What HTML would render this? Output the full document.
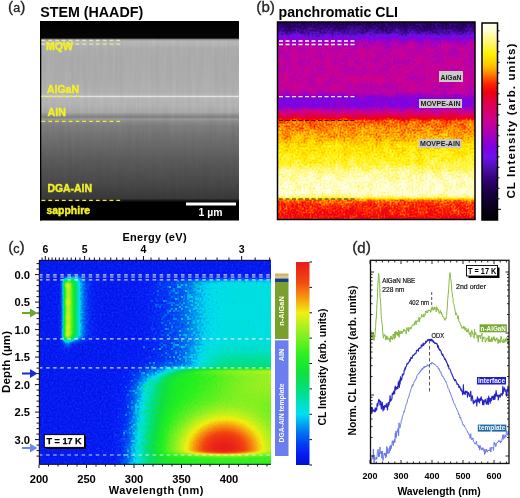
<!DOCTYPE html><html><head><meta charset="utf-8"><style>html,body{margin:0;padding:0;background:#fff;width:520px;height:498px;overflow:hidden}svg{display:block}text{font-family:"Liberation Sans",Arial,sans-serif}.b{font-weight:bold}</style></head><body>
<svg width="520" height="498" viewBox="0 0 520 498">
<defs>
<linearGradient id="ga" x1="0" y1="0" x2="0" y2="1">
<stop offset="0.0000" stop-color="#000000"/>
<stop offset="0.0854" stop-color="#050505"/>
<stop offset="0.0930" stop-color="#909090"/>
<stop offset="0.1005" stop-color="#b8b8b8"/>
<stop offset="0.1156" stop-color="#b4b4b4"/>
<stop offset="0.1357" stop-color="#acacac"/>
<stop offset="0.1960" stop-color="#aaaaaa"/>
<stop offset="0.2965" stop-color="#acacac"/>
<stop offset="0.3568" stop-color="#b0b0b0"/>
<stop offset="0.3719" stop-color="#b6b6b6"/>
<stop offset="0.3784" stop-color="#e4e4e4"/>
<stop offset="0.3844" stop-color="#b6b6b6"/>
<stop offset="0.4221" stop-color="#b2b2b2"/>
<stop offset="0.4573" stop-color="#a8a8a8"/>
<stop offset="0.4749" stop-color="#8a8a8a"/>
<stop offset="0.4824" stop-color="#808080"/>
<stop offset="0.4925" stop-color="#9a9a9a"/>
<stop offset="0.5025" stop-color="#8a8a8a"/>
<stop offset="0.5226" stop-color="#7e7e7e"/>
<stop offset="0.5729" stop-color="#727272"/>
<stop offset="0.6985" stop-color="#5a5a5a"/>
<stop offset="0.8241" stop-color="#464646"/>
<stop offset="0.8894" stop-color="#383838"/>
<stop offset="0.8995" stop-color="#181818"/>
<stop offset="0.9095" stop-color="#000000"/>
<stop offset="1.0000" stop-color="#000000"/>
</linearGradient>
<filter id="fa" x="40" y="21" width="199" height="199.5" filterUnits="userSpaceOnUse" color-interpolation-filters="sRGB">
<feTurbulence type="fractalNoise" baseFrequency="0.25 0.02" numOctaves="2" seed="2" result="t"/>
<feColorMatrix in="t" type="matrix" values="1 0 0 0 0 1 0 0 0 0 1 0 0 0 0 0 0 0 0 1" result="n"/>
<feComposite in="SourceGraphic" in2="n" operator="arithmetic" k1="0.07" k2="0.965" k3="0" k4="0"/>
</filter>
</defs>
<text x="8" y="11.6" font-size="15.5" fill="#222" stroke="#222" stroke-width="0.3">(<tspan font-size="12.5" dy="0.7">a</tspan><tspan dy="-0.7">)</tspan></text>
<text class="b" x="40.2" y="17.3" font-size="14" textLength="103" lengthAdjust="spacingAndGlyphs">STEM (HAADF)</text>
<rect x="40" y="21" width="199" height="199.5" fill="url(#ga)" filter="url(#fa)"/>
<rect x="40" y="21" width="1.3" height="199.5" fill="#000"/>
<line x1="41.5" y1="40.4" x2="121" y2="40.4" stroke="#e8e8a8" stroke-width="1.3" stroke-dasharray="3.8,3" opacity="1"/>
<line x1="41.5" y1="44.2" x2="121" y2="44.2" stroke="#e8e8a8" stroke-width="1.3" stroke-dasharray="3.8,3" opacity="1"/>
<line x1="41.5" y1="96.3" x2="82" y2="96.3" stroke="#f2ee2a" stroke-width="1.2" stroke-dasharray="3.8,3" opacity="1"/>
<line x1="41.5" y1="121.4" x2="121" y2="121.4" stroke="#f2ee2a" stroke-width="1.3" stroke-dasharray="3.8,3" opacity="1"/>
<line x1="41.5" y1="200.4" x2="121" y2="200.4" stroke="#f2ee2a" stroke-width="1.3" stroke-dasharray="3.8,3" opacity="1"/>
<text class="b" x="46" y="49.6" font-size="11" fill="#f2ee2a" stroke="#f2ee2a" stroke-width="0.45" textLength="27" lengthAdjust="spacingAndGlyphs">MQW</text>
<text class="b" x="47" y="92.8" font-size="11" fill="#f2ee2a" stroke="#f2ee2a" stroke-width="0.45" textLength="32" lengthAdjust="spacingAndGlyphs">AlGaN</text>
<text class="b" x="47.5" y="115.8" font-size="11" fill="#f2ee2a" stroke="#f2ee2a" stroke-width="0.45" textLength="18.5" lengthAdjust="spacingAndGlyphs">AlN</text>
<text class="b" x="47.5" y="191.5" font-size="11" fill="#f2ee2a" stroke="#f2ee2a" stroke-width="0.45" textLength="44.5" lengthAdjust="spacingAndGlyphs">DGA-AlN</text>
<text class="b" x="46.5" y="213.5" font-size="11" fill="#f2ee2a" stroke="#f2ee2a" stroke-width="0.45" textLength="43.5" lengthAdjust="spacingAndGlyphs">sapphire</text>
<rect x="186" y="202.5" width="50" height="3" fill="#fff"/>
<text class="b" x="198.5" y="215.8" font-size="10.5" fill="#fff" textLength="24" lengthAdjust="spacingAndGlyphs">1 µm</text>
<text x="256.3" y="11.5" font-size="15.5" fill="#222" stroke="#222" stroke-width="0.3">(<tspan font-size="15" dy="0.4">b</tspan><tspan dy="-0.4">)</tspan></text>
<text class="b" x="278.5" y="17.4" font-size="14" textLength="119.5" lengthAdjust="spacingAndGlyphs">panchromatic CLI</text>
<defs><linearGradient id="gpb" x1="0" y1="22" x2="0" y2="219.5" gradientUnits="userSpaceOnUse"><stop offset="0.0000" stop-color="#2b2b2b"/><stop offset="0.0304" stop-color="#333333"/><stop offset="0.0557" stop-color="#424242"/><stop offset="0.0759" stop-color="#575757"/><stop offset="0.0962" stop-color="#6b6b6b"/><stop offset="0.1215" stop-color="#787878"/><stop offset="0.1924" stop-color="#7a7a7a"/><stop offset="0.2937" stop-color="#7c7c7c"/><stop offset="0.3544" stop-color="#797979"/><stop offset="0.3747" stop-color="#696969"/><stop offset="0.3949" stop-color="#5c5c5c"/><stop offset="0.4253" stop-color="#5e5e5e"/><stop offset="0.4456" stop-color="#787878"/><stop offset="0.4658" stop-color="#8f8f8f"/><stop offset="0.4861" stop-color="#a1a1a1"/><stop offset="0.5013" stop-color="#b8b8b8"/><stop offset="0.5468" stop-color="#bfbfbf"/><stop offset="0.5975" stop-color="#c8c8c8"/><stop offset="0.6481" stop-color="#d4d4d4"/><stop offset="0.6987" stop-color="#dbdbdb"/><stop offset="0.7392" stop-color="#e3e3e3"/><stop offset="0.7696" stop-color="#ededed"/><stop offset="0.8000" stop-color="#f2f2f2"/><stop offset="0.8658" stop-color="#f5f5f5"/><stop offset="0.8861" stop-color="#e6e6e6"/><stop offset="0.9013" stop-color="#bdbdbd"/><stop offset="0.9266" stop-color="#b2b2b2"/><stop offset="0.9620" stop-color="#adadad"/><stop offset="1.0000" stop-color="#a8a8a8"/></linearGradient>
<filter id="fb" x="278" y="22" width="197" height="197.5" filterUnits="userSpaceOnUse" color-interpolation-filters="sRGB">
<feTurbulence type="fractalNoise" baseFrequency="0.5" numOctaves="2" seed="4" result="t"/>
<feColorMatrix in="t" type="matrix" values="1 0 0 0 0 1 0 0 0 0 1 0 0 0 0 0 0 0 0 1" result="n"/>
<feGaussianBlur in="n" stdDeviation="0.5" result="nb"/>
<feTurbulence type="fractalNoise" baseFrequency="0.12" numOctaves="1" seed="8" result="t2"/>
<feColorMatrix in="t2" type="matrix" values="1 0 0 0 0 1 0 0 0 0 1 0 0 0 0 0 0 0 0 1" result="n2"/>
<feComposite in="SourceGraphic" in2="nb" operator="arithmetic" k1="0" k2="1" k3="0.17" k4="-0.085" result="s1"/>
<feComposite in="s1" in2="n2" operator="arithmetic" k1="0" k2="1" k3="0.12" k4="-0.06" result="s"/>
<feComponentTransfer in="s"><feFuncR type="table" tableValues="0.0000 0.0089 0.0178 0.0267 0.0356 0.0478 0.0623 0.0768 0.0914 0.1114 0.1327 0.1541 0.1754 0.1996 0.2281 0.2565 0.2850 0.3134 0.3532 0.3930 0.4328 0.4559 0.4759 0.4958 0.5277 0.5651 0.6024 0.6398 0.6771 0.7118 0.7450 0.7782 0.8114 0.8252 0.8361 0.8480 0.8620 0.8761 0.8922 0.9088 0.9254 0.9423 0.9657 0.9890 1.0000 1.0000 1.0000 1.0000 1.0000 1.0000 1.0000 1.0000 1.0000 1.0000 1.0000 1.0000 1.0000 1.0000 1.0000 1.0000 1.0000 1.0000 1.0000 1.0000"/><feFuncG type="table" tableValues="0.0000 0.0000 0.0000 0.0000 0.0000 0.0000 0.0000 0.0000 0.0000 0.0000 0.0000 0.0000 0.0000 0.0057 0.0199 0.0341 0.0484 0.0626 0.0627 0.0627 0.0627 0.0460 0.0261 0.0062 0.0000 0.0000 0.0000 0.0000 0.0000 0.0000 0.0000 0.0000 0.0000 0.0000 0.0000 0.0000 0.0000 0.0000 0.0000 0.0000 0.0000 0.0025 0.0523 0.1021 0.1888 0.3083 0.4279 0.5398 0.6394 0.7390 0.7958 0.8456 0.8954 0.9417 0.9489 0.9560 0.9631 0.9702 0.9774 0.9847 0.9919 0.9992 1.0000 1.0000"/><feFuncB type="table" tableValues="0.0000 0.0285 0.0569 0.0854 0.1138 0.1451 0.1783 0.2115 0.2447 0.2856 0.3282 0.3709 0.4136 0.4620 0.5189 0.5758 0.6327 0.6896 0.7691 0.8488 0.9284 0.9244 0.9045 0.8846 0.8527 0.8153 0.7780 0.7406 0.7033 0.6686 0.6354 0.6022 0.5690 0.5187 0.4658 0.4150 0.3683 0.3217 0.2586 0.1922 0.1258 0.0615 0.0366 0.0117 0.0000 0.0000 0.0000 0.0000 0.0000 0.0000 0.0000 0.0000 0.0000 0.0091 0.1229 0.2368 0.3506 0.4644 0.5659 0.6614 0.7568 0.8522 0.8997 0.9412"/></feComponentTransfer>
</filter></defs>
<rect x="278" y="22" width="197" height="197.5" fill="url(#gpb)" filter="url(#fb)"/>
<rect x="277.5" y="22" width="197.5" height="197.5" fill="none" stroke="#000" stroke-width="1.5"/>
<line x1="279" y1="41" x2="357" y2="41" stroke="#ffffff" stroke-width="1.3" stroke-dasharray="4,2.5" opacity="1"/>
<line x1="279" y1="44.5" x2="357" y2="44.5" stroke="#ffffff" stroke-width="1.3" stroke-dasharray="4,2.5" opacity="1"/>
<line x1="279" y1="96.7" x2="357" y2="96.7" stroke="#ffffff" stroke-width="1.3" stroke-dasharray="4,2.5" opacity="1"/>
<line x1="279" y1="120.5" x2="357" y2="120.5" stroke="#501010" stroke-width="1.2" stroke-dasharray="4,2.5" opacity="1"/>
<line x1="279" y1="199" x2="357" y2="199" stroke="#303020" stroke-width="1.2" stroke-dasharray="4,2.5" opacity="1"/>
<rect x="439" y="71" width="24" height="11" fill="#c9c9c9"/>
<text class="b" x="451.0" y="79.8" font-size="8" fill="#1a1a1a" text-anchor="middle" textLength="21" lengthAdjust="spacingAndGlyphs">AlGaN</text>
<rect x="419" y="99" width="43" height="9" fill="#c9c9c9"/>
<text class="b" x="440.5" y="105.8" font-size="8" fill="#1a1a1a" text-anchor="middle" textLength="40" lengthAdjust="spacingAndGlyphs">MOVPE-AlN</text>
<rect x="418.5" y="139" width="43" height="9" fill="#c9c9c9"/>
<text class="b" x="440.0" y="145.8" font-size="8" fill="#1a1a1a" text-anchor="middle" textLength="40" lengthAdjust="spacingAndGlyphs">MOVPE-AlN</text>
<linearGradient id="gcb" x1="0" y1="1" x2="0" y2="0"><stop offset="0.0" stop-color="#000000"/><stop offset="0.07" stop-color="#0a0020"/><stop offset="0.13" stop-color="#180040"/><stop offset="0.2" stop-color="#300070"/><stop offset="0.27" stop-color="#5010b0"/><stop offset="0.32" stop-color="#7010f0"/><stop offset="0.37" stop-color="#8000e0"/><stop offset="0.45" stop-color="#b000b0"/><stop offset="0.51" stop-color="#d00090"/><stop offset="0.55" stop-color="#d7006e"/><stop offset="0.59" stop-color="#e00050"/><stop offset="0.65" stop-color="#f00010"/><stop offset="0.69" stop-color="#ff2000"/><stop offset="0.74" stop-color="#ff8000"/><stop offset="0.78" stop-color="#ffc000"/><stop offset="0.84" stop-color="#fff000"/><stop offset="0.91" stop-color="#fff880"/><stop offset="0.97" stop-color="#ffffdc"/><stop offset="1.0" stop-color="#fffff0"/></linearGradient>
<rect x="482" y="23" width="15.5" height="197" fill="url(#gcb)" stroke="#000" stroke-width="1.5"/>
<line x1="497" y1="209.3" x2="501" y2="209.3" stroke="#000" stroke-width="1"/>
<line x1="497" y1="198.8" x2="499.5" y2="198.8" stroke="#000" stroke-width="1"/>
<line x1="497" y1="188.3" x2="499.5" y2="188.3" stroke="#000" stroke-width="1"/>
<line x1="497" y1="177.8" x2="499.5" y2="177.8" stroke="#000" stroke-width="1"/>
<line x1="497" y1="167.3" x2="499.5" y2="167.3" stroke="#000" stroke-width="1"/>
<line x1="497" y1="156.8" x2="499.5" y2="156.8" stroke="#000" stroke-width="1"/>
<line x1="497" y1="146.3" x2="499.5" y2="146.3" stroke="#000" stroke-width="1"/>
<line x1="497" y1="135.8" x2="499.5" y2="135.8" stroke="#000" stroke-width="1"/>
<line x1="497" y1="125.3" x2="499.5" y2="125.3" stroke="#000" stroke-width="1"/>
<line x1="497" y1="114.8" x2="499.5" y2="114.8" stroke="#000" stroke-width="1"/>
<line x1="497" y1="104.3" x2="501" y2="104.3" stroke="#000" stroke-width="1"/>
<line x1="497" y1="93.8" x2="499.5" y2="93.8" stroke="#000" stroke-width="1"/>
<line x1="497" y1="83.3" x2="499.5" y2="83.3" stroke="#000" stroke-width="1"/>
<line x1="497" y1="72.8" x2="499.5" y2="72.8" stroke="#000" stroke-width="1"/>
<line x1="497" y1="62.3" x2="499.5" y2="62.3" stroke="#000" stroke-width="1"/>
<line x1="497" y1="51.8" x2="499.5" y2="51.8" stroke="#000" stroke-width="1"/>
<line x1="497" y1="41.3" x2="499.5" y2="41.3" stroke="#000" stroke-width="1"/>
<line x1="497" y1="30.8" x2="499.5" y2="30.8" stroke="#000" stroke-width="1"/>
<text class="b" transform="translate(514.6,198.6) rotate(-90)" font-size="11.6" textLength="155" lengthAdjust="spacing">CL Intensity (arb. units)</text>
<text x="8.2" y="252.3" font-size="15.5" fill="#222" stroke="#222" stroke-width="0.3">(<tspan font-size="12.5" dy="0.7">c</tspan><tspan dy="-0.7">)</tspan></text>
<text class="b" x="122.4" y="240.8" font-size="11" textLength="64.2" lengthAdjust="spacing">Energy (eV)</text>
<text class="b" x="45.307999999999986" y="252.5" font-size="10.5" text-anchor="middle">6</text>
<text class="b" x="84.56959999999998" y="252.5" font-size="10.5" text-anchor="middle">5</text>
<text class="b" x="143.462" y="252.5" font-size="10.5" text-anchor="middle">4</text>
<text class="b" x="241.61599999999996" y="252.5" font-size="10.5" text-anchor="middle">3</text>
<defs><clipPath id="cpc"><rect x="39" y="260" width="232" height="204.60000000000002"/></clipPath>
<filter id="fc" x="31" y="252" width="248" height="220.60000000000002" filterUnits="userSpaceOnUse" color-interpolation-filters="sRGB">
<feGaussianBlur in="SourceGraphic" stdDeviation="1.6" result="g"/>
<feTurbulence type="fractalNoise" baseFrequency="0.5" numOctaves="2" seed="9" result="t"/>
<feColorMatrix in="t" type="matrix" values="1 0 0 0 0 1 0 0 0 0 1 0 0 0 0 0 0 0 0 1" result="n"/>
<feComposite in="g" in2="n" operator="arithmetic" k1="-0.14" k2="1.07" k3="0.14" k4="-0.07" result="s"/>
<feComponentTransfer in="s"><feFuncR type="table" tableValues="0.0000 0.0055 0.0110 0.0165 0.0220 0.0275 0.0299 0.0249 0.0199 0.0149 0.0099 0.0049 0.0000 0.0000 0.0000 0.0000 0.0000 0.0000 0.0000 0.0000 0.0000 0.0000 0.0000 0.0000 0.0000 0.0000 0.0000 0.0000 0.0000 0.0000 0.0000 0.0000 0.0000 0.0000 0.0000 0.0018 0.0097 0.0175 0.0254 0.0333 0.0411 0.0490 0.0568 0.0648 0.0731 0.0813 0.0896 0.0978 0.1061 0.1143 0.1226 0.1500 0.1878 0.2255 0.2632 0.3010 0.3387 0.3765 0.4142 0.4520 0.4897 0.5274 0.5652 0.6029 0.6419 0.6832 0.7245 0.7657 0.8070 0.8483 0.8896 0.9309 0.9443 0.9484 0.9525 0.9567 0.9608 0.9649 0.9690 0.9719 0.9678 0.9637 0.9595 0.9554 0.9513 0.9472 0.9430 0.9392 0.9355 0.9318 0.9282 0.9245 0.9208 0.9171 0.9135 0.9098"/><feFuncG type="table" tableValues="0.0627 0.0710 0.0793 0.0875 0.0958 0.1040 0.1196 0.1521 0.1846 0.2171 0.2497 0.2822 0.3150 0.3583 0.4016 0.4450 0.4883 0.5316 0.5770 0.6294 0.6819 0.7343 0.7867 0.8391 0.8784 0.8784 0.8784 0.8784 0.8784 0.8784 0.8784 0.8784 0.8784 0.8784 0.8784 0.8784 0.8784 0.8784 0.8784 0.8784 0.8784 0.8784 0.8784 0.8805 0.8888 0.8970 0.9053 0.9135 0.9218 0.9300 0.9383 0.9412 0.9412 0.9412 0.9412 0.9412 0.9412 0.9412 0.9412 0.9412 0.9412 0.9412 0.9412 0.9412 0.9412 0.9412 0.9412 0.9412 0.9412 0.9412 0.9412 0.9412 0.9040 0.8545 0.8050 0.7554 0.7059 0.6563 0.6068 0.5585 0.5172 0.4760 0.4347 0.3934 0.3521 0.3108 0.2696 0.2419 0.2254 0.2089 0.1924 0.1759 0.1593 0.1428 0.1263 0.1098"/><feFuncB type="table" tableValues="0.8157 0.8432 0.8707 0.8982 0.9258 0.9533 0.9710 0.9660 0.9610 0.9560 0.9510 0.9460 0.9412 0.9412 0.9412 0.9412 0.9412 0.9412 0.9412 0.9412 0.9412 0.9412 0.9412 0.9412 0.9322 0.8961 0.8601 0.8241 0.7881 0.7519 0.7085 0.6652 0.6219 0.5786 0.5353 0.4947 0.4633 0.4318 0.4004 0.3689 0.3375 0.3060 0.2746 0.2469 0.2303 0.2138 0.1973 0.1808 0.1643 0.1478 0.1313 0.1255 0.1255 0.1255 0.1255 0.1255 0.1255 0.1255 0.1255 0.1255 0.1255 0.1255 0.1255 0.1255 0.1226 0.1143 0.1061 0.0978 0.0896 0.0813 0.0731 0.0648 0.0627 0.0627 0.0627 0.0627 0.0627 0.0627 0.0627 0.0627 0.0627 0.0627 0.0627 0.0627 0.0627 0.0627 0.0627 0.0658 0.0713 0.0768 0.0823 0.0878 0.0933 0.0988 0.1043 0.1098"/></feComponentTransfer>
</filter></defs>
<g clip-path="url(#cpc)"><g filter="url(#fc)">
<path fill="#0d0d0d" d="M31 252h3v3h-3zM34 252h3v3h-3zM37 252h3v3h-3zM40 252h3v3h-3zM43 252h3v3h-3zM46 252h3v3h-3zM49 252h3v3h-3zM52 252h3v3h-3zM55 252h3v3h-3zM58 252h3v3h-3zM61 252h3v3h-3zM64 252h3v3h-3zM67 252h3v3h-3zM70 252h3v3h-3zM73 252h3v3h-3zM76 252h3v3h-3zM79 252h3v3h-3zM82 252h3v3h-3zM85 252h3v3h-3zM88 252h3v3h-3zM91 252h3v3h-3zM94 252h3v3h-3zM97 252h3v3h-3zM100 252h3v3h-3zM103 252h3v3h-3zM106 252h3v3h-3zM109 252h3v3h-3zM112 252h3v3h-3zM115 252h3v3h-3zM118 252h3v3h-3zM121 252h3v3h-3zM124 252h3v3h-3zM127 252h3v3h-3zM130 252h3v3h-3zM133 252h3v3h-3zM136 252h3v3h-3zM139 252h3v3h-3zM142 252h3v3h-3zM145 252h3v3h-3zM148 252h3v3h-3zM151 252h3v3h-3zM154 252h3v3h-3zM157 252h3v3h-3zM160 252h3v3h-3zM163 252h3v3h-3zM166 252h3v3h-3zM169 252h3v3h-3zM172 252h3v3h-3zM175 252h3v3h-3zM178 252h3v3h-3zM181 252h3v3h-3zM184 252h3v3h-3zM187 252h3v3h-3zM190 252h3v3h-3zM193 252h3v3h-3zM196 252h3v3h-3zM199 252h3v3h-3zM202 252h3v3h-3zM205 252h3v3h-3zM208 252h3v3h-3zM211 252h3v3h-3zM214 252h3v3h-3zM217 252h3v3h-3zM220 252h3v3h-3zM223 252h3v3h-3zM226 252h3v3h-3zM229 252h3v3h-3zM232 252h3v3h-3zM235 252h3v3h-3zM238 252h3v3h-3zM241 252h3v3h-3zM244 252h3v3h-3zM247 252h3v3h-3zM250 252h3v3h-3zM253 252h3v3h-3zM256 252h3v3h-3zM259 252h3v3h-3zM262 252h3v3h-3zM265 252h3v3h-3zM268 252h3v3h-3zM271 252h3v3h-3zM274 252h3v3h-3zM277 252h3v3h-3zM31 255h3v3h-3zM34 255h3v3h-3zM37 255h3v3h-3zM40 255h3v3h-3zM43 255h3v3h-3zM46 255h3v3h-3zM49 255h3v3h-3zM52 255h3v3h-3zM55 255h3v3h-3zM58 255h3v3h-3zM61 255h3v3h-3zM64 255h3v3h-3zM67 255h3v3h-3zM70 255h3v3h-3zM73 255h3v3h-3zM76 255h3v3h-3zM79 255h3v3h-3zM82 255h3v3h-3zM85 255h3v3h-3zM88 255h3v3h-3zM91 255h3v3h-3zM94 255h3v3h-3zM97 255h3v3h-3zM100 255h3v3h-3zM103 255h3v3h-3zM106 255h3v3h-3zM109 255h3v3h-3zM112 255h3v3h-3zM115 255h3v3h-3zM118 255h3v3h-3zM121 255h3v3h-3zM124 255h3v3h-3zM127 255h3v3h-3zM130 255h3v3h-3zM133 255h3v3h-3zM136 255h3v3h-3zM139 255h3v3h-3zM142 255h3v3h-3zM145 255h3v3h-3zM148 255h3v3h-3zM151 255h3v3h-3zM154 255h3v3h-3zM157 255h3v3h-3zM160 255h3v3h-3zM163 255h3v3h-3zM166 255h3v3h-3zM169 255h3v3h-3zM172 255h3v3h-3zM175 255h3v3h-3zM178 255h3v3h-3zM181 255h3v3h-3zM184 255h3v3h-3zM187 255h3v3h-3zM190 255h3v3h-3zM193 255h3v3h-3zM196 255h3v3h-3zM199 255h3v3h-3zM202 255h3v3h-3zM205 255h3v3h-3zM208 255h3v3h-3zM211 255h3v3h-3zM214 255h3v3h-3zM217 255h3v3h-3zM220 255h3v3h-3zM223 255h3v3h-3zM226 255h3v3h-3zM229 255h3v3h-3zM232 255h3v3h-3zM235 255h3v3h-3zM238 255h3v3h-3zM241 255h3v3h-3zM244 255h3v3h-3zM247 255h3v3h-3zM250 255h3v3h-3zM253 255h3v3h-3zM256 255h3v3h-3zM259 255h3v3h-3zM262 255h3v3h-3zM265 255h3v3h-3zM268 255h3v3h-3zM271 255h3v3h-3zM274 255h3v3h-3zM277 255h3v3h-3zM31 258h3v3h-3zM34 258h3v3h-3zM37 258h3v3h-3zM40 258h3v3h-3zM43 258h3v3h-3zM46 258h3v3h-3zM49 258h3v3h-3zM52 258h3v3h-3zM55 258h3v3h-3zM58 258h3v3h-3zM61 258h3v3h-3zM64 258h3v3h-3zM67 258h3v3h-3zM70 258h3v3h-3zM73 258h3v3h-3zM76 258h3v3h-3zM79 258h3v3h-3zM82 258h3v3h-3zM85 258h3v3h-3zM88 258h3v3h-3zM91 258h3v3h-3zM94 258h3v3h-3zM97 258h3v3h-3zM100 258h3v3h-3zM103 258h3v3h-3zM106 258h3v3h-3zM109 258h3v3h-3zM112 258h3v3h-3zM115 258h3v3h-3zM118 258h3v3h-3zM121 258h3v3h-3zM124 258h3v3h-3zM127 258h3v3h-3zM130 258h3v3h-3zM133 258h3v3h-3zM136 258h3v3h-3zM139 258h3v3h-3zM142 258h3v3h-3zM145 258h3v3h-3zM148 258h3v3h-3zM151 258h3v3h-3zM154 258h3v3h-3zM157 258h3v3h-3zM160 258h3v3h-3zM163 258h3v3h-3zM166 258h3v3h-3zM169 258h3v3h-3zM172 258h3v3h-3zM175 258h3v3h-3zM178 258h3v3h-3zM181 258h3v3h-3zM184 258h3v3h-3zM187 258h3v3h-3zM190 258h3v3h-3zM193 258h3v3h-3zM196 258h3v3h-3zM199 258h3v3h-3zM202 258h3v3h-3zM205 258h3v3h-3zM208 258h3v3h-3zM211 258h3v3h-3zM214 258h3v3h-3zM217 258h3v3h-3zM220 258h3v3h-3zM223 258h3v3h-3zM226 258h3v3h-3zM229 258h3v3h-3zM232 258h3v3h-3zM235 258h3v3h-3zM238 258h3v3h-3zM241 258h3v3h-3zM244 258h3v3h-3zM247 258h3v3h-3zM250 258h3v3h-3zM253 258h3v3h-3zM256 258h3v3h-3zM259 258h3v3h-3zM262 258h3v3h-3zM265 258h3v3h-3zM268 258h3v3h-3zM271 258h3v3h-3zM274 258h3v3h-3zM277 258h3v3h-3zM31 261h3v3h-3zM34 261h3v3h-3zM37 261h3v3h-3zM40 261h3v3h-3zM43 261h3v3h-3zM46 261h3v3h-3zM49 261h3v3h-3zM52 261h3v3h-3zM55 261h3v3h-3zM58 261h3v3h-3zM61 261h3v3h-3zM64 261h3v3h-3zM67 261h3v3h-3zM70 261h3v3h-3zM73 261h3v3h-3zM76 261h3v3h-3zM79 261h3v3h-3zM82 261h3v3h-3zM85 261h3v3h-3zM88 261h3v3h-3zM91 261h3v3h-3zM94 261h3v3h-3zM97 261h3v3h-3zM100 261h3v3h-3zM103 261h3v3h-3zM106 261h3v3h-3zM109 261h3v3h-3zM112 261h3v3h-3zM115 261h3v3h-3zM118 261h3v3h-3zM121 261h3v3h-3zM124 261h3v3h-3zM127 261h3v3h-3zM130 261h3v3h-3zM133 261h3v3h-3zM136 261h3v3h-3zM139 261h3v3h-3zM142 261h3v3h-3zM145 261h3v3h-3zM148 261h3v3h-3zM151 261h3v3h-3zM154 261h3v3h-3zM157 261h3v3h-3zM160 261h3v3h-3zM163 261h3v3h-3zM166 261h3v3h-3zM169 261h3v3h-3zM172 261h3v3h-3zM175 261h3v3h-3zM178 261h3v3h-3zM181 261h3v3h-3zM184 261h3v3h-3zM187 261h3v3h-3zM190 261h3v3h-3zM193 261h3v3h-3zM196 261h3v3h-3zM199 261h3v3h-3zM202 261h3v3h-3zM205 261h3v3h-3zM208 261h3v3h-3zM211 261h3v3h-3zM214 261h3v3h-3zM217 261h3v3h-3zM220 261h3v3h-3zM223 261h3v3h-3zM226 261h3v3h-3zM229 261h3v3h-3zM232 261h3v3h-3zM235 261h3v3h-3zM238 261h3v3h-3zM241 261h3v3h-3zM244 261h3v3h-3zM247 261h3v3h-3zM250 261h3v3h-3zM253 261h3v3h-3zM256 261h3v3h-3zM259 261h3v3h-3zM262 261h3v3h-3zM265 261h3v3h-3zM268 261h3v3h-3zM271 261h3v3h-3zM274 261h3v3h-3zM277 261h3v3h-3zM31 264h3v3h-3zM34 264h3v3h-3zM37 264h3v3h-3zM40 264h3v3h-3zM43 264h3v3h-3zM46 264h3v3h-3zM49 264h3v3h-3zM52 264h3v3h-3zM55 264h3v3h-3zM58 264h3v3h-3zM61 264h3v3h-3zM64 264h3v3h-3zM67 264h3v3h-3zM70 264h3v3h-3zM73 264h3v3h-3zM76 264h3v3h-3zM79 264h3v3h-3zM82 264h3v3h-3zM85 264h3v3h-3zM88 264h3v3h-3zM91 264h3v3h-3zM94 264h3v3h-3zM97 264h3v3h-3zM100 264h3v3h-3zM103 264h3v3h-3zM106 264h3v3h-3zM109 264h3v3h-3zM112 264h3v3h-3zM115 264h3v3h-3zM118 264h3v3h-3zM121 264h3v3h-3zM124 264h3v3h-3zM127 264h3v3h-3zM130 264h3v3h-3zM133 264h3v3h-3zM136 264h3v3h-3zM139 264h3v3h-3zM142 264h3v3h-3zM145 264h3v3h-3zM148 264h3v3h-3zM151 264h3v3h-3zM154 264h3v3h-3zM157 264h3v3h-3zM160 264h3v3h-3zM163 264h3v3h-3zM166 264h3v3h-3zM169 264h3v3h-3zM172 264h3v3h-3zM175 264h3v3h-3zM178 264h3v3h-3zM181 264h3v3h-3zM184 264h3v3h-3zM187 264h3v3h-3zM190 264h3v3h-3zM193 264h3v3h-3zM196 264h3v3h-3zM199 264h3v3h-3zM202 264h3v3h-3zM205 264h3v3h-3zM208 264h3v3h-3zM211 264h3v3h-3zM214 264h3v3h-3zM217 264h3v3h-3zM220 264h3v3h-3zM223 264h3v3h-3zM226 264h3v3h-3zM229 264h3v3h-3zM232 264h3v3h-3zM235 264h3v3h-3zM238 264h3v3h-3zM241 264h3v3h-3zM244 264h3v3h-3zM247 264h3v3h-3zM250 264h3v3h-3zM253 264h3v3h-3zM256 264h3v3h-3zM259 264h3v3h-3zM262 264h3v3h-3zM265 264h3v3h-3zM268 264h3v3h-3zM271 264h3v3h-3zM274 264h3v3h-3zM277 264h3v3h-3zM31 267h3v3h-3zM34 267h3v3h-3zM37 267h3v3h-3zM40 267h3v3h-3zM43 267h3v3h-3zM46 267h3v3h-3zM49 267h3v3h-3zM52 267h3v3h-3zM55 267h3v3h-3zM58 267h3v3h-3zM61 267h3v3h-3zM64 267h3v3h-3zM67 267h3v3h-3zM70 267h3v3h-3zM73 267h3v3h-3zM76 267h3v3h-3zM79 267h3v3h-3zM82 267h3v3h-3zM85 267h3v3h-3zM88 267h3v3h-3zM91 267h3v3h-3zM94 267h3v3h-3zM97 267h3v3h-3zM100 267h3v3h-3zM103 267h3v3h-3zM106 267h3v3h-3zM109 267h3v3h-3zM112 267h3v3h-3zM115 267h3v3h-3zM118 267h3v3h-3zM121 267h3v3h-3zM124 267h3v3h-3zM127 267h3v3h-3zM130 267h3v3h-3zM133 267h3v3h-3zM136 267h3v3h-3zM139 267h3v3h-3zM142 267h3v3h-3zM145 267h3v3h-3zM148 267h3v3h-3zM151 267h3v3h-3zM154 267h3v3h-3zM157 267h3v3h-3zM160 267h3v3h-3zM163 267h3v3h-3zM166 267h3v3h-3zM169 267h3v3h-3zM172 267h3v3h-3zM175 267h3v3h-3zM178 267h3v3h-3zM181 267h3v3h-3zM184 267h3v3h-3zM187 267h3v3h-3zM190 267h3v3h-3zM193 267h3v3h-3zM196 267h3v3h-3zM199 267h3v3h-3zM202 267h3v3h-3zM205 267h3v3h-3zM208 267h3v3h-3zM211 267h3v3h-3zM214 267h3v3h-3zM217 267h3v3h-3zM220 267h3v3h-3zM223 267h3v3h-3zM226 267h3v3h-3zM229 267h3v3h-3zM232 267h3v3h-3zM235 267h3v3h-3zM238 267h3v3h-3zM241 267h3v3h-3zM244 267h3v3h-3zM247 267h3v3h-3zM250 267h3v3h-3zM253 267h3v3h-3zM256 267h3v3h-3zM259 267h3v3h-3zM262 267h3v3h-3zM265 267h3v3h-3zM268 267h3v3h-3zM271 267h3v3h-3zM274 267h3v3h-3zM277 267h3v3h-3zM31 270h3v3h-3zM34 270h3v3h-3zM37 270h3v3h-3zM40 270h3v3h-3zM43 270h3v3h-3zM46 270h3v3h-3zM49 270h3v3h-3zM52 270h3v3h-3zM55 270h3v3h-3zM58 270h3v3h-3zM61 270h3v3h-3zM85 270h3v3h-3zM88 270h3v3h-3zM91 270h3v3h-3zM94 270h3v3h-3zM97 270h3v3h-3zM100 270h3v3h-3zM103 270h3v3h-3zM106 270h3v3h-3zM109 270h3v3h-3zM112 270h3v3h-3zM115 270h3v3h-3zM118 270h3v3h-3zM121 270h3v3h-3zM124 270h3v3h-3zM127 270h3v3h-3zM130 270h3v3h-3zM133 270h3v3h-3zM136 270h3v3h-3zM139 270h3v3h-3zM142 270h3v3h-3zM145 270h3v3h-3zM148 270h3v3h-3zM151 270h3v3h-3zM154 270h3v3h-3zM157 270h3v3h-3zM160 270h3v3h-3zM163 270h3v3h-3zM166 270h3v3h-3zM169 270h3v3h-3zM172 270h3v3h-3zM175 270h3v3h-3zM178 270h3v3h-3zM181 270h3v3h-3zM184 270h3v3h-3zM187 270h3v3h-3zM190 270h3v3h-3zM193 270h3v3h-3zM196 270h3v3h-3zM199 270h3v3h-3zM202 270h3v3h-3zM205 270h3v3h-3zM208 270h3v3h-3zM211 270h3v3h-3zM214 270h3v3h-3zM217 270h3v3h-3zM220 270h3v3h-3zM223 270h3v3h-3zM226 270h3v3h-3zM229 270h3v3h-3zM232 270h3v3h-3zM235 270h3v3h-3zM238 270h3v3h-3zM241 270h3v3h-3zM244 270h3v3h-3zM247 270h3v3h-3zM250 270h3v3h-3zM253 270h3v3h-3zM256 270h3v3h-3zM259 270h3v3h-3zM262 270h3v3h-3zM265 270h3v3h-3zM268 270h3v3h-3zM271 270h3v3h-3zM274 270h3v3h-3zM277 270h3v3h-3zM31 273h3v3h-3zM34 273h3v3h-3zM37 273h3v3h-3zM40 273h3v3h-3zM43 273h3v3h-3zM46 273h3v3h-3zM49 273h3v3h-3zM52 273h3v3h-3zM55 273h3v3h-3zM58 273h3v3h-3zM94 273h3v3h-3zM97 273h3v3h-3zM100 273h3v3h-3zM103 273h3v3h-3zM106 273h3v3h-3zM109 273h3v3h-3zM112 273h3v3h-3zM115 273h3v3h-3zM118 273h3v3h-3zM121 273h3v3h-3zM124 273h3v3h-3zM127 273h3v3h-3zM130 273h3v3h-3zM133 273h3v3h-3zM136 273h3v3h-3zM139 273h3v3h-3zM142 273h3v3h-3zM145 273h3v3h-3zM148 273h3v3h-3zM151 273h3v3h-3zM154 273h3v3h-3zM157 273h3v3h-3zM160 273h3v3h-3zM163 273h3v3h-3zM166 273h3v3h-3zM169 273h3v3h-3zM172 273h3v3h-3zM175 273h3v3h-3zM178 273h3v3h-3zM181 273h3v3h-3zM184 273h3v3h-3zM187 273h3v3h-3zM190 273h3v3h-3zM193 273h3v3h-3zM196 273h3v3h-3zM199 273h3v3h-3zM202 273h3v3h-3zM205 273h3v3h-3zM208 273h3v3h-3zM211 273h3v3h-3zM214 273h3v3h-3zM217 273h3v3h-3zM220 273h3v3h-3zM223 273h3v3h-3zM226 273h3v3h-3zM229 273h3v3h-3zM232 273h3v3h-3zM235 273h3v3h-3zM238 273h3v3h-3zM241 273h3v3h-3zM244 273h3v3h-3zM247 273h3v3h-3zM250 273h3v3h-3zM253 273h3v3h-3zM256 273h3v3h-3zM259 273h3v3h-3zM262 273h3v3h-3zM265 273h3v3h-3zM268 273h3v3h-3zM271 273h3v3h-3zM274 273h3v3h-3zM277 273h3v3h-3zM31 276h3v3h-3zM34 276h3v3h-3zM37 276h3v3h-3zM40 276h3v3h-3zM43 276h3v3h-3zM46 276h3v3h-3zM49 276h3v3h-3zM52 276h3v3h-3zM55 276h3v3h-3zM58 276h3v3h-3zM100 276h3v3h-3zM103 276h3v3h-3zM106 276h3v3h-3zM109 276h3v3h-3zM112 276h3v3h-3zM115 276h3v3h-3zM118 276h3v3h-3zM121 276h3v3h-3zM124 276h3v3h-3zM127 276h3v3h-3zM130 276h3v3h-3zM133 276h3v3h-3zM136 276h3v3h-3zM139 276h3v3h-3zM142 276h3v3h-3zM145 276h3v3h-3zM31 279h3v3h-3zM34 279h3v3h-3zM37 279h3v3h-3zM40 279h3v3h-3zM43 279h3v3h-3zM46 279h3v3h-3zM49 279h3v3h-3zM52 279h3v3h-3zM55 279h3v3h-3zM103 279h3v3h-3zM106 279h3v3h-3zM109 279h3v3h-3zM112 279h3v3h-3zM115 279h3v3h-3zM118 279h3v3h-3zM31 282h3v3h-3zM34 282h3v3h-3zM37 282h3v3h-3zM40 282h3v3h-3zM43 282h3v3h-3zM46 282h3v3h-3zM49 282h3v3h-3zM52 282h3v3h-3zM55 282h3v3h-3zM103 282h3v3h-3zM106 282h3v3h-3zM109 282h3v3h-3zM112 282h3v3h-3zM115 282h3v3h-3zM31 285h3v3h-3zM34 285h3v3h-3zM37 285h3v3h-3zM40 285h3v3h-3zM43 285h3v3h-3zM46 285h3v3h-3zM49 285h3v3h-3zM52 285h3v3h-3zM55 285h3v3h-3zM103 285h3v3h-3zM106 285h3v3h-3zM109 285h3v3h-3zM112 285h3v3h-3zM115 285h3v3h-3zM31 288h3v3h-3zM34 288h3v3h-3zM37 288h3v3h-3zM40 288h3v3h-3zM43 288h3v3h-3zM46 288h3v3h-3zM49 288h3v3h-3zM52 288h3v3h-3zM55 288h3v3h-3zM103 288h3v3h-3zM106 288h3v3h-3zM109 288h3v3h-3zM112 288h3v3h-3zM115 288h3v3h-3zM31 291h3v3h-3zM34 291h3v3h-3zM37 291h3v3h-3zM40 291h3v3h-3zM43 291h3v3h-3zM46 291h3v3h-3zM49 291h3v3h-3zM52 291h3v3h-3zM55 291h3v3h-3zM103 291h3v3h-3zM106 291h3v3h-3zM109 291h3v3h-3zM112 291h3v3h-3zM115 291h3v3h-3zM31 294h3v3h-3zM34 294h3v3h-3zM37 294h3v3h-3zM40 294h3v3h-3zM43 294h3v3h-3zM46 294h3v3h-3zM49 294h3v3h-3zM52 294h3v3h-3zM55 294h3v3h-3zM103 294h3v3h-3zM106 294h3v3h-3zM109 294h3v3h-3zM112 294h3v3h-3zM115 294h3v3h-3zM31 297h3v3h-3zM34 297h3v3h-3zM37 297h3v3h-3zM40 297h3v3h-3zM43 297h3v3h-3zM46 297h3v3h-3zM49 297h3v3h-3zM52 297h3v3h-3zM55 297h3v3h-3zM103 297h3v3h-3zM106 297h3v3h-3zM109 297h3v3h-3zM112 297h3v3h-3zM115 297h3v3h-3zM31 300h3v3h-3zM34 300h3v3h-3zM37 300h3v3h-3zM40 300h3v3h-3zM43 300h3v3h-3zM46 300h3v3h-3zM49 300h3v3h-3zM52 300h3v3h-3zM55 300h3v3h-3zM103 300h3v3h-3zM106 300h3v3h-3zM109 300h3v3h-3zM112 300h3v3h-3zM115 300h3v3h-3zM31 303h3v3h-3zM34 303h3v3h-3zM37 303h3v3h-3zM40 303h3v3h-3zM43 303h3v3h-3zM46 303h3v3h-3zM49 303h3v3h-3zM52 303h3v3h-3zM55 303h3v3h-3zM103 303h3v3h-3zM106 303h3v3h-3zM109 303h3v3h-3zM112 303h3v3h-3zM115 303h3v3h-3zM31 306h3v3h-3zM34 306h3v3h-3zM37 306h3v3h-3zM40 306h3v3h-3zM43 306h3v3h-3zM46 306h3v3h-3zM49 306h3v3h-3zM52 306h3v3h-3zM55 306h3v3h-3zM103 306h3v3h-3zM106 306h3v3h-3zM109 306h3v3h-3zM112 306h3v3h-3zM115 306h3v3h-3zM31 309h3v3h-3zM34 309h3v3h-3zM37 309h3v3h-3zM40 309h3v3h-3zM43 309h3v3h-3zM46 309h3v3h-3zM49 309h3v3h-3zM52 309h3v3h-3zM55 309h3v3h-3zM103 309h3v3h-3zM106 309h3v3h-3zM109 309h3v3h-3zM112 309h3v3h-3zM115 309h3v3h-3zM31 312h3v3h-3zM34 312h3v3h-3zM37 312h3v3h-3zM40 312h3v3h-3zM43 312h3v3h-3zM46 312h3v3h-3zM49 312h3v3h-3zM52 312h3v3h-3zM55 312h3v3h-3zM103 312h3v3h-3zM106 312h3v3h-3zM109 312h3v3h-3zM112 312h3v3h-3zM115 312h3v3h-3zM31 315h3v3h-3zM34 315h3v3h-3zM37 315h3v3h-3zM40 315h3v3h-3zM43 315h3v3h-3zM46 315h3v3h-3zM49 315h3v3h-3zM52 315h3v3h-3zM55 315h3v3h-3zM103 315h3v3h-3zM106 315h3v3h-3zM109 315h3v3h-3zM112 315h3v3h-3zM115 315h3v3h-3zM31 318h3v3h-3zM34 318h3v3h-3zM37 318h3v3h-3zM40 318h3v3h-3zM43 318h3v3h-3zM46 318h3v3h-3zM49 318h3v3h-3zM52 318h3v3h-3zM55 318h3v3h-3zM103 318h3v3h-3zM106 318h3v3h-3zM109 318h3v3h-3zM112 318h3v3h-3zM115 318h3v3h-3zM31 321h3v3h-3zM34 321h3v3h-3zM37 321h3v3h-3zM40 321h3v3h-3zM43 321h3v3h-3zM46 321h3v3h-3zM49 321h3v3h-3zM52 321h3v3h-3zM55 321h3v3h-3zM103 321h3v3h-3zM106 321h3v3h-3zM109 321h3v3h-3zM112 321h3v3h-3zM115 321h3v3h-3zM31 324h3v3h-3zM34 324h3v3h-3zM37 324h3v3h-3zM40 324h3v3h-3zM43 324h3v3h-3zM46 324h3v3h-3zM49 324h3v3h-3zM52 324h3v3h-3zM55 324h3v3h-3zM103 324h3v3h-3zM106 324h3v3h-3zM109 324h3v3h-3zM112 324h3v3h-3zM115 324h3v3h-3zM31 327h3v3h-3zM34 327h3v3h-3zM37 327h3v3h-3zM40 327h3v3h-3zM43 327h3v3h-3zM46 327h3v3h-3zM49 327h3v3h-3zM52 327h3v3h-3zM55 327h3v3h-3zM103 327h3v3h-3zM106 327h3v3h-3zM109 327h3v3h-3zM112 327h3v3h-3zM115 327h3v3h-3zM31 330h3v3h-3zM34 330h3v3h-3zM37 330h3v3h-3zM40 330h3v3h-3zM43 330h3v3h-3zM46 330h3v3h-3zM49 330h3v3h-3zM52 330h3v3h-3zM55 330h3v3h-3zM103 330h3v3h-3zM106 330h3v3h-3zM109 330h3v3h-3zM112 330h3v3h-3zM115 330h3v3h-3zM31 333h3v3h-3zM34 333h3v3h-3zM37 333h3v3h-3zM40 333h3v3h-3zM43 333h3v3h-3zM46 333h3v3h-3zM49 333h3v3h-3zM52 333h3v3h-3zM55 333h3v3h-3zM103 333h3v3h-3zM106 333h3v3h-3zM109 333h3v3h-3zM112 333h3v3h-3zM115 333h3v3h-3zM31 336h3v3h-3zM34 336h3v3h-3zM37 336h3v3h-3zM40 336h3v3h-3zM43 336h3v3h-3zM46 336h3v3h-3zM49 336h3v3h-3zM52 336h3v3h-3zM55 336h3v3h-3zM103 336h3v3h-3zM106 336h3v3h-3zM109 336h3v3h-3zM112 336h3v3h-3zM115 336h3v3h-3zM31 339h3v3h-3zM34 339h3v3h-3zM37 339h3v3h-3zM40 339h3v3h-3zM43 339h3v3h-3zM46 339h3v3h-3zM49 339h3v3h-3zM52 339h3v3h-3zM55 339h3v3h-3zM100 339h3v3h-3zM103 339h3v3h-3zM106 339h3v3h-3zM109 339h3v3h-3zM112 339h3v3h-3zM115 339h3v3h-3zM31 342h3v3h-3zM34 342h3v3h-3zM37 342h3v3h-3zM40 342h3v3h-3zM43 342h3v3h-3zM46 342h3v3h-3zM49 342h3v3h-3zM52 342h3v3h-3zM55 342h3v3h-3zM91 342h3v3h-3zM94 342h3v3h-3zM97 342h3v3h-3zM100 342h3v3h-3zM103 342h3v3h-3zM106 342h3v3h-3zM109 342h3v3h-3zM112 342h3v3h-3zM115 342h3v3h-3zM31 345h3v3h-3zM34 345h3v3h-3zM37 345h3v3h-3zM40 345h3v3h-3zM43 345h3v3h-3zM46 345h3v3h-3zM49 345h3v3h-3zM52 345h3v3h-3zM55 345h3v3h-3zM82 345h3v3h-3zM85 345h3v3h-3zM88 345h3v3h-3zM91 345h3v3h-3zM94 345h3v3h-3zM97 345h3v3h-3zM100 345h3v3h-3zM103 345h3v3h-3zM106 345h3v3h-3zM109 345h3v3h-3zM112 345h3v3h-3zM115 345h3v3h-3zM31 348h3v3h-3zM34 348h3v3h-3zM37 348h3v3h-3zM40 348h3v3h-3zM43 348h3v3h-3zM46 348h3v3h-3zM49 348h3v3h-3zM52 348h3v3h-3zM55 348h3v3h-3zM58 348h3v3h-3zM73 348h3v3h-3zM76 348h3v3h-3zM79 348h3v3h-3zM82 348h3v3h-3zM85 348h3v3h-3zM88 348h3v3h-3zM91 348h3v3h-3zM94 348h3v3h-3zM97 348h3v3h-3zM100 348h3v3h-3zM103 348h3v3h-3zM106 348h3v3h-3zM109 348h3v3h-3zM112 348h3v3h-3zM115 348h3v3h-3zM31 351h3v3h-3zM34 351h3v3h-3zM37 351h3v3h-3zM40 351h3v3h-3zM43 351h3v3h-3zM46 351h3v3h-3zM49 351h3v3h-3zM52 351h3v3h-3zM55 351h3v3h-3zM58 351h3v3h-3zM73 351h3v3h-3zM76 351h3v3h-3zM79 351h3v3h-3zM82 351h3v3h-3zM85 351h3v3h-3zM88 351h3v3h-3zM91 351h3v3h-3zM94 351h3v3h-3zM97 351h3v3h-3zM100 351h3v3h-3zM103 351h3v3h-3zM106 351h3v3h-3zM109 351h3v3h-3zM112 351h3v3h-3zM115 351h3v3h-3zM31 354h3v3h-3zM34 354h3v3h-3zM37 354h3v3h-3zM40 354h3v3h-3zM43 354h3v3h-3zM46 354h3v3h-3zM49 354h3v3h-3zM52 354h3v3h-3zM55 354h3v3h-3zM58 354h3v3h-3zM61 354h3v3h-3zM73 354h3v3h-3zM76 354h3v3h-3zM79 354h3v3h-3zM82 354h3v3h-3zM85 354h3v3h-3zM88 354h3v3h-3zM91 354h3v3h-3zM94 354h3v3h-3zM97 354h3v3h-3zM100 354h3v3h-3zM103 354h3v3h-3zM106 354h3v3h-3zM109 354h3v3h-3zM112 354h3v3h-3zM31 357h3v3h-3zM34 357h3v3h-3zM37 357h3v3h-3zM40 357h3v3h-3zM43 357h3v3h-3zM46 357h3v3h-3zM49 357h3v3h-3zM52 357h3v3h-3zM55 357h3v3h-3zM58 357h3v3h-3zM61 357h3v3h-3zM70 357h3v3h-3zM73 357h3v3h-3zM76 357h3v3h-3zM79 357h3v3h-3zM82 357h3v3h-3zM85 357h3v3h-3zM88 357h3v3h-3zM91 357h3v3h-3zM94 357h3v3h-3zM97 357h3v3h-3zM100 357h3v3h-3zM103 357h3v3h-3zM106 357h3v3h-3zM109 357h3v3h-3zM112 357h3v3h-3zM31 360h3v3h-3zM34 360h3v3h-3zM37 360h3v3h-3zM40 360h3v3h-3zM43 360h3v3h-3zM46 360h3v3h-3zM49 360h3v3h-3zM52 360h3v3h-3zM55 360h3v3h-3zM58 360h3v3h-3zM61 360h3v3h-3zM64 360h3v3h-3zM67 360h3v3h-3zM70 360h3v3h-3zM73 360h3v3h-3zM76 360h3v3h-3zM79 360h3v3h-3zM82 360h3v3h-3zM85 360h3v3h-3zM88 360h3v3h-3zM91 360h3v3h-3zM94 360h3v3h-3zM97 360h3v3h-3zM100 360h3v3h-3zM103 360h3v3h-3zM106 360h3v3h-3zM109 360h3v3h-3zM112 360h3v3h-3zM31 363h3v3h-3zM34 363h3v3h-3zM37 363h3v3h-3zM40 363h3v3h-3zM43 363h3v3h-3zM46 363h3v3h-3zM49 363h3v3h-3zM52 363h3v3h-3zM55 363h3v3h-3zM58 363h3v3h-3zM61 363h3v3h-3zM64 363h3v3h-3zM67 363h3v3h-3zM70 363h3v3h-3zM73 363h3v3h-3zM76 363h3v3h-3zM79 363h3v3h-3zM82 363h3v3h-3zM85 363h3v3h-3zM88 363h3v3h-3zM91 363h3v3h-3zM94 363h3v3h-3zM97 363h3v3h-3zM100 363h3v3h-3zM103 363h3v3h-3zM106 363h3v3h-3zM109 363h3v3h-3zM112 363h3v3h-3zM31 366h3v3h-3zM34 366h3v3h-3zM37 366h3v3h-3zM40 366h3v3h-3zM43 366h3v3h-3zM46 366h3v3h-3zM49 366h3v3h-3zM52 366h3v3h-3zM55 366h3v3h-3zM58 366h3v3h-3zM61 366h3v3h-3zM64 366h3v3h-3zM67 366h3v3h-3zM70 366h3v3h-3zM73 366h3v3h-3zM76 366h3v3h-3zM79 366h3v3h-3zM82 366h3v3h-3zM85 366h3v3h-3zM88 366h3v3h-3zM91 366h3v3h-3zM94 366h3v3h-3zM97 366h3v3h-3zM100 366h3v3h-3zM103 366h3v3h-3zM106 366h3v3h-3zM109 366h3v3h-3zM31 369h3v3h-3zM34 369h3v3h-3zM37 369h3v3h-3zM40 369h3v3h-3zM43 369h3v3h-3zM46 369h3v3h-3zM49 369h3v3h-3zM52 369h3v3h-3zM55 369h3v3h-3zM58 369h3v3h-3zM61 369h3v3h-3zM64 369h3v3h-3zM67 369h3v3h-3zM70 369h3v3h-3zM73 369h3v3h-3zM76 369h3v3h-3zM79 369h3v3h-3zM82 369h3v3h-3zM85 369h3v3h-3zM88 369h3v3h-3zM91 369h3v3h-3zM94 369h3v3h-3zM97 369h3v3h-3zM100 369h3v3h-3zM103 369h3v3h-3zM106 369h3v3h-3zM109 369h3v3h-3zM31 372h3v3h-3zM34 372h3v3h-3zM37 372h3v3h-3zM40 372h3v3h-3zM43 372h3v3h-3zM46 372h3v3h-3zM49 372h3v3h-3zM52 372h3v3h-3zM55 372h3v3h-3zM58 372h3v3h-3zM61 372h3v3h-3zM64 372h3v3h-3zM67 372h3v3h-3zM70 372h3v3h-3zM73 372h3v3h-3zM76 372h3v3h-3zM79 372h3v3h-3zM82 372h3v3h-3zM85 372h3v3h-3zM88 372h3v3h-3zM91 372h3v3h-3zM94 372h3v3h-3zM97 372h3v3h-3zM100 372h3v3h-3zM103 372h3v3h-3zM106 372h3v3h-3zM109 372h3v3h-3zM31 375h3v3h-3zM34 375h3v3h-3zM37 375h3v3h-3zM40 375h3v3h-3zM43 375h3v3h-3zM46 375h3v3h-3zM49 375h3v3h-3zM52 375h3v3h-3zM55 375h3v3h-3zM58 375h3v3h-3zM61 375h3v3h-3zM64 375h3v3h-3zM67 375h3v3h-3zM70 375h3v3h-3zM73 375h3v3h-3zM76 375h3v3h-3zM79 375h3v3h-3zM82 375h3v3h-3zM85 375h3v3h-3zM88 375h3v3h-3zM91 375h3v3h-3zM94 375h3v3h-3zM97 375h3v3h-3zM100 375h3v3h-3zM103 375h3v3h-3zM106 375h3v3h-3zM109 375h3v3h-3zM31 378h3v3h-3zM34 378h3v3h-3zM37 378h3v3h-3zM40 378h3v3h-3zM43 378h3v3h-3zM46 378h3v3h-3zM49 378h3v3h-3zM52 378h3v3h-3zM55 378h3v3h-3zM58 378h3v3h-3zM61 378h3v3h-3zM64 378h3v3h-3zM67 378h3v3h-3zM70 378h3v3h-3zM73 378h3v3h-3zM76 378h3v3h-3zM79 378h3v3h-3zM82 378h3v3h-3zM85 378h3v3h-3zM88 378h3v3h-3zM91 378h3v3h-3zM94 378h3v3h-3zM97 378h3v3h-3zM100 378h3v3h-3zM103 378h3v3h-3zM106 378h3v3h-3zM31 381h3v3h-3zM34 381h3v3h-3zM37 381h3v3h-3zM40 381h3v3h-3zM43 381h3v3h-3zM46 381h3v3h-3zM49 381h3v3h-3zM52 381h3v3h-3zM55 381h3v3h-3zM58 381h3v3h-3zM61 381h3v3h-3zM64 381h3v3h-3zM67 381h3v3h-3zM70 381h3v3h-3zM73 381h3v3h-3zM76 381h3v3h-3zM79 381h3v3h-3zM82 381h3v3h-3zM85 381h3v3h-3zM88 381h3v3h-3zM91 381h3v3h-3zM94 381h3v3h-3zM97 381h3v3h-3zM100 381h3v3h-3zM103 381h3v3h-3zM106 381h3v3h-3zM31 384h3v3h-3zM34 384h3v3h-3zM37 384h3v3h-3zM40 384h3v3h-3zM43 384h3v3h-3zM46 384h3v3h-3zM49 384h3v3h-3zM52 384h3v3h-3zM55 384h3v3h-3zM58 384h3v3h-3zM61 384h3v3h-3zM64 384h3v3h-3zM67 384h3v3h-3zM70 384h3v3h-3zM73 384h3v3h-3zM76 384h3v3h-3zM79 384h3v3h-3zM82 384h3v3h-3zM85 384h3v3h-3zM88 384h3v3h-3zM91 384h3v3h-3zM94 384h3v3h-3zM97 384h3v3h-3zM100 384h3v3h-3zM103 384h3v3h-3zM31 387h3v3h-3zM34 387h3v3h-3zM37 387h3v3h-3zM40 387h3v3h-3zM43 387h3v3h-3zM46 387h3v3h-3zM49 387h3v3h-3zM52 387h3v3h-3zM55 387h3v3h-3zM58 387h3v3h-3zM61 387h3v3h-3zM64 387h3v3h-3zM67 387h3v3h-3zM70 387h3v3h-3zM73 387h3v3h-3zM76 387h3v3h-3zM79 387h3v3h-3zM82 387h3v3h-3zM85 387h3v3h-3zM88 387h3v3h-3zM91 387h3v3h-3zM94 387h3v3h-3zM97 387h3v3h-3zM100 387h3v3h-3zM103 387h3v3h-3zM31 390h3v3h-3zM34 390h3v3h-3zM37 390h3v3h-3zM40 390h3v3h-3zM43 390h3v3h-3zM46 390h3v3h-3zM49 390h3v3h-3zM52 390h3v3h-3zM55 390h3v3h-3zM58 390h3v3h-3zM61 390h3v3h-3zM64 390h3v3h-3zM67 390h3v3h-3zM70 390h3v3h-3zM73 390h3v3h-3zM76 390h3v3h-3zM79 390h3v3h-3zM82 390h3v3h-3zM85 390h3v3h-3zM88 390h3v3h-3zM91 390h3v3h-3zM94 390h3v3h-3zM97 390h3v3h-3zM100 390h3v3h-3zM103 390h3v3h-3zM31 393h3v3h-3zM34 393h3v3h-3zM37 393h3v3h-3zM40 393h3v3h-3zM43 393h3v3h-3zM46 393h3v3h-3zM49 393h3v3h-3zM52 393h3v3h-3zM55 393h3v3h-3zM58 393h3v3h-3zM61 393h3v3h-3zM64 393h3v3h-3zM67 393h3v3h-3zM70 393h3v3h-3zM73 393h3v3h-3zM76 393h3v3h-3zM79 393h3v3h-3zM82 393h3v3h-3zM85 393h3v3h-3zM88 393h3v3h-3zM91 393h3v3h-3zM94 393h3v3h-3zM97 393h3v3h-3zM100 393h3v3h-3zM31 396h3v3h-3zM34 396h3v3h-3zM37 396h3v3h-3zM40 396h3v3h-3zM43 396h3v3h-3zM46 396h3v3h-3zM49 396h3v3h-3zM52 396h3v3h-3zM55 396h3v3h-3zM58 396h3v3h-3zM61 396h3v3h-3zM64 396h3v3h-3zM67 396h3v3h-3zM70 396h3v3h-3zM73 396h3v3h-3zM76 396h3v3h-3zM79 396h3v3h-3zM82 396h3v3h-3zM85 396h3v3h-3zM88 396h3v3h-3zM91 396h3v3h-3zM94 396h3v3h-3zM97 396h3v3h-3zM100 396h3v3h-3zM31 399h3v3h-3zM34 399h3v3h-3zM37 399h3v3h-3zM40 399h3v3h-3zM43 399h3v3h-3zM46 399h3v3h-3zM49 399h3v3h-3zM52 399h3v3h-3zM55 399h3v3h-3zM58 399h3v3h-3zM61 399h3v3h-3zM64 399h3v3h-3zM67 399h3v3h-3zM70 399h3v3h-3zM73 399h3v3h-3zM76 399h3v3h-3zM79 399h3v3h-3zM82 399h3v3h-3zM85 399h3v3h-3zM88 399h3v3h-3zM91 399h3v3h-3zM94 399h3v3h-3zM97 399h3v3h-3zM100 399h3v3h-3zM31 402h3v3h-3zM34 402h3v3h-3zM37 402h3v3h-3zM40 402h3v3h-3zM43 402h3v3h-3zM46 402h3v3h-3zM49 402h3v3h-3zM52 402h3v3h-3zM55 402h3v3h-3zM58 402h3v3h-3zM61 402h3v3h-3zM64 402h3v3h-3zM67 402h3v3h-3zM70 402h3v3h-3zM73 402h3v3h-3zM76 402h3v3h-3zM79 402h3v3h-3zM82 402h3v3h-3zM85 402h3v3h-3zM88 402h3v3h-3zM91 402h3v3h-3zM94 402h3v3h-3zM97 402h3v3h-3zM100 402h3v3h-3zM31 405h3v3h-3zM34 405h3v3h-3zM37 405h3v3h-3zM40 405h3v3h-3zM43 405h3v3h-3zM46 405h3v3h-3zM49 405h3v3h-3zM52 405h3v3h-3zM55 405h3v3h-3zM58 405h3v3h-3zM61 405h3v3h-3zM64 405h3v3h-3zM67 405h3v3h-3zM70 405h3v3h-3zM73 405h3v3h-3zM76 405h3v3h-3zM79 405h3v3h-3zM82 405h3v3h-3zM85 405h3v3h-3zM88 405h3v3h-3zM91 405h3v3h-3zM94 405h3v3h-3zM97 405h3v3h-3zM31 408h3v3h-3zM34 408h3v3h-3zM37 408h3v3h-3zM40 408h3v3h-3zM43 408h3v3h-3zM46 408h3v3h-3zM49 408h3v3h-3zM52 408h3v3h-3zM55 408h3v3h-3zM58 408h3v3h-3zM61 408h3v3h-3zM64 408h3v3h-3zM67 408h3v3h-3zM70 408h3v3h-3zM73 408h3v3h-3zM76 408h3v3h-3zM79 408h3v3h-3zM82 408h3v3h-3zM85 408h3v3h-3zM88 408h3v3h-3zM91 408h3v3h-3zM94 408h3v3h-3zM97 408h3v3h-3zM31 411h3v3h-3zM34 411h3v3h-3zM37 411h3v3h-3zM40 411h3v3h-3zM43 411h3v3h-3zM46 411h3v3h-3zM49 411h3v3h-3zM52 411h3v3h-3zM55 411h3v3h-3zM58 411h3v3h-3zM61 411h3v3h-3zM64 411h3v3h-3zM67 411h3v3h-3zM70 411h3v3h-3zM73 411h3v3h-3zM76 411h3v3h-3zM79 411h3v3h-3zM82 411h3v3h-3zM85 411h3v3h-3zM88 411h3v3h-3zM91 411h3v3h-3zM94 411h3v3h-3zM97 411h3v3h-3zM31 414h3v3h-3zM34 414h3v3h-3zM37 414h3v3h-3zM40 414h3v3h-3zM43 414h3v3h-3zM46 414h3v3h-3zM49 414h3v3h-3zM52 414h3v3h-3zM55 414h3v3h-3zM58 414h3v3h-3zM61 414h3v3h-3zM64 414h3v3h-3zM67 414h3v3h-3zM70 414h3v3h-3zM73 414h3v3h-3zM76 414h3v3h-3zM79 414h3v3h-3zM82 414h3v3h-3zM85 414h3v3h-3zM88 414h3v3h-3zM91 414h3v3h-3zM94 414h3v3h-3zM97 414h3v3h-3zM31 417h3v3h-3zM34 417h3v3h-3zM37 417h3v3h-3zM40 417h3v3h-3zM43 417h3v3h-3zM46 417h3v3h-3zM49 417h3v3h-3zM52 417h3v3h-3zM55 417h3v3h-3zM58 417h3v3h-3zM61 417h3v3h-3zM64 417h3v3h-3zM67 417h3v3h-3zM70 417h3v3h-3zM73 417h3v3h-3zM76 417h3v3h-3zM79 417h3v3h-3zM82 417h3v3h-3zM85 417h3v3h-3zM88 417h3v3h-3zM91 417h3v3h-3zM94 417h3v3h-3zM31 420h3v3h-3zM34 420h3v3h-3zM37 420h3v3h-3zM40 420h3v3h-3zM43 420h3v3h-3zM46 420h3v3h-3zM49 420h3v3h-3zM52 420h3v3h-3zM55 420h3v3h-3zM58 420h3v3h-3zM61 420h3v3h-3zM64 420h3v3h-3zM67 420h3v3h-3zM70 420h3v3h-3zM73 420h3v3h-3zM76 420h3v3h-3zM79 420h3v3h-3zM82 420h3v3h-3zM85 420h3v3h-3zM88 420h3v3h-3zM91 420h3v3h-3zM94 420h3v3h-3zM31 423h3v3h-3zM34 423h3v3h-3zM37 423h3v3h-3zM40 423h3v3h-3zM43 423h3v3h-3zM46 423h3v3h-3zM49 423h3v3h-3zM52 423h3v3h-3zM55 423h3v3h-3zM58 423h3v3h-3zM61 423h3v3h-3zM64 423h3v3h-3zM67 423h3v3h-3zM70 423h3v3h-3zM73 423h3v3h-3zM76 423h3v3h-3zM79 423h3v3h-3zM82 423h3v3h-3zM85 423h3v3h-3zM88 423h3v3h-3zM91 423h3v3h-3zM94 423h3v3h-3zM31 426h3v3h-3zM34 426h3v3h-3zM37 426h3v3h-3zM40 426h3v3h-3zM43 426h3v3h-3zM46 426h3v3h-3zM49 426h3v3h-3zM52 426h3v3h-3zM55 426h3v3h-3zM58 426h3v3h-3zM61 426h3v3h-3zM64 426h3v3h-3zM67 426h3v3h-3zM70 426h3v3h-3zM73 426h3v3h-3zM76 426h3v3h-3zM79 426h3v3h-3zM82 426h3v3h-3zM85 426h3v3h-3zM88 426h3v3h-3zM91 426h3v3h-3zM94 426h3v3h-3zM31 429h3v3h-3zM34 429h3v3h-3zM37 429h3v3h-3zM40 429h3v3h-3zM43 429h3v3h-3zM46 429h3v3h-3zM49 429h3v3h-3zM52 429h3v3h-3zM55 429h3v3h-3zM58 429h3v3h-3zM61 429h3v3h-3zM64 429h3v3h-3zM67 429h3v3h-3zM70 429h3v3h-3zM73 429h3v3h-3zM76 429h3v3h-3zM79 429h3v3h-3zM82 429h3v3h-3zM85 429h3v3h-3zM88 429h3v3h-3zM91 429h3v3h-3zM94 429h3v3h-3zM31 432h3v3h-3zM34 432h3v3h-3zM37 432h3v3h-3zM40 432h3v3h-3zM43 432h3v3h-3zM46 432h3v3h-3zM49 432h3v3h-3zM52 432h3v3h-3zM55 432h3v3h-3zM58 432h3v3h-3zM61 432h3v3h-3zM64 432h3v3h-3zM67 432h3v3h-3zM70 432h3v3h-3zM73 432h3v3h-3zM76 432h3v3h-3zM79 432h3v3h-3zM82 432h3v3h-3zM85 432h3v3h-3zM88 432h3v3h-3zM91 432h3v3h-3zM94 432h3v3h-3zM31 435h3v3h-3zM34 435h3v3h-3zM37 435h3v3h-3zM40 435h3v3h-3zM43 435h3v3h-3zM46 435h3v3h-3zM49 435h3v3h-3zM52 435h3v3h-3zM55 435h3v3h-3zM58 435h3v3h-3zM61 435h3v3h-3zM64 435h3v3h-3zM67 435h3v3h-3zM70 435h3v3h-3zM73 435h3v3h-3zM76 435h3v3h-3zM79 435h3v3h-3zM82 435h3v3h-3zM85 435h3v3h-3zM88 435h3v3h-3zM91 435h3v3h-3zM94 435h3v3h-3zM31 438h3v3h-3zM34 438h3v3h-3zM37 438h3v3h-3zM40 438h3v3h-3zM43 438h3v3h-3zM46 438h3v3h-3zM49 438h3v3h-3zM52 438h3v3h-3zM55 438h3v3h-3zM58 438h3v3h-3zM61 438h3v3h-3zM64 438h3v3h-3zM67 438h3v3h-3zM70 438h3v3h-3zM73 438h3v3h-3zM76 438h3v3h-3zM79 438h3v3h-3zM82 438h3v3h-3zM85 438h3v3h-3zM88 438h3v3h-3zM91 438h3v3h-3zM94 438h3v3h-3zM31 441h3v3h-3zM34 441h3v3h-3zM37 441h3v3h-3zM40 441h3v3h-3zM43 441h3v3h-3zM46 441h3v3h-3zM49 441h3v3h-3zM52 441h3v3h-3zM55 441h3v3h-3zM58 441h3v3h-3zM61 441h3v3h-3zM64 441h3v3h-3zM67 441h3v3h-3zM70 441h3v3h-3zM73 441h3v3h-3zM76 441h3v3h-3zM79 441h3v3h-3zM82 441h3v3h-3zM85 441h3v3h-3zM88 441h3v3h-3zM91 441h3v3h-3zM94 441h3v3h-3zM31 444h3v3h-3zM34 444h3v3h-3zM37 444h3v3h-3zM40 444h3v3h-3zM43 444h3v3h-3zM46 444h3v3h-3zM49 444h3v3h-3zM52 444h3v3h-3zM55 444h3v3h-3zM58 444h3v3h-3zM61 444h3v3h-3zM64 444h3v3h-3zM67 444h3v3h-3zM70 444h3v3h-3zM73 444h3v3h-3zM76 444h3v3h-3zM79 444h3v3h-3zM82 444h3v3h-3zM85 444h3v3h-3zM88 444h3v3h-3zM91 444h3v3h-3zM94 444h3v3h-3zM31 447h3v3h-3zM34 447h3v3h-3zM37 447h3v3h-3zM40 447h3v3h-3zM43 447h3v3h-3zM46 447h3v3h-3zM49 447h3v3h-3zM52 447h3v3h-3zM55 447h3v3h-3zM58 447h3v3h-3zM61 447h3v3h-3zM64 447h3v3h-3zM67 447h3v3h-3zM70 447h3v3h-3zM73 447h3v3h-3zM76 447h3v3h-3zM79 447h3v3h-3zM82 447h3v3h-3zM85 447h3v3h-3zM88 447h3v3h-3zM91 447h3v3h-3zM31 450h3v3h-3zM34 450h3v3h-3zM37 450h3v3h-3zM40 450h3v3h-3zM43 450h3v3h-3zM46 450h3v3h-3zM49 450h3v3h-3zM52 450h3v3h-3zM55 450h3v3h-3zM58 450h3v3h-3zM61 450h3v3h-3zM64 450h3v3h-3zM67 450h3v3h-3zM70 450h3v3h-3zM73 450h3v3h-3zM76 450h3v3h-3zM79 450h3v3h-3zM82 450h3v3h-3zM85 450h3v3h-3zM88 450h3v3h-3zM91 450h3v3h-3zM31 453h3v3h-3zM34 453h3v3h-3zM37 453h3v3h-3zM40 453h3v3h-3zM43 453h3v3h-3zM46 453h3v3h-3zM49 453h3v3h-3zM52 453h3v3h-3zM55 453h3v3h-3zM58 453h3v3h-3zM61 453h3v3h-3zM64 453h3v3h-3zM67 453h3v3h-3zM70 453h3v3h-3zM73 453h3v3h-3zM76 453h3v3h-3zM79 453h3v3h-3zM82 453h3v3h-3zM85 453h3v3h-3zM88 453h3v3h-3zM91 453h3v3h-3zM31 456h3v3h-3zM34 456h3v3h-3zM37 456h3v3h-3zM40 456h3v3h-3zM43 456h3v3h-3zM46 456h3v3h-3zM49 456h3v3h-3zM52 456h3v3h-3zM55 456h3v3h-3zM58 456h3v3h-3zM61 456h3v3h-3zM64 456h3v3h-3zM67 456h3v3h-3zM70 456h3v3h-3zM73 456h3v3h-3zM76 456h3v3h-3zM79 456h3v3h-3zM82 456h3v3h-3zM85 456h3v3h-3zM88 456h3v3h-3zM91 456h3v3h-3zM94 456h3v3h-3zM31 459h3v3h-3zM34 459h3v3h-3zM37 459h3v3h-3zM40 459h3v3h-3zM43 459h3v3h-3zM46 459h3v3h-3zM49 459h3v3h-3zM52 459h3v3h-3zM55 459h3v3h-3zM58 459h3v3h-3zM61 459h3v3h-3zM64 459h3v3h-3zM67 459h3v3h-3zM70 459h3v3h-3zM73 459h3v3h-3zM76 459h3v3h-3zM79 459h3v3h-3zM82 459h3v3h-3zM85 459h3v3h-3zM88 459h3v3h-3zM91 459h3v3h-3zM31 462h3v3h-3zM34 462h3v3h-3zM37 462h3v3h-3zM40 462h3v3h-3zM43 462h3v3h-3zM46 462h3v3h-3zM49 462h3v3h-3zM52 462h3v3h-3zM55 462h3v3h-3zM58 462h3v3h-3zM61 462h3v3h-3zM64 462h3v3h-3zM67 462h3v3h-3zM70 462h3v3h-3zM73 462h3v3h-3zM76 462h3v3h-3zM79 462h3v3h-3zM82 462h3v3h-3zM85 462h3v3h-3zM88 462h3v3h-3zM91 462h3v3h-3zM31 465h3v3h-3zM34 465h3v3h-3zM37 465h3v3h-3zM40 465h3v3h-3zM43 465h3v3h-3zM46 465h3v3h-3zM49 465h3v3h-3zM52 465h3v3h-3zM55 465h3v3h-3zM58 465h3v3h-3zM61 465h3v3h-3zM64 465h3v3h-3zM67 465h3v3h-3zM70 465h3v3h-3zM73 465h3v3h-3zM76 465h3v3h-3zM79 465h3v3h-3zM82 465h3v3h-3zM85 465h3v3h-3zM88 465h3v3h-3zM91 465h3v3h-3zM31 468h3v3h-3zM34 468h3v3h-3zM37 468h3v3h-3zM40 468h3v3h-3zM43 468h3v3h-3zM46 468h3v3h-3zM49 468h3v3h-3zM52 468h3v3h-3zM55 468h3v3h-3zM58 468h3v3h-3zM61 468h3v3h-3zM64 468h3v3h-3zM67 468h3v3h-3zM70 468h3v3h-3zM73 468h3v3h-3zM76 468h3v3h-3zM79 468h3v3h-3zM82 468h3v3h-3zM85 468h3v3h-3zM88 468h3v3h-3zM91 468h3v3h-3zM31 471h3v3h-3zM34 471h3v3h-3zM37 471h3v3h-3zM40 471h3v3h-3zM43 471h3v3h-3zM46 471h3v3h-3zM49 471h3v3h-3zM52 471h3v3h-3zM55 471h3v3h-3zM58 471h3v3h-3zM61 471h3v3h-3zM64 471h3v3h-3zM67 471h3v3h-3zM70 471h3v3h-3zM73 471h3v3h-3zM76 471h3v3h-3zM79 471h3v3h-3zM82 471h3v3h-3zM85 471h3v3h-3zM88 471h3v3h-3zM91 471h3v3h-3z"/>
<path fill="#0e0e0e" d="M64 270h3v3h-3zM67 270h3v3h-3zM70 270h3v3h-3zM73 270h3v3h-3zM76 270h3v3h-3zM79 270h3v3h-3zM82 270h3v3h-3zM61 273h3v3h-3zM88 273h3v3h-3zM91 273h3v3h-3zM94 276h3v3h-3zM97 276h3v3h-3zM148 276h3v3h-3zM151 276h3v3h-3zM154 276h3v3h-3zM157 276h3v3h-3zM160 276h3v3h-3zM163 276h3v3h-3zM166 276h3v3h-3zM169 276h3v3h-3zM172 276h3v3h-3zM175 276h3v3h-3zM178 276h3v3h-3zM181 276h3v3h-3zM58 279h3v3h-3zM97 279h3v3h-3zM100 279h3v3h-3zM121 279h3v3h-3zM124 279h3v3h-3zM127 279h3v3h-3zM130 279h3v3h-3zM133 279h3v3h-3zM136 279h3v3h-3zM58 282h3v3h-3zM97 282h3v3h-3zM100 282h3v3h-3zM118 282h3v3h-3zM121 282h3v3h-3zM124 282h3v3h-3zM127 282h3v3h-3zM130 282h3v3h-3zM133 282h3v3h-3zM58 285h3v3h-3zM97 285h3v3h-3zM100 285h3v3h-3zM118 285h3v3h-3zM121 285h3v3h-3zM124 285h3v3h-3zM127 285h3v3h-3zM130 285h3v3h-3zM133 285h3v3h-3zM58 288h3v3h-3zM97 288h3v3h-3zM100 288h3v3h-3zM118 288h3v3h-3zM121 288h3v3h-3zM124 288h3v3h-3zM127 288h3v3h-3zM130 288h3v3h-3zM133 288h3v3h-3zM58 291h3v3h-3zM97 291h3v3h-3zM100 291h3v3h-3zM118 291h3v3h-3zM121 291h3v3h-3zM124 291h3v3h-3zM127 291h3v3h-3zM130 291h3v3h-3zM133 291h3v3h-3zM58 294h3v3h-3zM97 294h3v3h-3zM100 294h3v3h-3zM118 294h3v3h-3zM121 294h3v3h-3zM124 294h3v3h-3zM127 294h3v3h-3zM130 294h3v3h-3zM133 294h3v3h-3zM58 297h3v3h-3zM97 297h3v3h-3zM100 297h3v3h-3zM118 297h3v3h-3zM121 297h3v3h-3zM124 297h3v3h-3zM127 297h3v3h-3zM130 297h3v3h-3zM133 297h3v3h-3zM58 300h3v3h-3zM97 300h3v3h-3zM100 300h3v3h-3zM118 300h3v3h-3zM121 300h3v3h-3zM124 300h3v3h-3zM127 300h3v3h-3zM130 300h3v3h-3zM133 300h3v3h-3zM58 303h3v3h-3zM97 303h3v3h-3zM100 303h3v3h-3zM118 303h3v3h-3zM121 303h3v3h-3zM124 303h3v3h-3zM127 303h3v3h-3zM130 303h3v3h-3zM133 303h3v3h-3zM58 306h3v3h-3zM97 306h3v3h-3zM100 306h3v3h-3zM118 306h3v3h-3zM121 306h3v3h-3zM124 306h3v3h-3zM127 306h3v3h-3zM130 306h3v3h-3zM133 306h3v3h-3zM58 309h3v3h-3zM97 309h3v3h-3zM100 309h3v3h-3zM118 309h3v3h-3zM121 309h3v3h-3zM124 309h3v3h-3zM127 309h3v3h-3zM130 309h3v3h-3zM133 309h3v3h-3zM58 312h3v3h-3zM97 312h3v3h-3zM100 312h3v3h-3zM118 312h3v3h-3zM121 312h3v3h-3zM124 312h3v3h-3zM127 312h3v3h-3zM130 312h3v3h-3zM133 312h3v3h-3zM58 315h3v3h-3zM97 315h3v3h-3zM100 315h3v3h-3zM118 315h3v3h-3zM121 315h3v3h-3zM124 315h3v3h-3zM127 315h3v3h-3zM130 315h3v3h-3zM133 315h3v3h-3zM58 318h3v3h-3zM97 318h3v3h-3zM100 318h3v3h-3zM118 318h3v3h-3zM121 318h3v3h-3zM124 318h3v3h-3zM127 318h3v3h-3zM130 318h3v3h-3zM133 318h3v3h-3zM58 321h3v3h-3zM97 321h3v3h-3zM100 321h3v3h-3zM118 321h3v3h-3zM121 321h3v3h-3zM124 321h3v3h-3zM127 321h3v3h-3zM130 321h3v3h-3zM133 321h3v3h-3zM58 324h3v3h-3zM97 324h3v3h-3zM100 324h3v3h-3zM118 324h3v3h-3zM121 324h3v3h-3zM124 324h3v3h-3zM127 324h3v3h-3zM130 324h3v3h-3zM133 324h3v3h-3zM58 327h3v3h-3zM97 327h3v3h-3zM100 327h3v3h-3zM118 327h3v3h-3zM121 327h3v3h-3zM124 327h3v3h-3zM127 327h3v3h-3zM130 327h3v3h-3zM133 327h3v3h-3zM58 330h3v3h-3zM97 330h3v3h-3zM100 330h3v3h-3zM118 330h3v3h-3zM121 330h3v3h-3zM124 330h3v3h-3zM127 330h3v3h-3zM130 330h3v3h-3zM133 330h3v3h-3zM58 333h3v3h-3zM97 333h3v3h-3zM100 333h3v3h-3zM118 333h3v3h-3zM121 333h3v3h-3zM124 333h3v3h-3zM127 333h3v3h-3zM130 333h3v3h-3zM133 333h3v3h-3zM58 336h3v3h-3zM97 336h3v3h-3zM100 336h3v3h-3zM118 336h3v3h-3zM121 336h3v3h-3zM124 336h3v3h-3zM127 336h3v3h-3zM130 336h3v3h-3zM133 336h3v3h-3zM58 339h3v3h-3zM91 339h3v3h-3zM94 339h3v3h-3zM97 339h3v3h-3zM118 339h3v3h-3zM121 339h3v3h-3zM124 339h3v3h-3zM127 339h3v3h-3zM130 339h3v3h-3zM133 339h3v3h-3zM58 342h3v3h-3zM85 342h3v3h-3zM88 342h3v3h-3zM118 342h3v3h-3zM121 342h3v3h-3zM124 342h3v3h-3zM127 342h3v3h-3zM130 342h3v3h-3zM133 342h3v3h-3zM58 345h3v3h-3zM73 345h3v3h-3zM76 345h3v3h-3zM79 345h3v3h-3zM118 345h3v3h-3zM121 345h3v3h-3zM124 345h3v3h-3zM127 345h3v3h-3zM130 345h3v3h-3zM133 345h3v3h-3zM118 348h3v3h-3zM121 348h3v3h-3zM124 348h3v3h-3zM127 348h3v3h-3zM130 348h3v3h-3zM133 348h3v3h-3zM61 351h3v3h-3zM70 351h3v3h-3zM118 351h3v3h-3zM121 351h3v3h-3zM124 351h3v3h-3zM127 351h3v3h-3zM130 351h3v3h-3zM133 351h3v3h-3zM64 354h3v3h-3zM67 354h3v3h-3zM70 354h3v3h-3zM115 354h3v3h-3zM118 354h3v3h-3zM121 354h3v3h-3zM124 354h3v3h-3zM127 354h3v3h-3zM130 354h3v3h-3zM64 357h3v3h-3zM67 357h3v3h-3zM115 357h3v3h-3zM118 357h3v3h-3zM121 357h3v3h-3zM124 357h3v3h-3zM127 357h3v3h-3zM130 357h3v3h-3zM115 360h3v3h-3zM118 360h3v3h-3zM121 360h3v3h-3zM124 360h3v3h-3zM127 360h3v3h-3zM115 363h3v3h-3zM118 363h3v3h-3zM121 363h3v3h-3zM124 363h3v3h-3zM127 363h3v3h-3zM112 366h3v3h-3zM115 366h3v3h-3zM118 366h3v3h-3zM121 366h3v3h-3zM124 366h3v3h-3zM112 369h3v3h-3zM115 369h3v3h-3zM118 369h3v3h-3zM121 369h3v3h-3zM112 372h3v3h-3zM115 372h3v3h-3zM118 372h3v3h-3zM121 372h3v3h-3zM112 375h3v3h-3zM115 375h3v3h-3zM118 375h3v3h-3zM109 378h3v3h-3zM112 378h3v3h-3zM115 378h3v3h-3zM118 378h3v3h-3zM109 381h3v3h-3zM112 381h3v3h-3zM115 381h3v3h-3zM106 384h3v3h-3zM109 384h3v3h-3zM112 384h3v3h-3zM115 384h3v3h-3zM106 387h3v3h-3zM109 387h3v3h-3zM112 387h3v3h-3zM115 387h3v3h-3zM106 390h3v3h-3zM109 390h3v3h-3zM112 390h3v3h-3zM103 393h3v3h-3zM106 393h3v3h-3zM109 393h3v3h-3zM112 393h3v3h-3zM103 396h3v3h-3zM106 396h3v3h-3zM109 396h3v3h-3zM112 396h3v3h-3zM103 399h3v3h-3zM106 399h3v3h-3zM109 399h3v3h-3zM112 399h3v3h-3zM103 402h3v3h-3zM106 402h3v3h-3zM109 402h3v3h-3zM112 402h3v3h-3zM100 405h3v3h-3zM103 405h3v3h-3zM106 405h3v3h-3zM109 405h3v3h-3zM112 405h3v3h-3zM100 408h3v3h-3zM103 408h3v3h-3zM106 408h3v3h-3zM109 408h3v3h-3zM112 408h3v3h-3zM100 411h3v3h-3zM103 411h3v3h-3zM106 411h3v3h-3zM109 411h3v3h-3zM100 414h3v3h-3zM103 414h3v3h-3zM106 414h3v3h-3zM109 414h3v3h-3zM97 417h3v3h-3zM100 417h3v3h-3zM103 417h3v3h-3zM106 417h3v3h-3zM109 417h3v3h-3zM97 420h3v3h-3zM100 420h3v3h-3zM103 420h3v3h-3zM106 420h3v3h-3zM109 420h3v3h-3zM97 423h3v3h-3zM100 423h3v3h-3zM103 423h3v3h-3zM106 423h3v3h-3zM109 423h3v3h-3zM97 426h3v3h-3zM100 426h3v3h-3zM103 426h3v3h-3zM106 426h3v3h-3zM109 426h3v3h-3zM97 429h3v3h-3zM100 429h3v3h-3zM103 429h3v3h-3zM106 429h3v3h-3zM109 429h3v3h-3zM97 432h3v3h-3zM100 432h3v3h-3zM103 432h3v3h-3zM106 432h3v3h-3zM109 432h3v3h-3zM97 435h3v3h-3zM100 435h3v3h-3zM103 435h3v3h-3zM106 435h3v3h-3zM97 438h3v3h-3zM100 438h3v3h-3zM103 438h3v3h-3zM106 438h3v3h-3zM97 441h3v3h-3zM100 441h3v3h-3zM103 441h3v3h-3zM106 441h3v3h-3zM97 444h3v3h-3zM100 444h3v3h-3zM103 444h3v3h-3zM106 444h3v3h-3zM94 447h3v3h-3zM97 447h3v3h-3zM100 447h3v3h-3zM103 447h3v3h-3zM106 447h3v3h-3zM94 450h3v3h-3zM97 450h3v3h-3zM100 450h3v3h-3zM103 450h3v3h-3zM106 450h3v3h-3zM94 453h3v3h-3zM97 453h3v3h-3zM100 453h3v3h-3zM103 453h3v3h-3zM106 453h3v3h-3zM97 456h3v3h-3zM100 456h3v3h-3zM103 456h3v3h-3zM106 456h3v3h-3zM94 459h3v3h-3zM97 459h3v3h-3zM100 459h3v3h-3zM103 459h3v3h-3zM106 459h3v3h-3zM94 462h3v3h-3zM97 462h3v3h-3zM100 462h3v3h-3zM103 462h3v3h-3zM106 462h3v3h-3zM94 465h3v3h-3zM97 465h3v3h-3zM100 465h3v3h-3zM103 465h3v3h-3zM106 465h3v3h-3zM94 468h3v3h-3zM97 468h3v3h-3zM100 468h3v3h-3zM103 468h3v3h-3zM106 468h3v3h-3zM94 471h3v3h-3zM97 471h3v3h-3zM100 471h3v3h-3zM103 471h3v3h-3zM106 471h3v3h-3z"/>
<path fill="#0f0f0f" d="M85 273h3v3h-3zM91 276h3v3h-3zM184 276h3v3h-3zM187 276h3v3h-3zM190 276h3v3h-3zM193 276h3v3h-3zM196 276h3v3h-3zM199 276h3v3h-3zM202 276h3v3h-3zM205 276h3v3h-3zM208 276h3v3h-3zM211 276h3v3h-3zM214 276h3v3h-3zM94 279h3v3h-3zM139 279h3v3h-3zM142 279h3v3h-3zM145 279h3v3h-3zM94 282h3v3h-3zM136 282h3v3h-3zM139 282h3v3h-3zM142 282h3v3h-3zM94 285h3v3h-3zM136 285h3v3h-3zM139 285h3v3h-3zM142 285h3v3h-3zM94 288h3v3h-3zM136 288h3v3h-3zM139 288h3v3h-3zM142 288h3v3h-3zM94 291h3v3h-3zM136 291h3v3h-3zM139 291h3v3h-3zM142 291h3v3h-3zM94 294h3v3h-3zM136 294h3v3h-3zM139 294h3v3h-3zM142 294h3v3h-3zM94 297h3v3h-3zM136 297h3v3h-3zM139 297h3v3h-3zM142 297h3v3h-3zM94 300h3v3h-3zM136 300h3v3h-3zM139 300h3v3h-3zM142 300h3v3h-3zM94 303h3v3h-3zM136 303h3v3h-3zM139 303h3v3h-3zM142 303h3v3h-3zM94 306h3v3h-3zM136 306h3v3h-3zM139 306h3v3h-3zM142 306h3v3h-3zM94 309h3v3h-3zM136 309h3v3h-3zM139 309h3v3h-3zM142 309h3v3h-3zM94 312h3v3h-3zM136 312h3v3h-3zM139 312h3v3h-3zM142 312h3v3h-3zM94 315h3v3h-3zM136 315h3v3h-3zM139 315h3v3h-3zM142 315h3v3h-3zM94 318h3v3h-3zM136 318h3v3h-3zM139 318h3v3h-3zM142 318h3v3h-3zM94 321h3v3h-3zM136 321h3v3h-3zM139 321h3v3h-3zM142 321h3v3h-3zM94 324h3v3h-3zM136 324h3v3h-3zM139 324h3v3h-3zM142 324h3v3h-3zM94 327h3v3h-3zM136 327h3v3h-3zM139 327h3v3h-3zM142 327h3v3h-3zM94 330h3v3h-3zM136 330h3v3h-3zM139 330h3v3h-3zM142 330h3v3h-3zM94 333h3v3h-3zM136 333h3v3h-3zM139 333h3v3h-3zM142 333h3v3h-3zM94 336h3v3h-3zM136 336h3v3h-3zM139 336h3v3h-3zM136 339h3v3h-3zM139 339h3v3h-3zM82 342h3v3h-3zM136 342h3v3h-3zM139 342h3v3h-3zM136 345h3v3h-3zM139 345h3v3h-3zM61 348h3v3h-3zM70 348h3v3h-3zM136 348h3v3h-3zM139 348h3v3h-3zM136 351h3v3h-3zM139 351h3v3h-3zM133 354h3v3h-3zM136 354h3v3h-3zM133 357h3v3h-3zM136 357h3v3h-3zM130 360h3v3h-3zM133 360h3v3h-3zM130 363h3v3h-3zM127 366h3v3h-3zM124 369h3v3h-3zM127 369h3v3h-3zM124 372h3v3h-3zM121 375h3v3h-3zM121 378h3v3h-3zM118 381h3v3h-3zM118 384h3v3h-3zM118 387h3v3h-3zM115 390h3v3h-3zM118 390h3v3h-3zM115 393h3v3h-3zM118 393h3v3h-3zM115 396h3v3h-3zM115 399h3v3h-3zM115 402h3v3h-3zM115 405h3v3h-3zM115 408h3v3h-3zM112 411h3v3h-3zM115 411h3v3h-3zM112 414h3v3h-3zM115 414h3v3h-3zM112 417h3v3h-3zM112 420h3v3h-3zM112 423h3v3h-3zM112 426h3v3h-3zM112 429h3v3h-3zM112 432h3v3h-3zM109 435h3v3h-3zM112 435h3v3h-3zM109 438h3v3h-3zM112 438h3v3h-3zM109 441h3v3h-3zM112 441h3v3h-3zM109 444h3v3h-3zM109 447h3v3h-3zM109 450h3v3h-3zM109 453h3v3h-3zM109 456h3v3h-3zM109 459h3v3h-3zM109 462h3v3h-3zM109 465h3v3h-3zM109 468h3v3h-3zM109 471h3v3h-3z"/>
<path fill="#101010" d="M64 273h3v3h-3zM82 273h3v3h-3zM217 276h3v3h-3zM220 276h3v3h-3zM223 276h3v3h-3zM226 276h3v3h-3zM229 276h3v3h-3zM232 276h3v3h-3zM235 276h3v3h-3zM238 276h3v3h-3zM241 276h3v3h-3zM244 276h3v3h-3zM247 276h3v3h-3zM250 276h3v3h-3zM253 276h3v3h-3zM256 276h3v3h-3zM259 276h3v3h-3zM262 276h3v3h-3zM265 276h3v3h-3zM268 276h3v3h-3zM271 276h3v3h-3zM274 276h3v3h-3zM277 276h3v3h-3zM148 279h3v3h-3zM145 282h3v3h-3zM145 285h3v3h-3zM145 288h3v3h-3zM145 291h3v3h-3zM145 294h3v3h-3zM145 297h3v3h-3zM145 300h3v3h-3zM145 303h3v3h-3zM145 306h3v3h-3zM145 309h3v3h-3zM145 312h3v3h-3zM145 315h3v3h-3zM145 318h3v3h-3zM145 321h3v3h-3zM145 324h3v3h-3zM145 327h3v3h-3zM145 330h3v3h-3zM145 333h3v3h-3zM91 336h3v3h-3zM142 336h3v3h-3zM145 336h3v3h-3zM88 339h3v3h-3zM142 339h3v3h-3zM145 339h3v3h-3zM79 342h3v3h-3zM142 342h3v3h-3zM145 342h3v3h-3zM142 345h3v3h-3zM145 345h3v3h-3zM142 348h3v3h-3zM145 348h3v3h-3zM64 351h3v3h-3zM67 351h3v3h-3zM142 351h3v3h-3zM145 351h3v3h-3zM139 354h3v3h-3zM142 354h3v3h-3zM139 357h3v3h-3zM136 360h3v3h-3zM133 363h3v3h-3zM130 366h3v3h-3zM127 372h3v3h-3zM124 375h3v3h-3zM124 378h3v3h-3zM121 381h3v3h-3zM121 384h3v3h-3zM121 387h3v3h-3zM118 396h3v3h-3zM118 399h3v3h-3zM118 402h3v3h-3zM118 405h3v3h-3zM118 408h3v3h-3zM115 417h3v3h-3zM115 420h3v3h-3zM115 423h3v3h-3zM115 426h3v3h-3zM115 429h3v3h-3zM115 432h3v3h-3zM115 435h3v3h-3zM112 444h3v3h-3zM112 447h3v3h-3zM112 450h3v3h-3zM112 453h3v3h-3zM112 456h3v3h-3zM112 459h3v3h-3zM112 462h3v3h-3zM112 465h3v3h-3zM112 468h3v3h-3zM112 471h3v3h-3z"/>
<path fill="#111111" d="M67 273h3v3h-3zM61 276h3v3h-3zM88 276h3v3h-3zM91 279h3v3h-3zM151 279h3v3h-3zM154 279h3v3h-3zM91 282h3v3h-3zM148 282h3v3h-3zM91 285h3v3h-3zM148 285h3v3h-3zM91 288h3v3h-3zM148 288h3v3h-3zM91 291h3v3h-3zM148 291h3v3h-3zM91 294h3v3h-3zM148 294h3v3h-3zM91 297h3v3h-3zM148 297h3v3h-3zM91 300h3v3h-3zM148 300h3v3h-3zM91 303h3v3h-3zM148 303h3v3h-3zM91 306h3v3h-3zM148 306h3v3h-3zM91 309h3v3h-3zM148 309h3v3h-3zM91 312h3v3h-3zM148 312h3v3h-3zM91 315h3v3h-3zM148 315h3v3h-3zM91 318h3v3h-3zM148 318h3v3h-3zM91 321h3v3h-3zM148 321h3v3h-3zM91 324h3v3h-3zM148 324h3v3h-3zM91 327h3v3h-3zM148 327h3v3h-3zM91 330h3v3h-3zM148 330h3v3h-3zM91 333h3v3h-3zM148 333h3v3h-3zM148 336h3v3h-3zM148 339h3v3h-3zM76 342h3v3h-3zM148 342h3v3h-3zM61 345h3v3h-3zM148 345h3v3h-3zM148 348h3v3h-3zM148 351h3v3h-3zM145 354h3v3h-3zM142 357h3v3h-3zM139 360h3v3h-3zM136 363h3v3h-3zM133 366h3v3h-3zM130 369h3v3h-3zM127 375h3v3h-3zM124 381h3v3h-3zM121 390h3v3h-3zM121 393h3v3h-3zM121 396h3v3h-3zM121 399h3v3h-3zM118 411h3v3h-3zM118 414h3v3h-3zM118 417h3v3h-3zM118 420h3v3h-3zM118 423h3v3h-3zM115 438h3v3h-3zM115 441h3v3h-3zM115 444h3v3h-3zM115 447h3v3h-3zM115 450h3v3h-3zM115 453h3v3h-3zM115 456h3v3h-3z"/>
<path fill="#121212" d="M79 273h3v3h-3zM157 279h3v3h-3zM151 282h3v3h-3zM151 285h3v3h-3zM151 288h3v3h-3zM151 291h3v3h-3zM151 294h3v3h-3zM151 297h3v3h-3zM151 300h3v3h-3zM151 303h3v3h-3zM151 306h3v3h-3zM151 309h3v3h-3zM151 312h3v3h-3zM151 315h3v3h-3zM151 318h3v3h-3zM151 321h3v3h-3zM151 324h3v3h-3zM151 327h3v3h-3zM151 330h3v3h-3zM151 333h3v3h-3zM151 336h3v3h-3zM85 339h3v3h-3zM151 339h3v3h-3zM151 342h3v3h-3zM70 345h3v3h-3zM151 345h3v3h-3zM151 348h3v3h-3zM151 351h3v3h-3zM148 354h3v3h-3zM145 357h3v3h-3zM148 357h3v3h-3zM142 360h3v3h-3zM139 363h3v3h-3zM133 369h3v3h-3zM130 372h3v3h-3zM124 384h3v3h-3zM124 387h3v3h-3zM121 402h3v3h-3zM121 405h3v3h-3zM121 408h3v3h-3zM118 426h3v3h-3zM118 429h3v3h-3zM118 432h3v3h-3zM118 435h3v3h-3zM115 459h3v3h-3zM115 462h3v3h-3zM115 465h3v3h-3zM115 468h3v3h-3zM115 471h3v3h-3z"/>
<path fill="#131313" d="M70 273h3v3h-3zM160 279h3v3h-3zM154 282h3v3h-3zM154 285h3v3h-3zM154 288h3v3h-3zM154 291h3v3h-3zM154 294h3v3h-3zM154 297h3v3h-3zM154 300h3v3h-3zM154 303h3v3h-3zM154 306h3v3h-3zM154 309h3v3h-3zM154 312h3v3h-3zM154 315h3v3h-3zM154 318h3v3h-3zM154 321h3v3h-3zM154 324h3v3h-3zM154 327h3v3h-3zM154 330h3v3h-3zM154 333h3v3h-3zM88 336h3v3h-3zM154 336h3v3h-3zM154 339h3v3h-3zM73 342h3v3h-3zM154 342h3v3h-3zM154 345h3v3h-3zM64 348h3v3h-3zM67 348h3v3h-3zM154 348h3v3h-3zM154 351h3v3h-3zM151 354h3v3h-3zM151 357h3v3h-3zM145 360h3v3h-3zM136 366h3v3h-3zM127 378h3v3h-3zM124 390h3v3h-3zM124 393h3v3h-3zM121 411h3v3h-3zM121 414h3v3h-3zM121 417h3v3h-3zM118 438h3v3h-3zM118 441h3v3h-3zM118 444h3v3h-3zM118 447h3v3h-3z"/>
<path fill="#141414" d="M73 273h3v3h-3zM88 279h3v3h-3zM163 279h3v3h-3zM157 282h3v3h-3zM157 285h3v3h-3zM157 288h3v3h-3zM157 291h3v3h-3zM157 294h3v3h-3zM157 297h3v3h-3zM157 300h3v3h-3zM157 303h3v3h-3zM157 306h3v3h-3zM157 309h3v3h-3zM157 312h3v3h-3zM157 315h3v3h-3zM157 318h3v3h-3zM157 321h3v3h-3zM157 324h3v3h-3zM157 327h3v3h-3zM157 330h3v3h-3zM157 333h3v3h-3zM157 336h3v3h-3zM157 339h3v3h-3zM61 342h3v3h-3zM157 342h3v3h-3zM157 345h3v3h-3zM157 348h3v3h-3zM157 351h3v3h-3zM154 354h3v3h-3zM154 357h3v3h-3zM148 360h3v3h-3zM142 363h3v3h-3zM130 375h3v3h-3zM127 381h3v3h-3zM124 396h3v3h-3zM124 399h3v3h-3zM124 402h3v3h-3zM121 420h3v3h-3zM121 423h3v3h-3zM121 426h3v3h-3zM118 450h3v3h-3zM118 453h3v3h-3zM118 456h3v3h-3zM118 459h3v3h-3z"/>
<path fill="#151515" d="M76 273h3v3h-3zM85 276h3v3h-3zM166 279h3v3h-3zM88 282h3v3h-3zM160 282h3v3h-3zM88 285h3v3h-3zM160 285h3v3h-3zM88 288h3v3h-3zM160 288h3v3h-3zM88 291h3v3h-3zM160 291h3v3h-3zM88 294h3v3h-3zM160 294h3v3h-3zM88 297h3v3h-3zM160 297h3v3h-3zM88 300h3v3h-3zM160 300h3v3h-3zM88 303h3v3h-3zM160 303h3v3h-3zM88 306h3v3h-3zM160 306h3v3h-3zM88 309h3v3h-3zM160 309h3v3h-3zM88 312h3v3h-3zM160 312h3v3h-3zM88 315h3v3h-3zM160 315h3v3h-3zM88 318h3v3h-3zM160 318h3v3h-3zM88 321h3v3h-3zM160 321h3v3h-3zM88 324h3v3h-3zM160 324h3v3h-3zM88 327h3v3h-3zM160 327h3v3h-3zM88 330h3v3h-3zM160 330h3v3h-3zM88 333h3v3h-3zM160 333h3v3h-3zM160 336h3v3h-3zM160 339h3v3h-3zM160 342h3v3h-3zM160 345h3v3h-3zM160 348h3v3h-3zM160 351h3v3h-3zM157 354h3v3h-3zM151 360h3v3h-3zM145 363h3v3h-3zM139 366h3v3h-3zM136 369h3v3h-3zM133 372h3v3h-3zM127 384h3v3h-3zM124 405h3v3h-3zM124 408h3v3h-3zM121 429h3v3h-3zM121 432h3v3h-3zM121 435h3v3h-3zM118 462h3v3h-3zM118 465h3v3h-3zM118 468h3v3h-3zM118 471h3v3h-3z"/>
<path fill="#161616" d="M163 282h3v3h-3zM163 285h3v3h-3zM163 288h3v3h-3zM163 291h3v3h-3zM163 294h3v3h-3zM163 297h3v3h-3zM163 300h3v3h-3zM163 303h3v3h-3zM163 306h3v3h-3zM163 309h3v3h-3zM163 312h3v3h-3zM163 315h3v3h-3zM163 318h3v3h-3zM163 321h3v3h-3zM163 324h3v3h-3zM163 327h3v3h-3zM163 330h3v3h-3zM163 333h3v3h-3zM163 336h3v3h-3zM82 339h3v3h-3zM163 339h3v3h-3zM163 342h3v3h-3zM163 345h3v3h-3zM160 354h3v3h-3zM157 357h3v3h-3zM154 360h3v3h-3zM130 378h3v3h-3zM127 387h3v3h-3zM127 390h3v3h-3zM124 411h3v3h-3zM124 414h3v3h-3zM121 438h3v3h-3zM121 441h3v3h-3z"/>
<path fill="#171717" d="M169 279h3v3h-3zM163 348h3v3h-3zM163 351h3v3h-3zM163 354h3v3h-3zM160 357h3v3h-3zM148 363h3v3h-3zM142 366h3v3h-3zM127 393h3v3h-3zM124 417h3v3h-3zM124 420h3v3h-3zM121 444h3v3h-3zM121 447h3v3h-3z"/>
<path fill="#181818" d="M172 279h3v3h-3zM166 282h3v3h-3zM166 285h3v3h-3zM166 288h3v3h-3zM166 291h3v3h-3zM166 294h3v3h-3zM166 297h3v3h-3zM166 300h3v3h-3zM166 303h3v3h-3zM166 306h3v3h-3zM166 309h3v3h-3zM166 312h3v3h-3zM166 315h3v3h-3zM166 318h3v3h-3zM166 321h3v3h-3zM166 324h3v3h-3zM166 327h3v3h-3zM166 330h3v3h-3zM166 333h3v3h-3zM166 336h3v3h-3zM166 339h3v3h-3zM166 342h3v3h-3zM166 345h3v3h-3zM166 348h3v3h-3zM166 351h3v3h-3zM163 357h3v3h-3zM157 360h3v3h-3zM151 363h3v3h-3zM139 369h3v3h-3zM136 372h3v3h-3zM133 375h3v3h-3zM130 381h3v3h-3zM127 396h3v3h-3zM127 399h3v3h-3zM124 423h3v3h-3zM121 450h3v3h-3zM121 453h3v3h-3zM121 456h3v3h-3z"/>
<path fill="#191919" d="M85 336h3v3h-3zM166 354h3v3h-3zM166 357h3v3h-3zM160 360h3v3h-3zM145 366h3v3h-3zM130 384h3v3h-3zM127 402h3v3h-3zM124 426h3v3h-3zM124 429h3v3h-3zM121 459h3v3h-3zM121 462h3v3h-3zM121 465h3v3h-3zM121 468h3v3h-3zM121 471h3v3h-3z"/>
<path fill="#1a1a1a" d="M85 279h3v3h-3zM175 279h3v3h-3zM169 282h3v3h-3zM169 285h3v3h-3zM169 288h3v3h-3zM169 291h3v3h-3zM169 294h3v3h-3zM169 297h3v3h-3zM169 300h3v3h-3zM169 303h3v3h-3zM169 306h3v3h-3zM169 309h3v3h-3zM169 312h3v3h-3zM169 315h3v3h-3zM169 318h3v3h-3zM169 321h3v3h-3zM169 324h3v3h-3zM169 327h3v3h-3zM169 330h3v3h-3zM169 333h3v3h-3zM169 336h3v3h-3zM169 339h3v3h-3zM70 342h3v3h-3zM169 342h3v3h-3zM64 345h3v3h-3zM169 345h3v3h-3zM169 348h3v3h-3zM169 351h3v3h-3zM169 354h3v3h-3zM163 360h3v3h-3zM154 363h3v3h-3zM127 405h3v3h-3zM127 408h3v3h-3zM124 432h3v3h-3zM124 435h3v3h-3z"/>
<path fill="#1b1b1b" d="M82 276h3v3h-3zM178 279h3v3h-3zM85 282h3v3h-3zM172 282h3v3h-3zM85 333h3v3h-3zM67 345h3v3h-3zM169 357h3v3h-3zM166 360h3v3h-3zM148 366h3v3h-3zM142 369h3v3h-3zM133 378h3v3h-3zM130 387h3v3h-3zM127 411h3v3h-3zM124 438h3v3h-3z"/>
<path fill="#1c1c1c" d="M61 279h3v3h-3zM85 285h3v3h-3zM172 285h3v3h-3zM85 288h3v3h-3zM172 288h3v3h-3zM85 291h3v3h-3zM172 291h3v3h-3zM85 294h3v3h-3zM172 294h3v3h-3zM85 297h3v3h-3zM172 297h3v3h-3zM85 300h3v3h-3zM172 300h3v3h-3zM85 303h3v3h-3zM172 303h3v3h-3zM85 306h3v3h-3zM172 306h3v3h-3zM85 309h3v3h-3zM172 309h3v3h-3zM85 312h3v3h-3zM172 312h3v3h-3zM85 315h3v3h-3zM172 315h3v3h-3zM85 318h3v3h-3zM172 318h3v3h-3zM85 321h3v3h-3zM172 321h3v3h-3zM85 324h3v3h-3zM172 324h3v3h-3zM85 327h3v3h-3zM172 327h3v3h-3zM85 330h3v3h-3zM172 330h3v3h-3zM172 333h3v3h-3zM172 336h3v3h-3zM61 339h3v3h-3zM79 339h3v3h-3zM172 339h3v3h-3zM172 342h3v3h-3zM172 345h3v3h-3zM172 348h3v3h-3zM172 351h3v3h-3zM172 354h3v3h-3zM157 363h3v3h-3zM139 372h3v3h-3zM136 375h3v3h-3zM130 390h3v3h-3zM127 414h3v3h-3zM127 417h3v3h-3zM124 441h3v3h-3zM124 444h3v3h-3z"/>
<path fill="#1d1d1d" d="M172 357h3v3h-3zM169 360h3v3h-3zM160 363h3v3h-3zM151 366h3v3h-3zM133 381h3v3h-3zM130 393h3v3h-3zM127 420h3v3h-3zM124 447h3v3h-3z"/>
<path fill="#1e1e1e" d="M181 279h3v3h-3zM175 282h3v3h-3zM175 285h3v3h-3zM175 288h3v3h-3zM175 291h3v3h-3zM175 294h3v3h-3zM175 297h3v3h-3zM175 300h3v3h-3zM175 303h3v3h-3zM175 306h3v3h-3zM175 309h3v3h-3zM175 312h3v3h-3zM175 315h3v3h-3zM175 318h3v3h-3zM175 321h3v3h-3zM175 324h3v3h-3zM175 327h3v3h-3zM175 330h3v3h-3zM175 333h3v3h-3zM175 336h3v3h-3zM175 339h3v3h-3zM175 342h3v3h-3zM175 345h3v3h-3zM175 348h3v3h-3zM175 351h3v3h-3zM172 360h3v3h-3zM145 369h3v3h-3zM130 396h3v3h-3zM130 399h3v3h-3zM127 423h3v3h-3zM124 450h3v3h-3zM124 453h3v3h-3zM124 456h3v3h-3z"/>
<path fill="#1f1f1f" d="M175 354h3v3h-3zM175 357h3v3h-3zM163 363h3v3h-3zM130 402h3v3h-3zM127 426h3v3h-3zM124 459h3v3h-3z"/>
<path fill="#202020" d="M64 276h3v3h-3zM184 279h3v3h-3zM178 282h3v3h-3zM178 285h3v3h-3zM178 288h3v3h-3zM178 291h3v3h-3zM178 294h3v3h-3zM178 297h3v3h-3zM178 300h3v3h-3zM178 303h3v3h-3zM178 306h3v3h-3zM178 309h3v3h-3zM178 312h3v3h-3zM178 315h3v3h-3zM178 318h3v3h-3zM178 321h3v3h-3zM178 324h3v3h-3zM178 327h3v3h-3zM178 330h3v3h-3zM178 333h3v3h-3zM178 336h3v3h-3zM178 339h3v3h-3zM178 342h3v3h-3zM175 360h3v3h-3zM166 363h3v3h-3zM154 366h3v3h-3zM142 372h3v3h-3zM133 384h3v3h-3zM130 405h3v3h-3zM127 429h3v3h-3zM127 432h3v3h-3zM124 462h3v3h-3zM124 465h3v3h-3zM124 468h3v3h-3zM124 471h3v3h-3z"/>
<path fill="#212121" d="M178 345h3v3h-3zM178 348h3v3h-3zM178 351h3v3h-3zM178 354h3v3h-3zM148 369h3v3h-3zM136 378h3v3h-3zM130 408h3v3h-3zM127 435h3v3h-3z"/>
<path fill="#222222" d="M82 336h3v3h-3zM178 357h3v3h-3zM169 363h3v3h-3zM139 375h3v3h-3zM133 387h3v3h-3zM130 411h3v3h-3zM127 438h3v3h-3z"/>
<path fill="#232323" d="M187 279h3v3h-3zM181 282h3v3h-3zM181 285h3v3h-3zM181 288h3v3h-3zM181 291h3v3h-3zM181 294h3v3h-3zM181 297h3v3h-3zM181 300h3v3h-3zM181 303h3v3h-3zM181 306h3v3h-3zM181 309h3v3h-3zM181 312h3v3h-3zM181 315h3v3h-3zM181 318h3v3h-3zM181 321h3v3h-3zM181 324h3v3h-3zM181 327h3v3h-3zM181 330h3v3h-3zM181 333h3v3h-3zM181 336h3v3h-3zM181 339h3v3h-3zM181 342h3v3h-3zM178 360h3v3h-3zM172 363h3v3h-3zM157 366h3v3h-3zM133 390h3v3h-3zM130 414h3v3h-3zM127 441h3v3h-3z"/>
<path fill="#242424" d="M79 276h3v3h-3zM76 339h3v3h-3zM181 345h3v3h-3zM181 348h3v3h-3zM181 351h3v3h-3zM175 363h3v3h-3zM133 393h3v3h-3zM130 417h3v3h-3zM127 444h3v3h-3z"/>
<path fill="#252525" d="M82 279h3v3h-3zM190 279h3v3h-3zM181 354h3v3h-3zM181 357h3v3h-3zM151 369h3v3h-3zM145 372h3v3h-3zM136 381h3v3h-3zM133 396h3v3h-3zM130 420h3v3h-3zM127 447h3v3h-3zM127 450h3v3h-3z"/>
<path fill="#262626" d="M184 282h3v3h-3zM184 285h3v3h-3zM61 288h3v3h-3zM184 288h3v3h-3zM61 291h3v3h-3zM184 291h3v3h-3zM61 294h3v3h-3zM184 294h3v3h-3zM184 297h3v3h-3zM184 300h3v3h-3zM184 303h3v3h-3zM61 306h3v3h-3zM184 306h3v3h-3zM61 309h3v3h-3zM184 309h3v3h-3zM61 312h3v3h-3zM184 312h3v3h-3zM184 315h3v3h-3zM184 318h3v3h-3zM184 321h3v3h-3zM184 324h3v3h-3zM184 327h3v3h-3zM184 330h3v3h-3zM184 333h3v3h-3zM61 336h3v3h-3zM184 336h3v3h-3zM184 339h3v3h-3zM181 360h3v3h-3zM178 363h3v3h-3zM160 366h3v3h-3zM133 399h3v3h-3zM130 423h3v3h-3zM127 453h3v3h-3zM127 456h3v3h-3z"/>
<path fill="#272727" d="M82 282h3v3h-3zM82 285h3v3h-3zM82 288h3v3h-3zM82 291h3v3h-3zM82 294h3v3h-3zM61 297h3v3h-3zM82 297h3v3h-3zM82 300h3v3h-3zM61 303h3v3h-3zM82 303h3v3h-3zM82 306h3v3h-3zM82 309h3v3h-3zM82 312h3v3h-3zM61 315h3v3h-3zM82 315h3v3h-3zM61 318h3v3h-3zM82 318h3v3h-3zM61 321h3v3h-3zM82 321h3v3h-3zM82 324h3v3h-3zM82 327h3v3h-3zM61 330h3v3h-3zM82 330h3v3h-3zM82 333h3v3h-3zM64 342h3v3h-3zM184 342h3v3h-3zM184 345h3v3h-3zM184 348h3v3h-3zM130 426h3v3h-3zM127 459h3v3h-3z"/>
<path fill="#282828" d="M193 279h3v3h-3zM61 282h3v3h-3zM61 300h3v3h-3zM61 324h3v3h-3zM61 327h3v3h-3zM184 351h3v3h-3zM184 354h3v3h-3zM181 363h3v3h-3zM142 375h3v3h-3zM139 378h3v3h-3zM136 384h3v3h-3zM133 402h3v3h-3zM130 429h3v3h-3zM127 462h3v3h-3zM127 465h3v3h-3zM127 468h3v3h-3zM127 471h3v3h-3z"/>
<path fill="#292929" d="M61 285h3v3h-3zM67 342h3v3h-3zM184 357h3v3h-3zM184 360h3v3h-3zM163 366h3v3h-3zM154 369h3v3h-3zM148 372h3v3h-3zM133 405h3v3h-3zM130 432h3v3h-3z"/>
<path fill="#2a2a2a" d="M187 282h3v3h-3zM187 285h3v3h-3zM187 288h3v3h-3zM187 291h3v3h-3zM187 294h3v3h-3zM187 297h3v3h-3zM187 300h3v3h-3zM187 303h3v3h-3zM187 306h3v3h-3zM187 309h3v3h-3zM187 312h3v3h-3zM187 315h3v3h-3zM187 318h3v3h-3zM187 321h3v3h-3zM187 324h3v3h-3zM187 327h3v3h-3zM187 330h3v3h-3zM61 333h3v3h-3zM187 333h3v3h-3zM187 336h3v3h-3zM187 339h3v3h-3zM187 342h3v3h-3zM136 387h3v3h-3zM133 408h3v3h-3zM130 435h3v3h-3z"/>
<path fill="#2b2b2b" d="M67 276h3v3h-3zM196 279h3v3h-3zM187 345h3v3h-3zM187 348h3v3h-3zM184 363h3v3h-3zM133 411h3v3h-3zM130 438h3v3h-3z"/>
<path fill="#2c2c2c" d="M187 351h3v3h-3zM187 354h3v3h-3zM166 366h3v3h-3zM139 381h3v3h-3zM136 390h3v3h-3zM133 414h3v3h-3zM130 441h3v3h-3z"/>
<path fill="#2d2d2d" d="M199 279h3v3h-3zM190 282h3v3h-3zM190 285h3v3h-3zM190 288h3v3h-3zM190 291h3v3h-3zM190 294h3v3h-3zM190 297h3v3h-3zM190 300h3v3h-3zM190 303h3v3h-3zM190 306h3v3h-3zM190 309h3v3h-3zM190 312h3v3h-3zM190 315h3v3h-3zM190 318h3v3h-3zM190 321h3v3h-3zM190 324h3v3h-3zM190 327h3v3h-3zM190 330h3v3h-3zM187 357h3v3h-3zM157 369h3v3h-3zM145 375h3v3h-3zM136 393h3v3h-3zM133 417h3v3h-3zM130 444h3v3h-3z"/>
<path fill="#2e2e2e" d="M190 333h3v3h-3zM190 336h3v3h-3zM190 339h3v3h-3zM190 342h3v3h-3zM187 360h3v3h-3zM169 366h3v3h-3zM151 372h3v3h-3zM142 378h3v3h-3zM136 396h3v3h-3zM133 420h3v3h-3zM130 447h3v3h-3z"/>
<path fill="#2f2f2f" d="M202 279h3v3h-3zM190 345h3v3h-3zM190 348h3v3h-3zM187 363h3v3h-3zM133 423h3v3h-3zM130 450h3v3h-3zM130 453h3v3h-3zM130 456h3v3h-3z"/>
<path fill="#303030" d="M73 339h3v3h-3zM190 351h3v3h-3zM139 384h3v3h-3zM136 399h3v3h-3zM133 426h3v3h-3zM130 459h3v3h-3z"/>
<path fill="#313131" d="M76 276h3v3h-3zM205 279h3v3h-3zM193 282h3v3h-3zM193 285h3v3h-3zM193 288h3v3h-3zM193 291h3v3h-3zM193 294h3v3h-3zM193 297h3v3h-3zM193 300h3v3h-3zM193 303h3v3h-3zM193 306h3v3h-3zM193 309h3v3h-3zM193 312h3v3h-3zM193 315h3v3h-3zM193 318h3v3h-3zM193 321h3v3h-3zM193 324h3v3h-3zM193 327h3v3h-3zM193 330h3v3h-3zM193 333h3v3h-3zM79 336h3v3h-3zM193 336h3v3h-3zM190 354h3v3h-3zM172 366h3v3h-3zM136 402h3v3h-3zM133 429h3v3h-3zM130 462h3v3h-3z"/>
<path fill="#323232" d="M70 276h3v3h-3zM208 279h3v3h-3zM193 339h3v3h-3zM193 342h3v3h-3zM190 357h3v3h-3zM160 369h3v3h-3zM139 387h3v3h-3zM136 405h3v3h-3zM133 432h3v3h-3zM130 465h3v3h-3zM130 468h3v3h-3zM130 471h3v3h-3z"/>
<path fill="#333333" d="M211 279h3v3h-3zM193 345h3v3h-3zM193 348h3v3h-3zM190 360h3v3h-3zM175 366h3v3h-3zM148 375h3v3h-3zM136 408h3v3h-3zM133 435h3v3h-3z"/>
<path fill="#343434" d="M73 276h3v3h-3zM214 279h3v3h-3zM217 279h3v3h-3zM193 351h3v3h-3zM190 363h3v3h-3zM154 372h3v3h-3zM142 381h3v3h-3zM139 390h3v3h-3zM136 411h3v3h-3zM133 438h3v3h-3z"/>
<path fill="#353535" d="M79 279h3v3h-3zM220 279h3v3h-3zM223 279h3v3h-3zM226 279h3v3h-3zM196 282h3v3h-3zM196 285h3v3h-3zM196 288h3v3h-3zM196 291h3v3h-3zM196 294h3v3h-3zM196 297h3v3h-3zM196 300h3v3h-3zM196 303h3v3h-3zM196 306h3v3h-3zM196 309h3v3h-3zM196 312h3v3h-3zM196 315h3v3h-3zM196 318h3v3h-3zM196 321h3v3h-3zM196 324h3v3h-3zM196 327h3v3h-3zM196 330h3v3h-3zM196 333h3v3h-3zM196 336h3v3h-3zM196 339h3v3h-3zM193 354h3v3h-3zM178 366h3v3h-3zM145 378h3v3h-3zM136 414h3v3h-3zM133 441h3v3h-3z"/>
<path fill="#363636" d="M229 279h3v3h-3zM232 279h3v3h-3zM235 279h3v3h-3zM238 279h3v3h-3zM241 279h3v3h-3zM244 279h3v3h-3zM247 279h3v3h-3zM250 279h3v3h-3zM253 279h3v3h-3zM256 279h3v3h-3zM259 279h3v3h-3zM262 279h3v3h-3zM265 279h3v3h-3zM268 279h3v3h-3zM271 279h3v3h-3zM274 279h3v3h-3zM277 279h3v3h-3zM196 342h3v3h-3zM196 345h3v3h-3zM139 393h3v3h-3zM136 417h3v3h-3zM133 444h3v3h-3z"/>
<path fill="#373737" d="M196 348h3v3h-3zM193 357h3v3h-3zM181 366h3v3h-3zM139 396h3v3h-3zM136 420h3v3h-3zM133 447h3v3h-3z"/>
<path fill="#383838" d="M199 282h3v3h-3zM199 285h3v3h-3zM199 288h3v3h-3zM199 291h3v3h-3zM199 294h3v3h-3zM199 297h3v3h-3zM199 300h3v3h-3zM199 303h3v3h-3zM199 306h3v3h-3zM199 309h3v3h-3zM199 312h3v3h-3zM199 315h3v3h-3zM199 318h3v3h-3zM199 321h3v3h-3zM199 324h3v3h-3zM199 327h3v3h-3zM199 330h3v3h-3zM79 333h3v3h-3zM199 333h3v3h-3zM199 336h3v3h-3zM193 360h3v3h-3zM163 369h3v3h-3zM142 384h3v3h-3zM133 450h3v3h-3zM133 453h3v3h-3zM133 456h3v3h-3z"/>
<path fill="#393939" d="M79 282h3v3h-3zM79 285h3v3h-3zM79 288h3v3h-3zM79 291h3v3h-3zM79 294h3v3h-3zM79 297h3v3h-3zM79 300h3v3h-3zM79 303h3v3h-3zM79 306h3v3h-3zM79 309h3v3h-3zM79 312h3v3h-3zM79 315h3v3h-3zM79 318h3v3h-3zM79 321h3v3h-3zM79 324h3v3h-3zM79 327h3v3h-3zM79 330h3v3h-3zM199 339h3v3h-3zM199 342h3v3h-3zM196 351h3v3h-3zM193 363h3v3h-3zM139 399h3v3h-3zM136 423h3v3h-3zM133 459h3v3h-3z"/>
<path fill="#3a3a3a" d="M202 282h3v3h-3zM199 345h3v3h-3zM196 354h3v3h-3zM184 366h3v3h-3zM151 375h3v3h-3zM139 402h3v3h-3zM136 426h3v3h-3zM133 462h3v3h-3zM133 465h3v3h-3zM133 468h3v3h-3zM133 471h3v3h-3z"/>
<path fill="#3b3b3b" d="M202 285h3v3h-3zM202 288h3v3h-3zM202 291h3v3h-3zM202 294h3v3h-3zM202 297h3v3h-3zM202 300h3v3h-3zM202 303h3v3h-3zM202 306h3v3h-3zM202 309h3v3h-3zM202 312h3v3h-3zM202 315h3v3h-3zM202 318h3v3h-3zM202 321h3v3h-3zM202 324h3v3h-3zM202 327h3v3h-3zM202 330h3v3h-3zM202 333h3v3h-3zM202 336h3v3h-3zM199 348h3v3h-3zM157 372h3v3h-3zM142 387h3v3h-3zM139 405h3v3h-3zM136 429h3v3h-3z"/>
<path fill="#3c3c3c" d="M202 339h3v3h-3zM202 342h3v3h-3zM196 357h3v3h-3zM148 378h3v3h-3zM145 381h3v3h-3zM139 408h3v3h-3zM136 432h3v3h-3z"/>
<path fill="#3d3d3d" d="M205 282h3v3h-3zM205 285h3v3h-3zM205 288h3v3h-3zM205 291h3v3h-3zM205 294h3v3h-3zM205 297h3v3h-3zM205 300h3v3h-3zM205 303h3v3h-3zM205 306h3v3h-3zM205 309h3v3h-3zM205 312h3v3h-3zM205 315h3v3h-3zM205 318h3v3h-3zM205 321h3v3h-3zM205 324h3v3h-3zM205 327h3v3h-3zM205 330h3v3h-3zM205 333h3v3h-3zM202 345h3v3h-3zM199 351h3v3h-3zM196 360h3v3h-3zM187 366h3v3h-3zM142 390h3v3h-3zM139 411h3v3h-3zM136 435h3v3h-3z"/>
<path fill="#3e3e3e" d="M205 336h3v3h-3zM205 339h3v3h-3zM199 354h3v3h-3zM196 363h3v3h-3zM166 369h3v3h-3zM139 414h3v3h-3zM136 438h3v3h-3z"/>
<path fill="#3f3f3f" d="M208 282h3v3h-3zM208 285h3v3h-3zM208 288h3v3h-3zM208 291h3v3h-3zM208 294h3v3h-3zM208 297h3v3h-3zM208 300h3v3h-3zM208 303h3v3h-3zM208 306h3v3h-3zM208 309h3v3h-3zM208 312h3v3h-3zM208 315h3v3h-3zM208 318h3v3h-3zM208 321h3v3h-3zM208 324h3v3h-3zM208 327h3v3h-3zM208 330h3v3h-3zM208 333h3v3h-3zM208 336h3v3h-3zM205 342h3v3h-3zM202 348h3v3h-3zM142 393h3v3h-3zM139 417h3v3h-3zM136 441h3v3h-3z"/>
<path fill="#404040" d="M211 282h3v3h-3zM211 285h3v3h-3zM211 288h3v3h-3zM211 291h3v3h-3zM211 294h3v3h-3zM211 297h3v3h-3zM211 300h3v3h-3zM211 303h3v3h-3zM211 306h3v3h-3zM211 309h3v3h-3zM211 312h3v3h-3zM211 315h3v3h-3zM211 318h3v3h-3zM211 321h3v3h-3zM211 324h3v3h-3zM211 327h3v3h-3zM211 330h3v3h-3zM208 339h3v3h-3zM205 345h3v3h-3zM202 351h3v3h-3zM199 357h3v3h-3zM190 366h3v3h-3zM145 384h3v3h-3zM142 396h3v3h-3zM139 420h3v3h-3zM136 444h3v3h-3z"/>
<path fill="#414141" d="M214 282h3v3h-3zM214 285h3v3h-3zM214 288h3v3h-3zM214 291h3v3h-3zM214 294h3v3h-3zM214 297h3v3h-3zM214 300h3v3h-3zM214 303h3v3h-3zM214 306h3v3h-3zM214 309h3v3h-3zM214 312h3v3h-3zM214 315h3v3h-3zM214 318h3v3h-3zM214 321h3v3h-3zM214 324h3v3h-3zM214 327h3v3h-3zM214 330h3v3h-3zM211 333h3v3h-3zM211 336h3v3h-3zM70 339h3v3h-3zM211 339h3v3h-3zM208 342h3v3h-3zM205 348h3v3h-3zM154 375h3v3h-3zM142 399h3v3h-3zM139 423h3v3h-3zM136 447h3v3h-3zM136 450h3v3h-3zM136 453h3v3h-3zM136 456h3v3h-3z"/>
<path fill="#424242" d="M217 282h3v3h-3zM220 282h3v3h-3zM217 285h3v3h-3zM217 288h3v3h-3zM217 291h3v3h-3zM217 294h3v3h-3zM217 297h3v3h-3zM217 300h3v3h-3zM217 303h3v3h-3zM217 306h3v3h-3zM217 309h3v3h-3zM217 312h3v3h-3zM217 315h3v3h-3zM217 318h3v3h-3zM217 321h3v3h-3zM217 324h3v3h-3zM217 327h3v3h-3zM217 330h3v3h-3zM214 333h3v3h-3zM217 333h3v3h-3zM214 336h3v3h-3zM211 342h3v3h-3zM208 345h3v3h-3zM202 354h3v3h-3zM199 360h3v3h-3zM199 363h3v3h-3zM142 402h3v3h-3zM136 459h3v3h-3zM136 462h3v3h-3z"/>
<path fill="#434343" d="M223 282h3v3h-3zM226 282h3v3h-3zM229 282h3v3h-3zM232 282h3v3h-3zM220 285h3v3h-3zM223 285h3v3h-3zM226 285h3v3h-3zM220 288h3v3h-3zM223 288h3v3h-3zM226 288h3v3h-3zM220 291h3v3h-3zM223 291h3v3h-3zM226 291h3v3h-3zM220 294h3v3h-3zM223 294h3v3h-3zM226 294h3v3h-3zM220 297h3v3h-3zM223 297h3v3h-3zM226 297h3v3h-3zM220 300h3v3h-3zM223 300h3v3h-3zM226 300h3v3h-3zM220 303h3v3h-3zM223 303h3v3h-3zM226 303h3v3h-3zM220 306h3v3h-3zM223 306h3v3h-3zM226 306h3v3h-3zM220 309h3v3h-3zM223 309h3v3h-3zM226 309h3v3h-3zM220 312h3v3h-3zM223 312h3v3h-3zM226 312h3v3h-3zM220 315h3v3h-3zM223 315h3v3h-3zM226 315h3v3h-3zM220 318h3v3h-3zM223 318h3v3h-3zM226 318h3v3h-3zM220 321h3v3h-3zM223 321h3v3h-3zM226 321h3v3h-3zM220 324h3v3h-3zM223 324h3v3h-3zM226 324h3v3h-3zM220 327h3v3h-3zM223 327h3v3h-3zM226 327h3v3h-3zM220 330h3v3h-3zM223 330h3v3h-3zM220 333h3v3h-3zM223 333h3v3h-3zM217 336h3v3h-3zM220 336h3v3h-3zM214 339h3v3h-3zM217 339h3v3h-3zM214 342h3v3h-3zM205 351h3v3h-3zM193 366h3v3h-3zM160 372h3v3h-3zM148 381h3v3h-3zM145 387h3v3h-3zM142 405h3v3h-3zM139 426h3v3h-3zM136 465h3v3h-3zM136 468h3v3h-3zM136 471h3v3h-3z"/>
<path fill="#444444" d="M235 282h3v3h-3zM238 282h3v3h-3zM241 282h3v3h-3zM244 282h3v3h-3zM247 282h3v3h-3zM250 282h3v3h-3zM253 282h3v3h-3zM256 282h3v3h-3zM259 282h3v3h-3zM262 282h3v3h-3zM265 282h3v3h-3zM268 282h3v3h-3zM271 282h3v3h-3zM274 282h3v3h-3zM277 282h3v3h-3zM229 285h3v3h-3zM232 285h3v3h-3zM235 285h3v3h-3zM238 285h3v3h-3zM241 285h3v3h-3zM244 285h3v3h-3zM247 285h3v3h-3zM250 285h3v3h-3zM253 285h3v3h-3zM256 285h3v3h-3zM259 285h3v3h-3zM262 285h3v3h-3zM265 285h3v3h-3zM268 285h3v3h-3zM271 285h3v3h-3zM274 285h3v3h-3zM277 285h3v3h-3zM229 288h3v3h-3zM232 288h3v3h-3zM235 288h3v3h-3zM238 288h3v3h-3zM241 288h3v3h-3zM244 288h3v3h-3zM247 288h3v3h-3zM250 288h3v3h-3zM253 288h3v3h-3zM256 288h3v3h-3zM259 288h3v3h-3zM262 288h3v3h-3zM265 288h3v3h-3zM268 288h3v3h-3zM271 288h3v3h-3zM274 288h3v3h-3zM277 288h3v3h-3zM229 291h3v3h-3zM232 291h3v3h-3zM235 291h3v3h-3zM238 291h3v3h-3zM241 291h3v3h-3zM244 291h3v3h-3zM247 291h3v3h-3zM250 291h3v3h-3zM253 291h3v3h-3zM256 291h3v3h-3zM259 291h3v3h-3zM262 291h3v3h-3zM265 291h3v3h-3zM268 291h3v3h-3zM271 291h3v3h-3zM274 291h3v3h-3zM277 291h3v3h-3zM229 294h3v3h-3zM232 294h3v3h-3zM235 294h3v3h-3zM238 294h3v3h-3zM241 294h3v3h-3zM244 294h3v3h-3zM247 294h3v3h-3zM250 294h3v3h-3zM253 294h3v3h-3zM256 294h3v3h-3zM259 294h3v3h-3zM262 294h3v3h-3zM265 294h3v3h-3zM268 294h3v3h-3zM271 294h3v3h-3zM274 294h3v3h-3zM277 294h3v3h-3zM229 297h3v3h-3zM232 297h3v3h-3zM235 297h3v3h-3zM238 297h3v3h-3zM241 297h3v3h-3zM244 297h3v3h-3zM247 297h3v3h-3zM250 297h3v3h-3zM253 297h3v3h-3zM256 297h3v3h-3zM259 297h3v3h-3zM262 297h3v3h-3zM265 297h3v3h-3zM268 297h3v3h-3zM271 297h3v3h-3zM274 297h3v3h-3zM277 297h3v3h-3zM229 300h3v3h-3zM232 300h3v3h-3zM235 300h3v3h-3zM238 300h3v3h-3zM241 300h3v3h-3zM244 300h3v3h-3zM247 300h3v3h-3zM250 300h3v3h-3zM253 300h3v3h-3zM256 300h3v3h-3zM259 300h3v3h-3zM262 300h3v3h-3zM265 300h3v3h-3zM268 300h3v3h-3zM271 300h3v3h-3zM274 300h3v3h-3zM277 300h3v3h-3zM229 303h3v3h-3zM232 303h3v3h-3zM235 303h3v3h-3zM238 303h3v3h-3zM241 303h3v3h-3zM244 303h3v3h-3zM247 303h3v3h-3zM250 303h3v3h-3zM253 303h3v3h-3zM256 303h3v3h-3zM259 303h3v3h-3zM262 303h3v3h-3zM265 303h3v3h-3zM268 303h3v3h-3zM271 303h3v3h-3zM274 303h3v3h-3zM277 303h3v3h-3zM229 306h3v3h-3zM232 306h3v3h-3zM235 306h3v3h-3zM238 306h3v3h-3zM241 306h3v3h-3zM244 306h3v3h-3zM247 306h3v3h-3zM250 306h3v3h-3zM253 306h3v3h-3zM256 306h3v3h-3zM259 306h3v3h-3zM262 306h3v3h-3zM265 306h3v3h-3zM268 306h3v3h-3zM271 306h3v3h-3zM274 306h3v3h-3zM277 306h3v3h-3zM229 309h3v3h-3zM232 309h3v3h-3zM235 309h3v3h-3zM238 309h3v3h-3zM241 309h3v3h-3zM244 309h3v3h-3zM247 309h3v3h-3zM250 309h3v3h-3zM253 309h3v3h-3zM256 309h3v3h-3zM259 309h3v3h-3zM262 309h3v3h-3zM265 309h3v3h-3zM268 309h3v3h-3zM271 309h3v3h-3zM274 309h3v3h-3zM277 309h3v3h-3zM229 312h3v3h-3zM232 312h3v3h-3zM235 312h3v3h-3zM238 312h3v3h-3zM241 312h3v3h-3zM244 312h3v3h-3zM247 312h3v3h-3zM250 312h3v3h-3zM253 312h3v3h-3zM256 312h3v3h-3zM259 312h3v3h-3zM262 312h3v3h-3zM265 312h3v3h-3zM268 312h3v3h-3zM271 312h3v3h-3zM274 312h3v3h-3zM277 312h3v3h-3zM229 315h3v3h-3zM232 315h3v3h-3zM235 315h3v3h-3zM238 315h3v3h-3zM241 315h3v3h-3zM244 315h3v3h-3zM247 315h3v3h-3zM250 315h3v3h-3zM253 315h3v3h-3zM256 315h3v3h-3zM259 315h3v3h-3zM262 315h3v3h-3zM265 315h3v3h-3zM268 315h3v3h-3zM271 315h3v3h-3zM274 315h3v3h-3zM277 315h3v3h-3zM229 318h3v3h-3zM232 318h3v3h-3zM235 318h3v3h-3zM238 318h3v3h-3zM241 318h3v3h-3zM244 318h3v3h-3zM247 318h3v3h-3zM250 318h3v3h-3zM253 318h3v3h-3zM256 318h3v3h-3zM259 318h3v3h-3zM262 318h3v3h-3zM265 318h3v3h-3zM268 318h3v3h-3zM271 318h3v3h-3zM274 318h3v3h-3zM277 318h3v3h-3zM229 321h3v3h-3zM232 321h3v3h-3zM235 321h3v3h-3zM238 321h3v3h-3zM241 321h3v3h-3zM244 321h3v3h-3zM247 321h3v3h-3zM250 321h3v3h-3zM253 321h3v3h-3zM256 321h3v3h-3zM259 321h3v3h-3zM262 321h3v3h-3zM265 321h3v3h-3zM268 321h3v3h-3zM271 321h3v3h-3zM274 321h3v3h-3zM277 321h3v3h-3zM229 324h3v3h-3zM232 324h3v3h-3zM235 324h3v3h-3zM238 324h3v3h-3zM241 324h3v3h-3zM244 324h3v3h-3zM247 324h3v3h-3zM250 324h3v3h-3zM253 324h3v3h-3zM256 324h3v3h-3zM259 324h3v3h-3zM262 324h3v3h-3zM265 324h3v3h-3zM268 324h3v3h-3zM271 324h3v3h-3zM274 324h3v3h-3zM277 324h3v3h-3zM229 327h3v3h-3zM232 327h3v3h-3zM235 327h3v3h-3zM238 327h3v3h-3zM241 327h3v3h-3zM244 327h3v3h-3zM247 327h3v3h-3zM250 327h3v3h-3zM253 327h3v3h-3zM256 327h3v3h-3zM259 327h3v3h-3zM262 327h3v3h-3zM265 327h3v3h-3zM268 327h3v3h-3zM271 327h3v3h-3zM274 327h3v3h-3zM277 327h3v3h-3zM226 330h3v3h-3zM229 330h3v3h-3zM232 330h3v3h-3zM235 330h3v3h-3zM238 330h3v3h-3zM241 330h3v3h-3zM244 330h3v3h-3zM247 330h3v3h-3zM250 330h3v3h-3zM253 330h3v3h-3zM256 330h3v3h-3zM259 330h3v3h-3zM262 330h3v3h-3zM265 330h3v3h-3zM268 330h3v3h-3zM271 330h3v3h-3zM274 330h3v3h-3zM277 330h3v3h-3zM226 333h3v3h-3zM229 333h3v3h-3zM232 333h3v3h-3zM235 333h3v3h-3zM238 333h3v3h-3zM241 333h3v3h-3zM244 333h3v3h-3zM247 333h3v3h-3zM250 333h3v3h-3zM253 333h3v3h-3zM256 333h3v3h-3zM259 333h3v3h-3zM262 333h3v3h-3zM265 333h3v3h-3zM268 333h3v3h-3zM271 333h3v3h-3zM274 333h3v3h-3zM277 333h3v3h-3zM223 336h3v3h-3zM226 336h3v3h-3zM229 336h3v3h-3zM232 336h3v3h-3zM220 339h3v3h-3zM223 339h3v3h-3zM217 342h3v3h-3zM211 345h3v3h-3zM208 348h3v3h-3zM202 357h3v3h-3zM151 378h3v3h-3zM142 408h3v3h-3zM139 429h3v3h-3z"/>
<path fill="#454545" d="M235 336h3v3h-3zM238 336h3v3h-3zM241 336h3v3h-3zM244 336h3v3h-3zM247 336h3v3h-3zM250 336h3v3h-3zM253 336h3v3h-3zM256 336h3v3h-3zM259 336h3v3h-3zM262 336h3v3h-3zM265 336h3v3h-3zM268 336h3v3h-3zM271 336h3v3h-3zM274 336h3v3h-3zM277 336h3v3h-3zM226 339h3v3h-3zM229 339h3v3h-3zM232 339h3v3h-3zM235 339h3v3h-3zM238 339h3v3h-3zM241 339h3v3h-3zM220 342h3v3h-3zM214 345h3v3h-3zM169 369h3v3h-3zM145 390h3v3h-3zM139 432h3v3h-3z"/>
<path fill="#464646" d="M76 336h3v3h-3zM244 339h3v3h-3zM247 339h3v3h-3zM250 339h3v3h-3zM253 339h3v3h-3zM256 339h3v3h-3zM259 339h3v3h-3zM262 339h3v3h-3zM265 339h3v3h-3zM268 339h3v3h-3zM271 339h3v3h-3zM274 339h3v3h-3zM277 339h3v3h-3zM223 342h3v3h-3zM226 342h3v3h-3zM229 342h3v3h-3zM232 342h3v3h-3zM217 345h3v3h-3zM211 348h3v3h-3zM208 351h3v3h-3zM205 354h3v3h-3zM202 360h3v3h-3zM142 411h3v3h-3zM139 435h3v3h-3z"/>
<path fill="#474747" d="M235 342h3v3h-3zM238 342h3v3h-3zM241 342h3v3h-3zM244 342h3v3h-3zM247 342h3v3h-3zM250 342h3v3h-3zM253 342h3v3h-3zM256 342h3v3h-3zM259 342h3v3h-3zM262 342h3v3h-3zM265 342h3v3h-3zM268 342h3v3h-3zM271 342h3v3h-3zM274 342h3v3h-3zM277 342h3v3h-3zM220 345h3v3h-3zM223 345h3v3h-3zM214 348h3v3h-3zM202 363h3v3h-3zM196 366h3v3h-3zM145 393h3v3h-3zM142 414h3v3h-3zM139 438h3v3h-3z"/>
<path fill="#484848" d="M226 345h3v3h-3zM229 345h3v3h-3zM232 345h3v3h-3zM235 345h3v3h-3zM238 345h3v3h-3zM241 345h3v3h-3zM217 348h3v3h-3zM211 351h3v3h-3zM205 357h3v3h-3zM148 384h3v3h-3zM145 396h3v3h-3zM142 417h3v3h-3zM139 441h3v3h-3zM139 444h3v3h-3z"/>
<path fill="#494949" d="M244 345h3v3h-3zM247 345h3v3h-3zM250 345h3v3h-3zM253 345h3v3h-3zM256 345h3v3h-3zM259 345h3v3h-3zM262 345h3v3h-3zM265 345h3v3h-3zM268 345h3v3h-3zM271 345h3v3h-3zM274 345h3v3h-3zM277 345h3v3h-3zM220 348h3v3h-3zM208 354h3v3h-3zM145 399h3v3h-3zM142 420h3v3h-3zM139 447h3v3h-3zM139 453h3v3h-3zM139 456h3v3h-3z"/>
<path fill="#4a4a4a" d="M223 348h3v3h-3zM226 348h3v3h-3zM229 348h3v3h-3zM214 351h3v3h-3zM205 360h3v3h-3zM157 375h3v3h-3zM145 402h3v3h-3zM142 423h3v3h-3zM139 450h3v3h-3zM139 459h3v3h-3zM139 462h3v3h-3z"/>
<path fill="#4b4b4b" d="M232 348h3v3h-3zM235 348h3v3h-3zM238 348h3v3h-3zM241 348h3v3h-3zM244 348h3v3h-3zM247 348h3v3h-3zM250 348h3v3h-3zM253 348h3v3h-3zM256 348h3v3h-3zM259 348h3v3h-3zM262 348h3v3h-3zM265 348h3v3h-3zM268 348h3v3h-3zM271 348h3v3h-3zM274 348h3v3h-3zM277 348h3v3h-3zM217 351h3v3h-3zM211 354h3v3h-3zM208 357h3v3h-3zM205 363h3v3h-3zM199 366h3v3h-3zM163 372h3v3h-3zM151 381h3v3h-3zM148 387h3v3h-3zM145 405h3v3h-3zM142 426h3v3h-3zM139 465h3v3h-3zM139 468h3v3h-3zM139 471h3v3h-3z"/>
<path fill="#4c4c4c" d="M76 279h3v3h-3zM220 351h3v3h-3zM172 369h3v3h-3zM154 378h3v3h-3zM142 429h3v3h-3z"/>
<path fill="#4d4d4d" d="M223 351h3v3h-3zM226 351h3v3h-3zM229 351h3v3h-3zM214 354h3v3h-3zM208 360h3v3h-3zM148 390h3v3h-3zM145 408h3v3h-3zM142 432h3v3h-3z"/>
<path fill="#4e4e4e" d="M232 351h3v3h-3zM235 351h3v3h-3zM238 351h3v3h-3zM241 351h3v3h-3zM244 351h3v3h-3zM247 351h3v3h-3zM250 351h3v3h-3zM253 351h3v3h-3zM256 351h3v3h-3zM259 351h3v3h-3zM262 351h3v3h-3zM217 354h3v3h-3zM211 357h3v3h-3zM202 366h3v3h-3zM145 411h3v3h-3zM142 435h3v3h-3z"/>
<path fill="#4f4f4f" d="M265 351h3v3h-3zM268 351h3v3h-3zM271 351h3v3h-3zM274 351h3v3h-3zM277 351h3v3h-3zM220 354h3v3h-3zM208 363h3v3h-3zM148 393h3v3h-3zM145 414h3v3h-3zM142 438h3v3h-3z"/>
<path fill="#505050" d="M223 354h3v3h-3zM214 357h3v3h-3zM211 360h3v3h-3zM151 384h3v3h-3zM148 396h3v3h-3zM145 417h3v3h-3zM142 441h3v3h-3z"/>
<path fill="#515151" d="M226 354h3v3h-3zM229 354h3v3h-3zM232 354h3v3h-3zM217 357h3v3h-3zM205 366h3v3h-3zM148 399h3v3h-3zM145 420h3v3h-3zM142 444h3v3h-3zM142 456h3v3h-3zM142 459h3v3h-3z"/>
<path fill="#525252" d="M76 282h3v3h-3zM76 333h3v3h-3zM64 339h3v3h-3zM235 354h3v3h-3zM238 354h3v3h-3zM241 354h3v3h-3zM244 354h3v3h-3zM247 354h3v3h-3zM250 354h3v3h-3zM253 354h3v3h-3zM256 354h3v3h-3zM259 354h3v3h-3zM262 354h3v3h-3zM265 354h3v3h-3zM268 354h3v3h-3zM271 354h3v3h-3zM274 354h3v3h-3zM277 354h3v3h-3zM211 363h3v3h-3zM148 402h3v3h-3zM142 447h3v3h-3zM142 453h3v3h-3zM142 462h3v3h-3z"/>
<path fill="#535353" d="M76 285h3v3h-3zM76 288h3v3h-3zM76 291h3v3h-3zM76 294h3v3h-3zM76 297h3v3h-3zM76 300h3v3h-3zM76 303h3v3h-3zM76 306h3v3h-3zM76 309h3v3h-3zM76 312h3v3h-3zM76 315h3v3h-3zM76 318h3v3h-3zM76 321h3v3h-3zM76 324h3v3h-3zM76 327h3v3h-3zM76 330h3v3h-3zM220 357h3v3h-3zM214 360h3v3h-3zM160 375h3v3h-3zM151 387h3v3h-3zM145 423h3v3h-3zM142 450h3v3h-3zM142 465h3v3h-3zM142 468h3v3h-3zM142 471h3v3h-3z"/>
<path fill="#545454" d="M223 357h3v3h-3zM226 357h3v3h-3zM217 360h3v3h-3zM214 363h3v3h-3zM208 366h3v3h-3zM175 369h3v3h-3zM154 381h3v3h-3zM148 405h3v3h-3zM145 426h3v3h-3z"/>
<path fill="#555555" d="M229 357h3v3h-3zM232 357h3v3h-3zM166 372h3v3h-3zM157 378h3v3h-3zM151 390h3v3h-3zM148 408h3v3h-3zM145 429h3v3h-3z"/>
<path fill="#565656" d="M235 357h3v3h-3zM238 357h3v3h-3zM241 357h3v3h-3zM244 357h3v3h-3zM247 357h3v3h-3zM250 357h3v3h-3zM253 357h3v3h-3zM256 357h3v3h-3zM259 357h3v3h-3zM262 357h3v3h-3zM265 357h3v3h-3zM268 357h3v3h-3zM271 357h3v3h-3zM274 357h3v3h-3zM277 357h3v3h-3zM220 360h3v3h-3zM217 363h3v3h-3zM211 366h3v3h-3zM148 411h3v3h-3zM145 432h3v3h-3z"/>
<path fill="#575757" d="M223 360h3v3h-3zM220 363h3v3h-3zM151 393h3v3h-3zM148 414h3v3h-3zM145 435h3v3h-3z"/>
<path fill="#585858" d="M226 360h3v3h-3zM229 360h3v3h-3zM223 363h3v3h-3zM214 366h3v3h-3zM154 384h3v3h-3zM151 396h3v3h-3zM145 438h3v3h-3z"/>
<path fill="#595959" d="M232 360h3v3h-3zM235 360h3v3h-3zM238 360h3v3h-3zM241 360h3v3h-3zM244 360h3v3h-3zM247 360h3v3h-3zM226 363h3v3h-3zM151 399h3v3h-3zM148 417h3v3h-3zM145 441h3v3h-3zM145 456h3v3h-3zM145 459h3v3h-3z"/>
<path fill="#5a5a5a" d="M250 360h3v3h-3zM253 360h3v3h-3zM256 360h3v3h-3zM259 360h3v3h-3zM262 360h3v3h-3zM265 360h3v3h-3zM268 360h3v3h-3zM271 360h3v3h-3zM274 360h3v3h-3zM277 360h3v3h-3zM229 363h3v3h-3zM232 363h3v3h-3zM217 366h3v3h-3zM148 420h3v3h-3zM145 444h3v3h-3zM145 453h3v3h-3zM145 462h3v3h-3zM145 465h3v3h-3zM145 468h3v3h-3zM145 471h3v3h-3z"/>
<path fill="#5b5b5b" d="M67 339h3v3h-3zM235 363h3v3h-3zM238 363h3v3h-3zM241 363h3v3h-3zM244 363h3v3h-3zM247 363h3v3h-3zM250 363h3v3h-3zM253 363h3v3h-3zM256 363h3v3h-3zM259 363h3v3h-3zM262 363h3v3h-3zM265 363h3v3h-3zM268 363h3v3h-3zM271 363h3v3h-3zM274 363h3v3h-3zM277 363h3v3h-3zM220 366h3v3h-3zM154 387h3v3h-3zM151 402h3v3h-3zM148 423h3v3h-3zM145 447h3v3h-3z"/>
<path fill="#5c5c5c" d="M223 366h3v3h-3zM178 369h3v3h-3zM151 405h3v3h-3zM145 450h3v3h-3z"/>
<path fill="#5d5d5d" d="M226 366h3v3h-3zM229 366h3v3h-3zM163 375h3v3h-3zM157 381h3v3h-3zM154 390h3v3h-3zM151 408h3v3h-3zM148 426h3v3h-3z"/>
<path fill="#5e5e5e" d="M232 366h3v3h-3zM235 366h3v3h-3zM169 372h3v3h-3zM148 429h3v3h-3z"/>
<path fill="#5f5f5f" d="M238 366h3v3h-3zM241 366h3v3h-3zM244 366h3v3h-3zM247 366h3v3h-3zM250 366h3v3h-3zM253 366h3v3h-3zM256 366h3v3h-3zM259 366h3v3h-3zM160 378h3v3h-3zM154 393h3v3h-3zM151 411h3v3h-3zM148 432h3v3h-3z"/>
<path fill="#606060" d="M262 366h3v3h-3zM265 366h3v3h-3zM268 366h3v3h-3zM271 366h3v3h-3zM274 366h3v3h-3zM277 366h3v3h-3zM154 396h3v3h-3zM151 414h3v3h-3zM148 435h3v3h-3z"/>
<path fill="#616161" d="M73 336h3v3h-3zM157 384h3v3h-3zM154 399h3v3h-3zM151 417h3v3h-3zM148 456h3v3h-3zM148 459h3v3h-3z"/>
<path fill="#626262" d="M148 438h3v3h-3zM148 462h3v3h-3zM148 465h3v3h-3zM148 468h3v3h-3zM148 471h3v3h-3z"/>
<path fill="#636363" d="M154 402h3v3h-3zM151 420h3v3h-3zM148 441h3v3h-3zM148 453h3v3h-3z"/>
<path fill="#646464" d="M64 279h3v3h-3zM157 387h3v3h-3zM154 405h3v3h-3zM151 423h3v3h-3zM148 444h3v3h-3zM148 447h3v3h-3z"/>
<path fill="#656565" d="M73 279h3v3h-3zM181 369h3v3h-3zM160 381h3v3h-3zM157 390h3v3h-3zM154 408h3v3h-3zM148 450h3v3h-3z"/>
<path fill="#666666" d="M166 375h3v3h-3zM151 426h3v3h-3z"/>
<path fill="#676767" d="M157 393h3v3h-3zM154 411h3v3h-3zM151 429h3v3h-3z"/>
<path fill="#686868" d="M172 372h3v3h-3zM163 378h3v3h-3zM157 396h3v3h-3zM154 414h3v3h-3zM151 432h3v3h-3zM151 456h3v3h-3z"/>
<path fill="#696969" d="M160 384h3v3h-3zM157 399h3v3h-3zM151 459h3v3h-3zM151 462h3v3h-3z"/>
<path fill="#6a6a6a" d="M157 402h3v3h-3zM154 417h3v3h-3zM151 435h3v3h-3zM151 465h3v3h-3zM151 468h3v3h-3zM151 471h3v3h-3z"/>
<path fill="#6b6b6b" d="M160 387h3v3h-3zM154 420h3v3h-3zM151 438h3v3h-3zM151 453h3v3h-3z"/>
<path fill="#6c6c6c" d="M157 405h3v3h-3zM151 441h3v3h-3z"/>
<path fill="#6d6d6d" d="M184 369h3v3h-3zM163 381h3v3h-3zM160 390h3v3h-3zM157 408h3v3h-3zM154 423h3v3h-3zM151 444h3v3h-3z"/>
<path fill="#6e6e6e" d="M160 393h3v3h-3zM154 426h3v3h-3zM151 447h3v3h-3zM151 450h3v3h-3z"/>
<path fill="#6f6f6f" d="M169 375h3v3h-3zM160 396h3v3h-3zM157 411h3v3h-3zM154 456h3v3h-3zM154 459h3v3h-3z"/>
<path fill="#707070" d="M166 378h3v3h-3zM163 384h3v3h-3zM160 399h3v3h-3zM157 414h3v3h-3zM154 429h3v3h-3zM154 462h3v3h-3zM154 465h3v3h-3zM154 468h3v3h-3zM154 471h3v3h-3z"/>
<path fill="#717171" d="M175 372h3v3h-3zM160 402h3v3h-3zM154 432h3v3h-3z"/>
<path fill="#727272" d="M73 333h3v3h-3zM163 387h3v3h-3zM157 417h3v3h-3z"/>
<path fill="#737373" d="M73 282h3v3h-3zM163 390h3v3h-3zM160 405h3v3h-3zM157 420h3v3h-3zM154 435h3v3h-3zM154 453h3v3h-3z"/>
<path fill="#747474" d="M73 330h3v3h-3zM166 381h3v3h-3zM163 393h3v3h-3zM160 408h3v3h-3zM154 438h3v3h-3zM157 456h3v3h-3z"/>
<path fill="#757575" d="M73 285h3v3h-3zM73 288h3v3h-3zM73 291h3v3h-3zM73 294h3v3h-3zM73 297h3v3h-3zM73 300h3v3h-3zM73 303h3v3h-3zM73 306h3v3h-3zM73 309h3v3h-3zM73 312h3v3h-3zM73 315h3v3h-3zM73 318h3v3h-3zM73 321h3v3h-3zM73 324h3v3h-3zM73 327h3v3h-3zM163 396h3v3h-3zM157 423h3v3h-3zM154 441h3v3h-3zM157 459h3v3h-3zM157 462h3v3h-3z"/>
<path fill="#767676" d="M187 369h3v3h-3zM172 375h3v3h-3zM169 378h3v3h-3zM166 384h3v3h-3zM163 399h3v3h-3zM160 411h3v3h-3zM154 444h3v3h-3zM157 465h3v3h-3zM157 468h3v3h-3zM157 471h3v3h-3z"/>
<path fill="#777777" d="M166 387h3v3h-3zM163 402h3v3h-3zM160 414h3v3h-3zM157 426h3v3h-3zM154 447h3v3h-3zM154 450h3v3h-3z"/>
<path fill="#787878" d="M70 279h3v3h-3zM178 372h3v3h-3zM166 390h3v3h-3zM157 429h3v3h-3z"/>
<path fill="#797979" d="M169 381h3v3h-3zM166 393h3v3h-3zM163 405h3v3h-3zM160 417h3v3h-3zM160 456h3v3h-3zM160 459h3v3h-3z"/>
<path fill="#7a7a7a" d="M169 384h3v3h-3zM166 396h3v3h-3zM163 408h3v3h-3zM157 432h3v3h-3zM157 453h3v3h-3zM160 462h3v3h-3zM160 465h3v3h-3zM160 468h3v3h-3zM160 471h3v3h-3z"/>
<path fill="#7b7b7b" d="M172 378h3v3h-3zM169 387h3v3h-3zM166 399h3v3h-3zM160 420h3v3h-3zM157 435h3v3h-3z"/>
<path fill="#7c7c7c" d="M175 375h3v3h-3zM169 390h3v3h-3zM166 402h3v3h-3zM163 411h3v3h-3zM157 438h3v3h-3z"/>
<path fill="#7d7d7d" d="M190 369h3v3h-3zM172 381h3v3h-3zM169 393h3v3h-3zM160 423h3v3h-3zM163 456h3v3h-3zM163 459h3v3h-3zM163 462h3v3h-3zM163 465h3v3h-3zM163 468h3v3h-3zM163 471h3v3h-3z"/>
<path fill="#7e7e7e" d="M172 384h3v3h-3zM169 396h3v3h-3zM166 405h3v3h-3zM163 414h3v3h-3zM160 426h3v3h-3zM157 441h3v3h-3zM157 444h3v3h-3z"/>
<path fill="#7f7f7f" d="M67 279h3v3h-3zM181 372h3v3h-3zM175 378h3v3h-3zM172 387h3v3h-3zM172 390h3v3h-3zM169 399h3v3h-3zM163 417h3v3h-3zM157 447h3v3h-3zM157 450h3v3h-3z"/>
<path fill="#808080" d="M178 375h3v3h-3zM175 381h3v3h-3zM172 393h3v3h-3zM166 408h3v3h-3zM160 429h3v3h-3zM160 453h3v3h-3zM166 456h3v3h-3zM166 459h3v3h-3zM166 462h3v3h-3zM166 465h3v3h-3zM166 468h3v3h-3zM166 471h3v3h-3z"/>
<path fill="#818181" d="M178 378h3v3h-3zM175 384h3v3h-3zM175 387h3v3h-3zM172 396h3v3h-3zM169 402h3v3h-3zM166 411h3v3h-3zM163 420h3v3h-3z"/>
<path fill="#828282" d="M70 336h3v3h-3zM181 375h3v3h-3zM178 381h3v3h-3zM175 390h3v3h-3zM169 405h3v3h-3zM160 432h3v3h-3zM169 456h3v3h-3zM169 459h3v3h-3zM169 462h3v3h-3zM169 465h3v3h-3zM169 468h3v3h-3zM169 471h3v3h-3z"/>
<path fill="#838383" d="M184 372h3v3h-3zM181 378h3v3h-3zM178 384h3v3h-3zM178 387h3v3h-3zM175 393h3v3h-3zM172 399h3v3h-3zM166 414h3v3h-3zM163 423h3v3h-3zM160 435h3v3h-3zM172 459h3v3h-3zM172 462h3v3h-3zM172 465h3v3h-3zM172 468h3v3h-3zM172 471h3v3h-3z"/>
<path fill="#848484" d="M193 369h3v3h-3zM184 375h3v3h-3zM181 381h3v3h-3zM181 384h3v3h-3zM178 390h3v3h-3zM175 396h3v3h-3zM172 402h3v3h-3zM169 408h3v3h-3zM160 438h3v3h-3zM172 456h3v3h-3z"/>
<path fill="#858585" d="M184 378h3v3h-3zM184 381h3v3h-3zM181 387h3v3h-3zM178 393h3v3h-3zM175 399h3v3h-3zM166 417h3v3h-3zM163 426h3v3h-3zM160 441h3v3h-3zM163 453h3v3h-3zM175 456h3v3h-3zM175 459h3v3h-3zM175 462h3v3h-3zM175 465h3v3h-3zM175 468h3v3h-3zM175 471h3v3h-3z"/>
<path fill="#868686" d="M187 375h3v3h-3zM187 378h3v3h-3zM184 384h3v3h-3zM181 390h3v3h-3zM178 396h3v3h-3zM172 405h3v3h-3zM169 411h3v3h-3zM160 444h3v3h-3zM178 456h3v3h-3zM178 459h3v3h-3zM178 462h3v3h-3zM178 465h3v3h-3zM178 468h3v3h-3zM178 471h3v3h-3z"/>
<path fill="#878787" d="M187 372h3v3h-3zM190 375h3v3h-3zM190 378h3v3h-3zM187 381h3v3h-3zM187 384h3v3h-3zM184 387h3v3h-3zM181 393h3v3h-3zM175 402h3v3h-3zM172 408h3v3h-3zM166 420h3v3h-3zM163 429h3v3h-3zM160 447h3v3h-3zM160 450h3v3h-3zM181 456h3v3h-3zM181 459h3v3h-3zM184 459h3v3h-3zM181 462h3v3h-3zM184 462h3v3h-3zM181 465h3v3h-3zM184 465h3v3h-3zM181 468h3v3h-3zM184 468h3v3h-3zM181 471h3v3h-3zM184 471h3v3h-3z"/>
<path fill="#888888" d="M193 375h3v3h-3zM193 378h3v3h-3zM190 381h3v3h-3zM187 387h3v3h-3zM184 390h3v3h-3zM181 396h3v3h-3zM178 399h3v3h-3zM169 414h3v3h-3zM184 456h3v3h-3zM187 456h3v3h-3zM187 459h3v3h-3zM187 462h3v3h-3zM187 465h3v3h-3zM187 468h3v3h-3zM187 471h3v3h-3z"/>
<path fill="#898989" d="M190 372h3v3h-3zM193 381h3v3h-3zM190 384h3v3h-3zM190 387h3v3h-3zM187 390h3v3h-3zM184 393h3v3h-3zM178 402h3v3h-3zM175 405h3v3h-3zM166 423h3v3h-3zM163 432h3v3h-3zM166 453h3v3h-3zM190 456h3v3h-3zM190 459h3v3h-3zM193 459h3v3h-3zM190 462h3v3h-3zM193 462h3v3h-3zM190 465h3v3h-3zM193 465h3v3h-3zM190 468h3v3h-3zM193 468h3v3h-3zM190 471h3v3h-3zM193 471h3v3h-3z"/>
<path fill="#8a8a8a" d="M196 369h3v3h-3zM196 375h3v3h-3zM196 378h3v3h-3zM196 381h3v3h-3zM193 384h3v3h-3zM190 390h3v3h-3zM187 393h3v3h-3zM184 396h3v3h-3zM181 399h3v3h-3zM172 411h3v3h-3zM169 417h3v3h-3zM163 435h3v3h-3zM193 456h3v3h-3zM196 456h3v3h-3zM196 459h3v3h-3zM199 459h3v3h-3zM202 459h3v3h-3zM196 462h3v3h-3zM199 462h3v3h-3zM202 462h3v3h-3zM196 465h3v3h-3zM199 465h3v3h-3zM202 465h3v3h-3zM196 468h3v3h-3zM199 468h3v3h-3zM202 468h3v3h-3zM196 471h3v3h-3zM199 471h3v3h-3zM202 471h3v3h-3z"/>
<path fill="#8b8b8b" d="M199 375h3v3h-3zM199 378h3v3h-3zM196 384h3v3h-3zM193 387h3v3h-3zM178 405h3v3h-3zM175 408h3v3h-3zM166 426h3v3h-3zM163 438h3v3h-3zM199 456h3v3h-3zM202 456h3v3h-3zM205 459h3v3h-3zM208 459h3v3h-3zM211 459h3v3h-3zM205 462h3v3h-3zM208 462h3v3h-3zM211 462h3v3h-3zM205 465h3v3h-3zM208 465h3v3h-3zM211 465h3v3h-3zM205 468h3v3h-3zM208 468h3v3h-3zM211 468h3v3h-3zM205 471h3v3h-3zM208 471h3v3h-3zM211 471h3v3h-3z"/>
<path fill="#8c8c8c" d="M193 372h3v3h-3zM202 375h3v3h-3zM202 378h3v3h-3zM199 381h3v3h-3zM196 387h3v3h-3zM193 390h3v3h-3zM190 393h3v3h-3zM187 396h3v3h-3zM184 399h3v3h-3zM181 402h3v3h-3zM172 414h3v3h-3zM169 420h3v3h-3zM205 456h3v3h-3zM208 456h3v3h-3zM211 456h3v3h-3zM214 459h3v3h-3zM217 459h3v3h-3zM220 459h3v3h-3zM223 459h3v3h-3zM226 459h3v3h-3zM214 462h3v3h-3zM217 462h3v3h-3zM220 462h3v3h-3zM223 462h3v3h-3zM226 462h3v3h-3zM214 465h3v3h-3zM217 465h3v3h-3zM220 465h3v3h-3zM223 465h3v3h-3zM226 465h3v3h-3zM214 468h3v3h-3zM217 468h3v3h-3zM220 468h3v3h-3zM223 468h3v3h-3zM226 468h3v3h-3zM214 471h3v3h-3zM217 471h3v3h-3zM220 471h3v3h-3zM223 471h3v3h-3zM226 471h3v3h-3z"/>
<path fill="#8d8d8d" d="M202 381h3v3h-3zM199 384h3v3h-3zM196 390h3v3h-3zM193 393h3v3h-3zM190 396h3v3h-3zM187 399h3v3h-3zM175 411h3v3h-3zM166 429h3v3h-3zM163 441h3v3h-3zM163 444h3v3h-3zM214 456h3v3h-3zM217 456h3v3h-3zM220 456h3v3h-3zM223 456h3v3h-3zM229 459h3v3h-3zM232 459h3v3h-3zM235 459h3v3h-3zM238 459h3v3h-3zM241 459h3v3h-3zM244 459h3v3h-3zM247 459h3v3h-3zM250 459h3v3h-3zM253 459h3v3h-3zM256 459h3v3h-3zM259 459h3v3h-3zM262 459h3v3h-3zM265 459h3v3h-3zM268 459h3v3h-3zM271 459h3v3h-3zM274 459h3v3h-3zM277 459h3v3h-3zM229 462h3v3h-3zM232 462h3v3h-3zM235 462h3v3h-3zM238 462h3v3h-3zM241 462h3v3h-3zM244 462h3v3h-3zM247 462h3v3h-3zM250 462h3v3h-3zM253 462h3v3h-3zM256 462h3v3h-3zM259 462h3v3h-3zM262 462h3v3h-3zM265 462h3v3h-3zM268 462h3v3h-3zM271 462h3v3h-3zM274 462h3v3h-3zM277 462h3v3h-3zM229 465h3v3h-3zM232 465h3v3h-3zM235 465h3v3h-3zM238 465h3v3h-3zM241 465h3v3h-3zM244 465h3v3h-3zM247 465h3v3h-3zM250 465h3v3h-3zM253 465h3v3h-3zM256 465h3v3h-3zM259 465h3v3h-3zM262 465h3v3h-3zM265 465h3v3h-3zM268 465h3v3h-3zM271 465h3v3h-3zM274 465h3v3h-3zM277 465h3v3h-3zM229 468h3v3h-3zM232 468h3v3h-3zM235 468h3v3h-3zM238 468h3v3h-3zM241 468h3v3h-3zM244 468h3v3h-3zM247 468h3v3h-3zM250 468h3v3h-3zM253 468h3v3h-3zM256 468h3v3h-3zM259 468h3v3h-3zM262 468h3v3h-3zM265 468h3v3h-3zM268 468h3v3h-3zM271 468h3v3h-3zM274 468h3v3h-3zM277 468h3v3h-3zM229 471h3v3h-3zM232 471h3v3h-3zM235 471h3v3h-3zM238 471h3v3h-3zM241 471h3v3h-3zM244 471h3v3h-3zM247 471h3v3h-3zM250 471h3v3h-3zM253 471h3v3h-3zM256 471h3v3h-3zM259 471h3v3h-3zM262 471h3v3h-3zM265 471h3v3h-3zM268 471h3v3h-3zM271 471h3v3h-3zM274 471h3v3h-3zM277 471h3v3h-3z"/>
<path fill="#8e8e8e" d="M196 372h3v3h-3zM205 375h3v3h-3zM205 378h3v3h-3zM202 384h3v3h-3zM199 387h3v3h-3zM184 402h3v3h-3zM181 405h3v3h-3zM178 408h3v3h-3zM172 417h3v3h-3zM169 423h3v3h-3zM163 447h3v3h-3zM163 450h3v3h-3zM169 453h3v3h-3zM226 456h3v3h-3zM229 456h3v3h-3zM232 456h3v3h-3zM235 456h3v3h-3zM238 456h3v3h-3zM241 456h3v3h-3zM244 456h3v3h-3zM247 456h3v3h-3zM250 456h3v3h-3zM253 456h3v3h-3zM256 456h3v3h-3zM259 456h3v3h-3zM262 456h3v3h-3zM265 456h3v3h-3zM268 456h3v3h-3zM271 456h3v3h-3zM274 456h3v3h-3zM277 456h3v3h-3z"/>
<path fill="#8f8f8f" d="M199 369h3v3h-3zM199 372h3v3h-3zM208 375h3v3h-3zM208 378h3v3h-3zM205 381h3v3h-3zM202 387h3v3h-3zM199 390h3v3h-3zM196 393h3v3h-3zM193 396h3v3h-3zM190 399h3v3h-3zM166 432h3v3h-3z"/>
<path fill="#909090" d="M208 381h3v3h-3zM205 384h3v3h-3zM202 390h3v3h-3zM199 393h3v3h-3zM196 396h3v3h-3zM187 402h3v3h-3zM184 405h3v3h-3zM181 408h3v3h-3zM178 411h3v3h-3zM175 414h3v3h-3z"/>
<path fill="#919191" d="M202 372h3v3h-3zM211 375h3v3h-3zM211 378h3v3h-3zM208 384h3v3h-3zM205 387h3v3h-3zM193 399h3v3h-3zM172 420h3v3h-3zM169 426h3v3h-3zM166 435h3v3h-3zM172 453h3v3h-3z"/>
<path fill="#929292" d="M214 375h3v3h-3zM211 381h3v3h-3zM208 387h3v3h-3zM205 390h3v3h-3zM202 393h3v3h-3zM199 396h3v3h-3zM190 402h3v3h-3zM187 405h3v3h-3zM175 417h3v3h-3zM166 438h3v3h-3z"/>
<path fill="#939393" d="M202 369h3v3h-3zM205 372h3v3h-3zM214 378h3v3h-3zM211 384h3v3h-3zM208 390h3v3h-3zM205 393h3v3h-3zM196 399h3v3h-3zM193 402h3v3h-3zM184 408h3v3h-3zM181 411h3v3h-3zM178 414h3v3h-3zM172 423h3v3h-3zM169 429h3v3h-3zM166 441h3v3h-3z"/>
<path fill="#949494" d="M208 372h3v3h-3zM217 375h3v3h-3zM217 378h3v3h-3zM214 381h3v3h-3zM211 387h3v3h-3zM202 396h3v3h-3zM199 399h3v3h-3zM190 405h3v3h-3zM166 444h3v3h-3z"/>
<path fill="#959595" d="M70 282h3v3h-3zM217 381h3v3h-3zM214 384h3v3h-3zM211 390h3v3h-3zM208 393h3v3h-3zM205 396h3v3h-3zM196 402h3v3h-3zM187 408h3v3h-3zM175 420h3v3h-3zM169 432h3v3h-3zM166 447h3v3h-3zM166 450h3v3h-3zM175 453h3v3h-3z"/>
<path fill="#969696" d="M205 369h3v3h-3zM211 372h3v3h-3zM220 375h3v3h-3zM220 378h3v3h-3zM217 384h3v3h-3zM214 387h3v3h-3zM211 393h3v3h-3zM202 399h3v3h-3zM184 411h3v3h-3zM181 414h3v3h-3zM178 417h3v3h-3zM172 426h3v3h-3z"/>
<path fill="#979797" d="M70 333h3v3h-3zM220 381h3v3h-3zM217 387h3v3h-3zM214 390h3v3h-3zM208 396h3v3h-3zM199 402h3v3h-3zM193 405h3v3h-3zM169 435h3v3h-3z"/>
<path fill="#989898" d="M214 372h3v3h-3zM223 375h3v3h-3zM223 378h3v3h-3zM220 384h3v3h-3zM217 390h3v3h-3zM214 393h3v3h-3zM211 396h3v3h-3zM205 399h3v3h-3zM190 408h3v3h-3zM175 423h3v3h-3zM172 429h3v3h-3z"/>
<path fill="#999999" d="M70 285h3v3h-3zM70 330h3v3h-3zM208 369h3v3h-3zM217 372h3v3h-3zM223 381h3v3h-3zM220 387h3v3h-3zM208 399h3v3h-3zM202 402h3v3h-3zM196 405h3v3h-3zM187 411h3v3h-3zM178 420h3v3h-3zM169 438h3v3h-3zM178 453h3v3h-3z"/>
<path fill="#9a9a9a" d="M70 288h3v3h-3zM70 291h3v3h-3zM70 294h3v3h-3zM70 297h3v3h-3zM70 300h3v3h-3zM70 303h3v3h-3zM70 306h3v3h-3zM70 309h3v3h-3zM70 312h3v3h-3zM70 315h3v3h-3zM70 318h3v3h-3zM70 321h3v3h-3zM70 324h3v3h-3zM70 327h3v3h-3zM226 375h3v3h-3zM226 378h3v3h-3zM223 384h3v3h-3zM220 390h3v3h-3zM217 393h3v3h-3zM214 396h3v3h-3zM193 408h3v3h-3zM184 414h3v3h-3zM181 417h3v3h-3zM169 441h3v3h-3z"/>
<path fill="#9b9b9b" d="M220 372h3v3h-3zM229 375h3v3h-3zM226 381h3v3h-3zM223 387h3v3h-3zM220 393h3v3h-3zM217 396h3v3h-3zM211 399h3v3h-3zM205 402h3v3h-3zM199 405h3v3h-3zM175 426h3v3h-3zM172 432h3v3h-3zM169 444h3v3h-3zM169 447h3v3h-3zM169 450h3v3h-3z"/>
<path fill="#9c9c9c" d="M64 291h3v3h-3zM64 294h3v3h-3zM64 309h3v3h-3zM64 336h3v3h-3zM211 369h3v3h-3zM229 378h3v3h-3zM226 384h3v3h-3zM226 387h3v3h-3zM223 390h3v3h-3zM223 393h3v3h-3zM214 399h3v3h-3zM208 402h3v3h-3zM190 411h3v3h-3z"/>
<path fill="#9d9d9d" d="M64 288h3v3h-3zM64 306h3v3h-3zM223 372h3v3h-3zM232 375h3v3h-3zM232 378h3v3h-3zM229 381h3v3h-3zM229 384h3v3h-3zM226 390h3v3h-3zM220 396h3v3h-3zM202 405h3v3h-3zM196 408h3v3h-3zM187 414h3v3h-3zM184 417h3v3h-3zM181 420h3v3h-3zM178 423h3v3h-3zM172 435h3v3h-3zM181 453h3v3h-3zM271 453h3v3h-3zM274 453h3v3h-3zM277 453h3v3h-3z"/>
<path fill="#9e9e9e" d="M64 312h3v3h-3zM214 369h3v3h-3zM232 381h3v3h-3zM229 387h3v3h-3zM229 390h3v3h-3zM226 393h3v3h-3zM223 396h3v3h-3zM217 399h3v3h-3zM211 402h3v3h-3zM205 405h3v3h-3zM271 408h3v3h-3zM274 408h3v3h-3zM277 408h3v3h-3zM193 411h3v3h-3zM271 411h3v3h-3zM274 411h3v3h-3zM277 411h3v3h-3zM175 429h3v3h-3z"/>
<path fill="#9f9f9f" d="M64 321h3v3h-3zM226 372h3v3h-3zM235 375h3v3h-3zM235 378h3v3h-3zM232 384h3v3h-3zM229 393h3v3h-3zM226 396h3v3h-3zM220 399h3v3h-3zM214 402h3v3h-3zM271 402h3v3h-3zM274 402h3v3h-3zM277 402h3v3h-3zM268 405h3v3h-3zM271 405h3v3h-3zM274 405h3v3h-3zM277 405h3v3h-3zM199 408h3v3h-3zM268 408h3v3h-3zM268 411h3v3h-3zM271 414h3v3h-3zM274 414h3v3h-3zM277 414h3v3h-3zM172 438h3v3h-3zM268 453h3v3h-3z"/>
<path fill="#a0a0a0" d="M64 297h3v3h-3zM217 369h3v3h-3zM229 372h3v3h-3zM238 375h3v3h-3zM235 381h3v3h-3zM232 387h3v3h-3zM232 390h3v3h-3zM232 393h3v3h-3zM229 396h3v3h-3zM223 399h3v3h-3zM265 402h3v3h-3zM268 402h3v3h-3zM208 405h3v3h-3zM265 405h3v3h-3zM265 408h3v3h-3zM190 414h3v3h-3zM268 414h3v3h-3zM271 417h3v3h-3zM274 417h3v3h-3zM277 417h3v3h-3zM178 426h3v3h-3zM172 441h3v3h-3zM184 453h3v3h-3z"/>
<path fill="#a1a1a1" d="M241 375h3v3h-3zM238 378h3v3h-3zM235 384h3v3h-3zM235 387h3v3h-3zM235 390h3v3h-3zM235 393h3v3h-3zM232 396h3v3h-3zM226 399h3v3h-3zM265 399h3v3h-3zM268 399h3v3h-3zM271 399h3v3h-3zM274 399h3v3h-3zM277 399h3v3h-3zM217 402h3v3h-3zM262 402h3v3h-3zM262 405h3v3h-3zM202 408h3v3h-3zM262 408h3v3h-3zM196 411h3v3h-3zM265 411h3v3h-3zM187 417h3v3h-3zM268 417h3v3h-3zM184 420h3v3h-3zM181 423h3v3h-3zM175 432h3v3h-3zM172 444h3v3h-3zM172 450h3v3h-3zM265 453h3v3h-3z"/>
<path fill="#a2a2a2" d="M220 369h3v3h-3zM232 372h3v3h-3zM241 378h3v3h-3zM238 381h3v3h-3zM238 384h3v3h-3zM238 387h3v3h-3zM238 390h3v3h-3zM238 393h3v3h-3zM235 396h3v3h-3zM238 396h3v3h-3zM229 399h3v3h-3zM232 399h3v3h-3zM259 399h3v3h-3zM262 399h3v3h-3zM220 402h3v3h-3zM256 402h3v3h-3zM259 402h3v3h-3zM211 405h3v3h-3zM259 405h3v3h-3zM259 408h3v3h-3zM262 411h3v3h-3zM265 414h3v3h-3zM271 420h3v3h-3zM274 420h3v3h-3zM277 420h3v3h-3zM172 447h3v3h-3z"/>
<path fill="#a3a3a3" d="M235 372h3v3h-3zM244 375h3v3h-3zM244 378h3v3h-3zM241 381h3v3h-3zM241 384h3v3h-3zM241 387h3v3h-3zM241 390h3v3h-3zM241 393h3v3h-3zM241 396h3v3h-3zM244 396h3v3h-3zM247 396h3v3h-3zM259 396h3v3h-3zM262 396h3v3h-3zM265 396h3v3h-3zM268 396h3v3h-3zM271 396h3v3h-3zM274 396h3v3h-3zM277 396h3v3h-3zM235 399h3v3h-3zM238 399h3v3h-3zM241 399h3v3h-3zM244 399h3v3h-3zM247 399h3v3h-3zM250 399h3v3h-3zM253 399h3v3h-3zM256 399h3v3h-3zM223 402h3v3h-3zM226 402h3v3h-3zM250 402h3v3h-3zM253 402h3v3h-3zM214 405h3v3h-3zM256 405h3v3h-3zM205 408h3v3h-3zM193 414h3v3h-3zM268 420h3v3h-3zM178 429h3v3h-3zM175 435h3v3h-3z"/>
<path fill="#a4a4a4" d="M64 330h3v3h-3zM223 369h3v3h-3zM247 375h3v3h-3zM247 378h3v3h-3zM244 381h3v3h-3zM244 387h3v3h-3zM244 390h3v3h-3zM244 393h3v3h-3zM247 393h3v3h-3zM250 393h3v3h-3zM250 396h3v3h-3zM253 396h3v3h-3zM256 396h3v3h-3zM229 402h3v3h-3zM232 402h3v3h-3zM244 402h3v3h-3zM247 402h3v3h-3zM253 405h3v3h-3zM256 408h3v3h-3zM199 411h3v3h-3zM259 411h3v3h-3zM262 414h3v3h-3zM265 417h3v3h-3zM271 423h3v3h-3zM274 423h3v3h-3zM277 423h3v3h-3zM187 453h3v3h-3zM262 453h3v3h-3z"/>
<path fill="#a5a5a5" d="M238 372h3v3h-3zM250 375h3v3h-3zM250 378h3v3h-3zM247 381h3v3h-3zM244 384h3v3h-3zM247 387h3v3h-3zM247 390h3v3h-3zM250 390h3v3h-3zM253 393h3v3h-3zM256 393h3v3h-3zM259 393h3v3h-3zM262 393h3v3h-3zM265 393h3v3h-3zM268 393h3v3h-3zM271 393h3v3h-3zM274 393h3v3h-3zM277 393h3v3h-3zM235 402h3v3h-3zM238 402h3v3h-3zM241 402h3v3h-3zM217 405h3v3h-3zM247 405h3v3h-3zM250 405h3v3h-3zM208 408h3v3h-3zM253 408h3v3h-3zM190 417h3v3h-3zM268 423h3v3h-3zM181 426h3v3h-3zM175 438h3v3h-3z"/>
<path fill="#a6a6a6" d="M64 303h3v3h-3zM64 318h3v3h-3zM226 369h3v3h-3zM241 372h3v3h-3zM253 375h3v3h-3zM256 375h3v3h-3zM253 378h3v3h-3zM250 381h3v3h-3zM247 384h3v3h-3zM250 384h3v3h-3zM250 387h3v3h-3zM253 390h3v3h-3zM256 390h3v3h-3zM259 390h3v3h-3zM220 405h3v3h-3zM223 405h3v3h-3zM244 405h3v3h-3zM250 408h3v3h-3zM202 411h3v3h-3zM256 411h3v3h-3zM196 414h3v3h-3zM259 414h3v3h-3zM262 417h3v3h-3zM187 420h3v3h-3zM265 420h3v3h-3zM184 423h3v3h-3zM271 426h3v3h-3zM274 426h3v3h-3zM277 426h3v3h-3zM178 432h3v3h-3z"/>
<path fill="#a7a7a7" d="M229 369h3v3h-3zM244 372h3v3h-3zM259 375h3v3h-3zM262 375h3v3h-3zM256 378h3v3h-3zM259 378h3v3h-3zM253 381h3v3h-3zM253 384h3v3h-3zM253 387h3v3h-3zM256 387h3v3h-3zM262 390h3v3h-3zM265 390h3v3h-3zM268 390h3v3h-3zM271 390h3v3h-3zM274 390h3v3h-3zM277 390h3v3h-3zM226 405h3v3h-3zM229 405h3v3h-3zM235 405h3v3h-3zM238 405h3v3h-3zM241 405h3v3h-3zM211 408h3v3h-3zM253 411h3v3h-3zM268 426h3v3h-3zM175 441h3v3h-3zM259 453h3v3h-3z"/>
<path fill="#a8a8a8" d="M247 372h3v3h-3zM265 375h3v3h-3zM268 375h3v3h-3zM271 375h3v3h-3zM274 375h3v3h-3zM277 375h3v3h-3zM262 378h3v3h-3zM265 378h3v3h-3zM256 381h3v3h-3zM259 381h3v3h-3zM256 384h3v3h-3zM259 384h3v3h-3zM259 387h3v3h-3zM262 387h3v3h-3zM265 387h3v3h-3zM268 387h3v3h-3zM271 387h3v3h-3zM274 387h3v3h-3zM277 387h3v3h-3zM232 405h3v3h-3zM214 408h3v3h-3zM247 408h3v3h-3zM205 411h3v3h-3zM256 414h3v3h-3zM193 417h3v3h-3zM265 423h3v3h-3zM271 429h3v3h-3zM274 429h3v3h-3zM277 429h3v3h-3zM175 444h3v3h-3zM175 447h3v3h-3zM175 450h3v3h-3zM190 453h3v3h-3z"/>
<path fill="#a9a9a9" d="M67 336h3v3h-3zM232 369h3v3h-3zM250 372h3v3h-3zM268 378h3v3h-3zM271 378h3v3h-3zM274 378h3v3h-3zM277 378h3v3h-3zM262 381h3v3h-3zM265 381h3v3h-3zM268 381h3v3h-3zM262 384h3v3h-3zM265 384h3v3h-3zM268 384h3v3h-3zM271 384h3v3h-3zM274 384h3v3h-3zM277 384h3v3h-3zM217 408h3v3h-3zM244 408h3v3h-3zM250 411h3v3h-3zM199 414h3v3h-3zM259 417h3v3h-3zM262 420h3v3h-3zM181 429h3v3h-3zM178 435h3v3h-3z"/>
<path fill="#aaaaaa" d="M235 369h3v3h-3zM253 372h3v3h-3zM271 381h3v3h-3zM274 381h3v3h-3zM277 381h3v3h-3zM220 408h3v3h-3zM241 408h3v3h-3zM253 414h3v3h-3zM190 420h3v3h-3zM187 423h3v3h-3zM184 426h3v3h-3zM268 429h3v3h-3zM271 432h3v3h-3zM274 432h3v3h-3zM277 432h3v3h-3zM256 453h3v3h-3z"/>
<path fill="#ababab" d="M64 315h3v3h-3zM256 372h3v3h-3zM259 372h3v3h-3zM223 408h3v3h-3zM235 408h3v3h-3zM238 408h3v3h-3zM208 411h3v3h-3zM247 411h3v3h-3zM256 417h3v3h-3zM265 426h3v3h-3zM178 438h3v3h-3z"/>
<path fill="#acacac" d="M238 369h3v3h-3zM262 372h3v3h-3zM265 372h3v3h-3zM226 408h3v3h-3zM229 408h3v3h-3zM232 408h3v3h-3zM211 411h3v3h-3zM244 411h3v3h-3zM202 414h3v3h-3zM196 417h3v3h-3zM259 420h3v3h-3zM262 423h3v3h-3zM181 432h3v3h-3zM268 432h3v3h-3zM271 435h3v3h-3zM274 435h3v3h-3zM277 435h3v3h-3zM193 453h3v3h-3z"/>
<path fill="#adadad" d="M64 327h3v3h-3zM241 369h3v3h-3zM268 372h3v3h-3zM271 372h3v3h-3zM274 372h3v3h-3zM277 372h3v3h-3zM250 414h3v3h-3zM271 438h3v3h-3zM274 438h3v3h-3zM277 438h3v3h-3zM178 441h3v3h-3zM253 453h3v3h-3z"/>
<path fill="#aeaeae" d="M244 369h3v3h-3zM214 411h3v3h-3zM241 411h3v3h-3zM205 414h3v3h-3zM253 417h3v3h-3zM193 420h3v3h-3zM184 429h3v3h-3zM265 429h3v3h-3zM268 435h3v3h-3zM178 444h3v3h-3zM178 450h3v3h-3z"/>
<path fill="#afafaf" d="M64 324h3v3h-3zM247 369h3v3h-3zM250 369h3v3h-3zM217 411h3v3h-3zM238 411h3v3h-3zM247 414h3v3h-3zM199 417h3v3h-3zM256 420h3v3h-3zM190 423h3v3h-3zM259 423h3v3h-3zM187 426h3v3h-3zM262 426h3v3h-3zM181 435h3v3h-3zM271 441h3v3h-3zM274 441h3v3h-3zM277 441h3v3h-3zM271 444h3v3h-3zM274 444h3v3h-3zM277 444h3v3h-3zM178 447h3v3h-3zM271 450h3v3h-3zM274 450h3v3h-3zM277 450h3v3h-3zM196 453h3v3h-3z"/>
<path fill="#b0b0b0" d="M64 300h3v3h-3zM253 369h3v3h-3zM220 411h3v3h-3zM235 411h3v3h-3zM265 432h3v3h-3zM268 438h3v3h-3zM271 447h3v3h-3zM274 447h3v3h-3zM277 447h3v3h-3zM250 453h3v3h-3z"/>
<path fill="#b1b1b1" d="M256 369h3v3h-3zM259 369h3v3h-3zM223 411h3v3h-3zM226 411h3v3h-3zM229 411h3v3h-3zM232 411h3v3h-3zM208 414h3v3h-3zM244 414h3v3h-3zM250 417h3v3h-3zM268 441h3v3h-3z"/>
<path fill="#b2b2b2" d="M262 369h3v3h-3zM265 369h3v3h-3zM268 369h3v3h-3zM271 369h3v3h-3zM274 369h3v3h-3zM277 369h3v3h-3zM202 417h3v3h-3zM196 420h3v3h-3zM253 420h3v3h-3zM262 429h3v3h-3zM184 432h3v3h-3zM181 438h3v3h-3zM268 444h3v3h-3zM268 447h3v3h-3zM268 450h3v3h-3z"/>
<path fill="#b3b3b3" d="M64 285h3v3h-3zM211 414h3v3h-3zM241 414h3v3h-3zM247 417h3v3h-3zM193 423h3v3h-3zM256 423h3v3h-3zM259 426h3v3h-3zM265 435h3v3h-3zM199 453h3v3h-3zM247 453h3v3h-3z"/>
<path fill="#b4b4b4" d="M238 414h3v3h-3zM190 426h3v3h-3zM187 429h3v3h-3zM181 441h3v3h-3z"/>
<path fill="#b5b5b5" d="M64 282h3v3h-3zM214 414h3v3h-3zM205 417h3v3h-3zM199 420h3v3h-3zM250 420h3v3h-3zM262 432h3v3h-3zM265 438h3v3h-3zM181 444h3v3h-3zM181 450h3v3h-3z"/>
<path fill="#b6b6b6" d="M217 414h3v3h-3zM235 414h3v3h-3zM244 417h3v3h-3zM184 435h3v3h-3zM181 447h3v3h-3zM202 453h3v3h-3zM244 453h3v3h-3z"/>
<path fill="#b7b7b7" d="M220 414h3v3h-3zM223 414h3v3h-3zM226 414h3v3h-3zM229 414h3v3h-3zM232 414h3v3h-3zM253 423h3v3h-3zM256 426h3v3h-3zM259 429h3v3h-3zM265 441h3v3h-3zM265 450h3v3h-3z"/>
<path fill="#b8b8b8" d="M208 417h3v3h-3zM241 417h3v3h-3zM196 423h3v3h-3zM187 432h3v3h-3zM262 435h3v3h-3zM184 438h3v3h-3zM265 444h3v3h-3zM265 447h3v3h-3z"/>
<path fill="#b9b9b9" d="M67 288h3v3h-3zM67 291h3v3h-3zM67 294h3v3h-3zM67 306h3v3h-3zM67 309h3v3h-3zM202 420h3v3h-3zM247 420h3v3h-3zM193 426h3v3h-3zM190 429h3v3h-3zM205 453h3v3h-3zM241 453h3v3h-3z"/>
<path fill="#bababa" d="M67 312h3v3h-3zM67 321h3v3h-3zM211 417h3v3h-3zM238 417h3v3h-3zM250 423h3v3h-3zM259 432h3v3h-3zM262 438h3v3h-3z"/>
<path fill="#bbbbbb" d="M67 297h3v3h-3zM67 330h3v3h-3zM253 426h3v3h-3zM256 429h3v3h-3zM184 441h3v3h-3z"/>
<path fill="#bcbcbc" d="M67 282h3v3h-3zM64 333h3v3h-3zM214 417h3v3h-3zM235 417h3v3h-3zM205 420h3v3h-3zM244 420h3v3h-3zM199 423h3v3h-3zM187 435h3v3h-3zM262 441h3v3h-3zM184 444h3v3h-3zM184 450h3v3h-3zM208 453h3v3h-3zM238 453h3v3h-3z"/>
<path fill="#bdbdbd" d="M217 417h3v3h-3zM232 417h3v3h-3zM184 447h3v3h-3zM262 450h3v3h-3z"/>
<path fill="#bebebe" d="M220 417h3v3h-3zM229 417h3v3h-3zM241 420h3v3h-3zM247 423h3v3h-3zM196 426h3v3h-3zM190 432h3v3h-3zM259 435h3v3h-3zM262 444h3v3h-3zM262 447h3v3h-3zM211 453h3v3h-3zM235 453h3v3h-3z"/>
<path fill="#bfbfbf" d="M67 303h3v3h-3zM67 318h3v3h-3zM67 327h3v3h-3zM223 417h3v3h-3zM226 417h3v3h-3zM208 420h3v3h-3zM193 429h3v3h-3zM256 432h3v3h-3zM187 438h3v3h-3z"/>
<path fill="#c0c0c0" d="M67 324h3v3h-3zM202 423h3v3h-3zM250 426h3v3h-3zM253 429h3v3h-3zM259 438h3v3h-3zM214 453h3v3h-3zM232 453h3v3h-3z"/>
<path fill="#c1c1c1" d="M67 285h3v3h-3zM238 420h3v3h-3zM217 453h3v3h-3zM229 453h3v3h-3z"/>
<path fill="#c2c2c2" d="M67 315h3v3h-3zM67 333h3v3h-3zM211 420h3v3h-3zM244 423h3v3h-3zM190 435h3v3h-3zM187 441h3v3h-3zM259 441h3v3h-3zM220 453h3v3h-3zM223 453h3v3h-3zM226 453h3v3h-3z"/>
<path fill="#c3c3c3" d="M235 420h3v3h-3zM199 426h3v3h-3zM256 435h3v3h-3zM187 444h3v3h-3zM187 450h3v3h-3zM259 450h3v3h-3z"/>
<path fill="#c4c4c4" d="M214 420h3v3h-3zM205 423h3v3h-3zM247 426h3v3h-3zM196 429h3v3h-3zM193 432h3v3h-3zM259 444h3v3h-3zM187 447h3v3h-3zM259 447h3v3h-3z"/>
<path fill="#c5c5c5" d="M67 300h3v3h-3zM217 420h3v3h-3zM232 420h3v3h-3zM241 423h3v3h-3zM250 429h3v3h-3zM253 432h3v3h-3z"/>
<path fill="#c6c6c6" d="M220 420h3v3h-3zM229 420h3v3h-3zM190 438h3v3h-3zM256 438h3v3h-3z"/>
<path fill="#c7c7c7" d="M223 420h3v3h-3zM226 420h3v3h-3zM208 423h3v3h-3zM202 426h3v3h-3z"/>
<path fill="#c8c8c8" d="M238 423h3v3h-3zM244 426h3v3h-3z"/>
<path fill="#c9c9c9" d="M193 435h3v3h-3zM253 435h3v3h-3zM190 441h3v3h-3zM256 441h3v3h-3z"/>
<path fill="#cacaca" d="M211 423h3v3h-3zM199 429h3v3h-3zM247 429h3v3h-3zM196 432h3v3h-3zM250 432h3v3h-3zM256 444h3v3h-3zM190 450h3v3h-3zM256 450h3v3h-3z"/>
<path fill="#cbcbcb" d="M235 423h3v3h-3zM205 426h3v3h-3zM190 444h3v3h-3zM256 447h3v3h-3z"/>
<path fill="#cccccc" d="M214 423h3v3h-3zM241 426h3v3h-3zM190 447h3v3h-3z"/>
<path fill="#cdcdcd" d="M232 423h3v3h-3zM193 438h3v3h-3zM253 438h3v3h-3z"/>
<path fill="#cecece" d="M217 423h3v3h-3zM229 423h3v3h-3zM202 429h3v3h-3zM244 429h3v3h-3z"/>
<path fill="#cfcfcf" d="M220 423h3v3h-3zM223 423h3v3h-3zM226 423h3v3h-3zM208 426h3v3h-3zM238 426h3v3h-3zM247 432h3v3h-3zM196 435h3v3h-3zM250 435h3v3h-3zM253 441h3v3h-3z"/>
<path fill="#d0d0d0" d="M199 432h3v3h-3zM193 441h3v3h-3z"/>
<path fill="#d1d1d1" d="M253 444h3v3h-3zM253 450h3v3h-3z"/>
<path fill="#d2d2d2" d="M211 426h3v3h-3zM235 426h3v3h-3zM193 444h3v3h-3zM253 447h3v3h-3zM193 450h3v3h-3z"/>
<path fill="#d3d3d3" d="M205 429h3v3h-3zM241 429h3v3h-3zM250 438h3v3h-3zM193 447h3v3h-3z"/>
<path fill="#d4d4d4" d="M196 438h3v3h-3z"/>
<path fill="#d5d5d5" d="M214 426h3v3h-3zM232 426h3v3h-3zM202 432h3v3h-3zM244 432h3v3h-3zM199 435h3v3h-3zM247 435h3v3h-3z"/>
<path fill="#d6d6d6" d="M217 426h3v3h-3zM229 426h3v3h-3zM250 441h3v3h-3z"/>
<path fill="#d7d7d7" d="M208 429h3v3h-3zM238 429h3v3h-3zM196 441h3v3h-3zM250 450h3v3h-3z"/>
<path fill="#d8d8d8" d="M220 426h3v3h-3zM223 426h3v3h-3zM226 426h3v3h-3zM250 444h3v3h-3zM250 447h3v3h-3z"/>
<path fill="#d9d9d9" d="M241 432h3v3h-3zM247 438h3v3h-3zM196 444h3v3h-3zM196 450h3v3h-3z"/>
<path fill="#dadada" d="M211 429h3v3h-3zM235 429h3v3h-3zM205 432h3v3h-3zM244 435h3v3h-3zM199 438h3v3h-3zM196 447h3v3h-3z"/>
<path fill="#dbdbdb" d="M202 435h3v3h-3z"/>
<path fill="#dcdcdc" d="M247 441h3v3h-3z"/>
<path fill="#dddddd" d="M214 429h3v3h-3zM232 429h3v3h-3z"/>
<path fill="#dedede" d="M208 432h3v3h-3zM238 432h3v3h-3zM199 441h3v3h-3zM247 444h3v3h-3zM247 450h3v3h-3z"/>
<path fill="#dfdfdf" d="M217 429h3v3h-3zM229 429h3v3h-3zM241 435h3v3h-3zM244 438h3v3h-3zM247 447h3v3h-3z"/>
<path fill="#e0e0e0" d="M220 429h3v3h-3zM223 429h3v3h-3zM226 429h3v3h-3zM205 435h3v3h-3zM202 438h3v3h-3zM199 444h3v3h-3zM199 450h3v3h-3z"/>
<path fill="#e1e1e1" d="M235 432h3v3h-3zM199 447h3v3h-3z"/>
<path fill="#e2e2e2" d="M211 432h3v3h-3zM244 441h3v3h-3z"/>
<path fill="#e4e4e4" d="M232 432h3v3h-3zM238 435h3v3h-3zM241 438h3v3h-3zM202 441h3v3h-3zM244 450h3v3h-3z"/>
<path fill="#e5e5e5" d="M214 432h3v3h-3zM208 435h3v3h-3zM244 444h3v3h-3zM244 447h3v3h-3z"/>
<path fill="#e6e6e6" d="M205 438h3v3h-3zM202 450h3v3h-3z"/>
<path fill="#e7e7e7" d="M217 432h3v3h-3zM229 432h3v3h-3zM202 444h3v3h-3z"/>
<path fill="#e8e8e8" d="M220 432h3v3h-3zM226 432h3v3h-3zM235 435h3v3h-3zM241 441h3v3h-3zM202 447h3v3h-3z"/>
<path fill="#e9e9e9" d="M223 432h3v3h-3zM211 435h3v3h-3zM238 438h3v3h-3z"/>
<path fill="#eaeaea" d="M205 441h3v3h-3zM241 444h3v3h-3zM241 450h3v3h-3z"/>
<path fill="#ebebeb" d="M232 435h3v3h-3zM208 438h3v3h-3zM241 447h3v3h-3z"/>
<path fill="#ececec" d="M214 435h3v3h-3zM205 444h3v3h-3zM205 450h3v3h-3z"/>
<path fill="#ededed" d="M235 438h3v3h-3zM238 441h3v3h-3z"/>
<path fill="#eeeeee" d="M217 435h3v3h-3zM229 435h3v3h-3zM205 447h3v3h-3z"/>
<path fill="#efefef" d="M226 435h3v3h-3zM211 438h3v3h-3zM208 441h3v3h-3zM238 450h3v3h-3z"/>
<path fill="#f0f0f0" d="M220 435h3v3h-3zM223 435h3v3h-3zM238 444h3v3h-3z"/>
<path fill="#f1f1f1" d="M232 438h3v3h-3zM238 447h3v3h-3zM208 450h3v3h-3z"/>
<path fill="#f2f2f2" d="M214 438h3v3h-3zM235 441h3v3h-3zM208 444h3v3h-3z"/>
<path fill="#f3f3f3" d="M211 441h3v3h-3zM208 447h3v3h-3z"/>
<path fill="#f4f4f4" d="M217 438h3v3h-3zM229 438h3v3h-3zM235 444h3v3h-3zM235 450h3v3h-3z"/>
<path fill="#f5f5f5" d="M226 438h3v3h-3zM232 441h3v3h-3zM211 450h3v3h-3z"/>
<path fill="#f6f6f6" d="M220 438h3v3h-3zM223 438h3v3h-3zM211 444h3v3h-3zM235 447h3v3h-3z"/>
<path fill="#f7f7f7" d="M214 441h3v3h-3zM211 447h3v3h-3zM232 450h3v3h-3z"/>
<path fill="#f8f8f8" d="M229 441h3v3h-3zM232 444h3v3h-3z"/>
<path fill="#f9f9f9" d="M217 441h3v3h-3zM232 447h3v3h-3zM214 450h3v3h-3z"/>
<path fill="#fafafa" d="M220 441h3v3h-3zM226 441h3v3h-3zM214 444h3v3h-3zM229 450h3v3h-3z"/>
<path fill="#fbfbfb" d="M223 441h3v3h-3zM229 444h3v3h-3zM214 447h3v3h-3zM217 450h3v3h-3z"/>
<path fill="#fcfcfc" d="M217 444h3v3h-3zM229 447h3v3h-3zM226 450h3v3h-3z"/>
<path fill="#fdfdfd" d="M226 444h3v3h-3zM217 447h3v3h-3zM220 450h3v3h-3zM223 450h3v3h-3z"/>
<path fill="#fefefe" d="M220 444h3v3h-3zM223 444h3v3h-3zM226 447h3v3h-3z"/>
<path fill="#ffffff" d="M220 447h3v3h-3zM223 447h3v3h-3z"/>
</g></g>
<defs><filter id="fs" x="30" y="250" width="250" height="225" filterUnits="userSpaceOnUse"><feGaussianBlur stdDeviation="0.6"/></filter></defs>
<g clip-path="url(#cpc)" filter="url(#fs)" opacity="0.75">
<path fill="#0628f6" d="M155 296h2v2h-2zM149 312h2v2h-2zM161 344h2v2h-2zM121 378h2v2h-2zM127 386h2v2h-2zM121 388h2v2h-2z"/>
<path fill="#033cf3" d="M161 280h2v2h-2zM157 282h2v2h-2zM159 292h2v2h-2zM167 294h2v2h-2zM171 298h2v2h-2zM155 300h2v2h-2zM167 304h2v2h-2zM165 308h2v2h-2zM155 310h2v2h-2zM161 312h2v2h-2zM157 314h2v2h-2zM149 316h2v2h-2zM153 318h2v2h-2zM161 320h2v2h-2zM165 322h2v2h-2zM163 324h2v2h-2zM151 326h2v2h-2zM163 326h2v2h-2zM165 326h2v2h-2zM171 334h2v2h-2zM161 336h2v2h-2zM167 336h2v2h-2zM167 338h2v2h-2zM161 340h2v2h-2zM159 342h2v2h-2zM167 342h2v2h-2zM161 348h2v2h-2zM151 350h2v2h-2zM159 352h2v2h-2zM171 352h2v2h-2zM157 356h2v2h-2zM157 360h2v2h-2zM143 368h2v2h-2zM135 374h2v2h-2zM137 374h2v2h-2zM127 390h2v2h-2zM127 398h2v2h-2zM121 440h2v2h-2zM113 454h2v2h-2zM119 458h2v2h-2zM115 462h2v2h-2z"/>
<path fill="#004ff0" d="M167 280h2v2h-2zM179 280h2v2h-2zM181 280h2v2h-2zM165 282h2v2h-2zM161 284h2v2h-2zM157 286h2v2h-2zM163 286h2v2h-2zM161 288h2v2h-2zM171 288h2v2h-2zM177 288h2v2h-2zM169 290h2v2h-2zM153 292h2v2h-2zM163 294h2v2h-2zM155 298h2v2h-2zM157 300h2v2h-2zM169 300h2v2h-2zM175 300h2v2h-2zM161 304h2v2h-2zM173 304h2v2h-2zM155 306h2v2h-2zM163 306h2v2h-2zM167 308h2v2h-2zM173 308h2v2h-2zM163 314h2v2h-2zM169 314h2v2h-2zM171 314h2v2h-2zM161 316h2v2h-2zM177 316h2v2h-2zM163 320h2v2h-2zM163 322h2v2h-2zM177 322h2v2h-2zM175 324h2v2h-2zM151 328h2v2h-2zM153 328h2v2h-2zM163 328h2v2h-2zM177 328h2v2h-2zM155 332h2v2h-2zM165 332h2v2h-2zM163 334h2v2h-2zM177 334h2v2h-2zM165 336h2v2h-2zM151 338h2v2h-2zM157 338h2v2h-2zM175 338h2v2h-2zM149 340h2v2h-2zM155 340h2v2h-2zM163 340h2v2h-2zM165 340h2v2h-2zM175 340h2v2h-2zM169 342h2v2h-2zM175 342h2v2h-2zM159 344h2v2h-2zM179 344h2v2h-2zM171 346h2v2h-2zM177 346h2v2h-2zM157 348h2v2h-2zM163 350h2v2h-2zM167 350h2v2h-2zM167 352h2v2h-2zM149 356h2v2h-2zM165 358h2v2h-2zM175 358h2v2h-2zM161 362h2v2h-2zM145 364h2v2h-2zM157 364h2v2h-2zM145 366h2v2h-2zM129 370h2v2h-2zM131 372h2v2h-2zM137 372h2v2h-2zM123 376h2v2h-2zM133 382h2v2h-2zM117 416h2v2h-2zM115 434h2v2h-2zM121 438h2v2h-2zM125 440h2v2h-2zM125 452h2v2h-2zM123 458h2v2h-2z"/>
<path fill="#0069f0" d="M159 282h2v2h-2zM171 282h2v2h-2zM177 282h2v2h-2zM179 282h2v2h-2zM183 282h2v2h-2zM159 284h2v2h-2zM183 284h2v2h-2zM167 286h2v2h-2zM183 288h2v2h-2zM157 294h2v2h-2zM169 294h2v2h-2zM173 294h2v2h-2zM177 296h2v2h-2zM185 298h2v2h-2zM151 300h2v2h-2zM181 300h2v2h-2zM167 302h2v2h-2zM157 304h2v2h-2zM183 304h2v2h-2zM185 304h2v2h-2zM175 310h2v2h-2zM179 310h2v2h-2zM173 314h2v2h-2zM179 314h2v2h-2zM163 316h2v2h-2zM173 316h2v2h-2zM161 318h2v2h-2zM183 318h2v2h-2zM167 320h2v2h-2zM177 320h2v2h-2zM179 320h2v2h-2zM181 320h2v2h-2zM173 322h2v2h-2zM171 324h2v2h-2zM179 324h2v2h-2zM175 326h2v2h-2zM177 326h2v2h-2zM179 326h2v2h-2zM171 328h2v2h-2zM181 328h2v2h-2zM183 328h2v2h-2zM161 330h2v2h-2zM171 330h2v2h-2zM173 330h2v2h-2zM177 330h2v2h-2zM171 332h2v2h-2zM181 332h2v2h-2zM161 334h2v2h-2zM181 334h2v2h-2zM179 336h2v2h-2zM183 336h2v2h-2zM159 338h2v2h-2zM173 338h2v2h-2zM179 338h2v2h-2zM183 338h2v2h-2zM177 340h2v2h-2zM179 340h2v2h-2zM185 340h2v2h-2zM161 342h2v2h-2zM165 344h2v2h-2zM183 344h2v2h-2zM165 346h2v2h-2zM177 348h2v2h-2zM173 350h2v2h-2zM161 354h2v2h-2zM167 354h2v2h-2zM165 356h2v2h-2zM179 356h2v2h-2zM181 358h2v2h-2zM167 360h2v2h-2zM175 362h2v2h-2zM177 362h2v2h-2zM153 364h2v2h-2zM179 364h2v2h-2zM147 370h2v2h-2zM143 374h2v2h-2zM135 378h2v2h-2zM139 378h2v2h-2zM135 384h2v2h-2zM125 386h2v2h-2zM131 386h2v2h-2zM133 394h2v2h-2zM127 404h2v2h-2zM129 418h2v2h-2zM131 422h2v2h-2zM129 426h2v2h-2zM123 430h2v2h-2zM129 430h2v2h-2zM127 432h2v2h-2zM123 434h2v2h-2zM123 438h2v2h-2zM125 446h2v2h-2zM125 458h2v2h-2zM123 460h2v2h-2zM125 460h2v2h-2zM121 462h2v2h-2z"/>
<path fill="#0083f0" d="M189 282h2v2h-2zM185 286h2v2h-2zM157 290h2v2h-2zM171 290h2v2h-2zM177 290h2v2h-2zM169 292h2v2h-2zM177 292h2v2h-2zM171 296h2v2h-2zM177 298h2v2h-2zM183 298h2v2h-2zM165 300h2v2h-2zM169 302h2v2h-2zM171 302h2v2h-2zM173 302h2v2h-2zM179 302h2v2h-2zM155 304h2v2h-2zM175 304h2v2h-2zM159 306h2v2h-2zM167 310h2v2h-2zM177 310h2v2h-2zM167 312h2v2h-2zM165 314h2v2h-2zM181 314h2v2h-2zM185 316h2v2h-2zM161 322h2v2h-2zM165 324h2v2h-2zM167 328h2v2h-2zM181 330h2v2h-2zM187 330h2v2h-2zM169 332h2v2h-2zM189 332h2v2h-2zM189 334h2v2h-2zM169 336h2v2h-2zM187 336h2v2h-2zM181 338h2v2h-2zM185 338h2v2h-2zM173 342h2v2h-2zM163 344h2v2h-2zM161 346h2v2h-2zM179 346h2v2h-2zM175 350h2v2h-2zM179 350h2v2h-2zM183 350h2v2h-2zM185 354h2v2h-2zM165 362h2v2h-2zM171 362h2v2h-2zM177 364h2v2h-2zM139 370h2v2h-2zM149 370h2v2h-2zM147 372h2v2h-2zM133 374h2v2h-2zM141 374h2v2h-2zM141 376h2v2h-2zM131 380h2v2h-2zM141 380h2v2h-2zM129 390h2v2h-2zM131 390h2v2h-2zM135 390h2v2h-2zM127 394h2v2h-2zM131 400h2v2h-2zM133 406h2v2h-2zM131 408h2v2h-2zM129 412h2v2h-2zM133 418h2v2h-2zM133 420h2v2h-2zM133 426h2v2h-2zM125 430h2v2h-2zM131 438h2v2h-2zM127 448h2v2h-2zM127 462h2v2h-2z"/>
<path fill="#00a1f0" d="M177 280h2v2h-2zM177 284h2v2h-2zM173 288h2v2h-2zM173 290h2v2h-2zM187 290h2v2h-2zM171 304h2v2h-2zM177 304h2v2h-2zM181 304h2v2h-2zM187 306h2v2h-2zM171 308h2v2h-2zM189 308h2v2h-2zM173 310h2v2h-2zM189 314h2v2h-2zM173 318h2v2h-2zM175 318h2v2h-2zM169 322h2v2h-2zM171 326h2v2h-2zM193 326h2v2h-2zM185 336h2v2h-2zM171 342h2v2h-2zM173 344h2v2h-2zM143 346h2v2h-2zM173 346h2v2h-2zM153 348h2v2h-2zM171 348h2v2h-2zM193 348h2v2h-2zM165 352h2v2h-2zM169 356h2v2h-2zM177 356h2v2h-2zM187 356h2v2h-2zM175 360h2v2h-2zM189 360h2v2h-2zM149 362h2v2h-2zM169 362h2v2h-2zM187 362h2v2h-2zM151 368h2v2h-2zM141 372h2v2h-2zM151 372h2v2h-2zM143 376h2v2h-2zM143 378h2v2h-2zM139 384h2v2h-2zM137 388h2v2h-2zM137 392h2v2h-2zM139 392h2v2h-2zM137 394h2v2h-2zM137 398h2v2h-2zM131 402h2v2h-2zM127 406h2v2h-2zM131 406h2v2h-2zM133 412h2v2h-2zM125 414h2v2h-2zM135 414h2v2h-2zM131 420h2v2h-2zM135 420h2v2h-2zM129 422h2v2h-2zM129 428h2v2h-2zM133 428h2v2h-2zM129 432h2v2h-2zM127 454h2v2h-2z"/>
<path fill="#00c0f0" d="M193 282h2v2h-2zM195 288h2v2h-2zM175 292h2v2h-2zM187 294h2v2h-2zM189 294h2v2h-2zM187 296h2v2h-2zM195 296h2v2h-2zM187 298h2v2h-2zM163 300h2v2h-2zM189 300h2v2h-2zM183 302h2v2h-2zM169 310h2v2h-2zM187 318h2v2h-2zM189 318h2v2h-2zM193 320h2v2h-2zM165 328h2v2h-2zM199 328h2v2h-2zM167 334h2v2h-2zM183 334h2v2h-2zM191 334h2v2h-2zM177 338h2v2h-2zM181 340h2v2h-2zM187 340h2v2h-2zM175 344h2v2h-2zM185 344h2v2h-2zM183 346h2v2h-2zM191 348h2v2h-2zM191 350h2v2h-2zM175 352h2v2h-2zM179 354h2v2h-2zM173 356h2v2h-2zM183 356h2v2h-2zM185 356h2v2h-2zM179 358h2v2h-2zM185 358h2v2h-2zM191 358h2v2h-2zM185 360h2v2h-2zM153 362h2v2h-2zM181 364h2v2h-2zM193 364h2v2h-2zM173 366h2v2h-2zM175 366h2v2h-2zM187 366h2v2h-2zM157 370h2v2h-2zM149 376h2v2h-2zM139 382h2v2h-2zM133 390h2v2h-2zM135 408h2v2h-2zM133 416h2v2h-2zM123 432h2v2h-2zM135 432h2v2h-2zM135 434h2v2h-2zM131 446h2v2h-2zM131 452h2v2h-2zM123 454h2v2h-2zM127 456h2v2h-2zM129 462h2v2h-2z"/>
<path fill="#00e0f0" d="M181 284h2v2h-2zM169 286h2v2h-2zM177 286h2v2h-2zM197 290h2v2h-2zM181 296h2v2h-2zM175 298h2v2h-2zM191 300h2v2h-2zM191 304h2v2h-2zM179 306h2v2h-2zM185 306h2v2h-2zM175 308h2v2h-2zM181 308h2v2h-2zM189 310h2v2h-2zM181 318h2v2h-2zM207 326h2v2h-2zM179 330h2v2h-2zM205 334h2v2h-2zM177 344h2v2h-2zM197 350h2v2h-2zM185 352h2v2h-2zM189 356h2v2h-2zM193 360h2v2h-2zM151 366h2v2h-2zM165 366h2v2h-2zM179 366h2v2h-2zM181 366h2v2h-2zM165 368h2v2h-2zM143 372h2v2h-2zM147 374h2v2h-2zM141 386h2v2h-2zM139 388h2v2h-2zM139 402h2v2h-2zM141 402h2v2h-2zM135 404h2v2h-2zM135 406h2v2h-2zM137 406h2v2h-2zM137 418h2v2h-2zM131 426h2v2h-2zM127 450h2v2h-2zM133 452h2v2h-2zM135 454h2v2h-2zM133 460h2v2h-2zM131 462h2v2h-2z"/>
<path fill="#00e0da" d="M179 286h2v2h-2zM199 290h2v2h-2zM195 298h2v2h-2zM197 298h2v2h-2zM195 302h2v2h-2zM197 304h2v2h-2zM195 306h2v2h-2zM193 308h2v2h-2zM203 308h2v2h-2zM185 314h2v2h-2zM187 316h2v2h-2zM197 320h2v2h-2zM187 328h2v2h-2zM191 328h2v2h-2zM193 332h2v2h-2zM179 334h2v2h-2zM185 334h2v2h-2zM211 336h2v2h-2zM181 346h2v2h-2zM195 346h2v2h-2zM199 346h2v2h-2zM207 346h2v2h-2zM195 348h2v2h-2zM191 354h2v2h-2zM191 356h2v2h-2zM199 360h2v2h-2zM197 366h2v2h-2zM169 368h2v2h-2zM155 372h2v2h-2zM153 376h2v2h-2zM147 378h2v2h-2zM145 382h2v2h-2zM147 382h2v2h-2zM145 390h2v2h-2zM143 396h2v2h-2zM137 400h2v2h-2zM141 414h2v2h-2zM137 422h2v2h-2zM137 424h2v2h-2zM139 428h2v2h-2zM141 430h2v2h-2zM133 432h2v2h-2zM137 432h2v2h-2zM131 440h2v2h-2zM133 440h2v2h-2zM137 442h2v2h-2zM133 444h2v2h-2zM137 444h2v2h-2zM135 448h2v2h-2zM133 454h2v2h-2zM133 458h2v2h-2zM137 458h2v2h-2zM137 462h2v2h-2z"/>
<path fill="#00e0c4" d="M185 290h2v2h-2zM207 290h2v2h-2zM189 296h2v2h-2zM191 296h2v2h-2zM201 302h2v2h-2zM205 306h2v2h-2zM197 310h2v2h-2zM193 322h2v2h-2zM197 326h2v2h-2zM205 332h2v2h-2zM167 368h2v2h-2zM143 384h2v2h-2zM137 386h2v2h-2zM147 388h2v2h-2zM147 390h2v2h-2zM143 392h2v2h-2zM143 394h2v2h-2zM135 410h2v2h-2zM139 414h2v2h-2zM133 424h2v2h-2zM135 430h2v2h-2zM143 430h2v2h-2zM139 432h2v2h-2zM135 436h2v2h-2zM137 436h2v2h-2zM135 446h2v2h-2zM139 452h2v2h-2zM141 452h2v2h-2z"/>
<path fill="#00e0ab" d="M185 284h2v2h-2zM197 286h2v2h-2zM159 348h2v2h-2zM201 348h2v2h-2zM207 352h2v2h-2zM203 362h2v2h-2zM207 366h2v2h-2zM173 368h2v2h-2zM175 368h2v2h-2zM145 386h2v2h-2zM145 396h2v2h-2zM139 410h2v2h-2zM141 410h2v2h-2zM143 414h2v2h-2zM145 416h2v2h-2zM141 424h2v2h-2zM139 426h2v2h-2zM145 428h2v2h-2zM141 432h2v2h-2zM141 436h2v2h-2zM135 438h2v2h-2zM141 444h2v2h-2zM139 446h2v2h-2zM141 456h2v2h-2zM141 458h2v2h-2zM139 462h2v2h-2z"/>
<path fill="#00e091" d="M205 314h2v2h-2zM187 322h2v2h-2zM197 354h2v2h-2zM185 366h2v2h-2zM147 380h2v2h-2zM153 380h2v2h-2zM135 392h2v2h-2zM143 400h2v2h-2zM135 412h2v2h-2zM147 416h2v2h-2zM139 420h2v2h-2zM143 426h2v2h-2zM143 428h2v2h-2zM143 436h2v2h-2zM145 440h2v2h-2zM137 446h2v2h-2zM131 448h2v2h-2zM139 448h2v2h-2zM143 456h2v2h-2zM143 462h2v2h-2z"/>
<path fill="#02e079" d="M195 284h2v2h-2zM207 348h2v2h-2zM151 380h2v2h-2zM143 390h2v2h-2zM147 392h2v2h-2zM149 396h2v2h-2zM145 402h2v2h-2zM151 404h2v2h-2zM153 404h2v2h-2zM151 406h2v2h-2zM143 412h2v2h-2zM145 418h2v2h-2zM149 426h2v2h-2zM141 428h2v2h-2zM147 430h2v2h-2z"/>
<path fill="#06e066" d="M189 368h2v2h-2zM149 382h2v2h-2zM149 384h2v2h-2zM143 386h2v2h-2zM145 420h2v2h-2zM145 434h2v2h-2zM149 440h2v2h-2zM141 442h2v2h-2zM143 444h2v2h-2zM139 454h2v2h-2zM143 454h2v2h-2zM147 454h2v2h-2zM149 454h2v2h-2zM147 458h2v2h-2z"/>
<path fill="#0be053" d="M191 368h2v2h-2zM145 384h2v2h-2zM157 400h2v2h-2zM153 418h2v2h-2zM137 428h2v2h-2zM147 432h2v2h-2zM145 446h2v2h-2zM147 446h2v2h-2z"/>
<path fill="#10e040" d="M181 368h2v2h-2zM159 398h2v2h-2zM147 410h2v2h-2zM157 418h2v2h-2zM147 426h2v2h-2zM153 426h2v2h-2zM153 432h2v2h-2zM153 440h2v2h-2z"/>
<path fill="#15e536" d="M147 404h2v2h-2zM145 410h2v2h-2zM151 410h2v2h-2zM145 462h2v2h-2z"/>
<path fill="#1aea2c" d="M163 380h2v2h-2zM155 386h2v2h-2zM161 392h2v2h-2zM153 414h2v2h-2zM147 436h2v2h-2zM153 442h2v2h-2z"/>
<path fill="#1fef22" d="M157 444h2v2h-2z"/>
</g>
<line x1="39" y1="274.8" x2="271" y2="274.8" stroke="#e8f0ff" stroke-width="1.2" stroke-dasharray="3.5,3.6" opacity="0.9"/>
<line x1="39" y1="277" x2="271" y2="277" stroke="#e8f0ff" stroke-width="1.2" stroke-dasharray="3.5,3.6" opacity="0.9"/>
<line x1="39" y1="279.8" x2="271" y2="279.8" stroke="#e8f0ff" stroke-width="1.2" stroke-dasharray="3.5,3.6" opacity="0.9"/>
<line x1="39" y1="338.8" x2="271" y2="338.8" stroke="#e8f0ff" stroke-width="1.2" stroke-dasharray="3.5,3.6" opacity="0.9"/>
<line x1="39" y1="367.8" x2="271" y2="367.8" stroke="#e8f0ff" stroke-width="1.2" stroke-dasharray="3.5,3.6" opacity="0.9"/>
<line x1="39" y1="455" x2="271" y2="455" stroke="#e8f0ff" stroke-width="1.2" stroke-dasharray="3.5,3.6" opacity="0.9"/>
<g stroke="#111" stroke-width="1">
<line x1="39.00" y1="464.6" x2="39.00" y2="468"/>
<line x1="48.50" y1="464.6" x2="48.50" y2="466.5"/>
<line x1="58.00" y1="464.6" x2="58.00" y2="466.5"/>
<line x1="67.50" y1="464.6" x2="67.50" y2="466.5"/>
<line x1="77.00" y1="464.6" x2="77.00" y2="466.5"/>
<line x1="86.50" y1="464.6" x2="86.50" y2="468"/>
<line x1="96.00" y1="464.6" x2="96.00" y2="466.5"/>
<line x1="105.50" y1="464.6" x2="105.50" y2="466.5"/>
<line x1="115.00" y1="464.6" x2="115.00" y2="466.5"/>
<line x1="124.50" y1="464.6" x2="124.50" y2="466.5"/>
<line x1="134.00" y1="464.6" x2="134.00" y2="468"/>
<line x1="143.50" y1="464.6" x2="143.50" y2="466.5"/>
<line x1="153.00" y1="464.6" x2="153.00" y2="466.5"/>
<line x1="162.50" y1="464.6" x2="162.50" y2="466.5"/>
<line x1="172.00" y1="464.6" x2="172.00" y2="466.5"/>
<line x1="181.50" y1="464.6" x2="181.50" y2="468"/>
<line x1="191.00" y1="464.6" x2="191.00" y2="466.5"/>
<line x1="200.50" y1="464.6" x2="200.50" y2="466.5"/>
<line x1="210.00" y1="464.6" x2="210.00" y2="466.5"/>
<line x1="219.50" y1="464.6" x2="219.50" y2="466.5"/>
<line x1="229.00" y1="464.6" x2="229.00" y2="468"/>
<line x1="238.50" y1="464.6" x2="238.50" y2="466.5"/>
<line x1="248.00" y1="464.6" x2="248.00" y2="466.5"/>
<line x1="257.50" y1="464.6" x2="257.50" y2="466.5"/>
<line x1="267.00" y1="464.6" x2="267.00" y2="466.5"/>
<line x1="39" y1="263.60" x2="36.5" y2="263.60"/>
<line x1="39" y1="269.10" x2="36.5" y2="269.10"/>
<line x1="39" y1="274.60" x2="35" y2="274.60"/>
<line x1="39" y1="280.10" x2="36.5" y2="280.10"/>
<line x1="39" y1="285.60" x2="36.5" y2="285.60"/>
<line x1="39" y1="291.10" x2="36.5" y2="291.10"/>
<line x1="39" y1="296.60" x2="36.5" y2="296.60"/>
<line x1="39" y1="302.10" x2="35" y2="302.10"/>
<line x1="39" y1="307.60" x2="36.5" y2="307.60"/>
<line x1="39" y1="313.10" x2="36.5" y2="313.10"/>
<line x1="39" y1="318.60" x2="36.5" y2="318.60"/>
<line x1="39" y1="324.10" x2="36.5" y2="324.10"/>
<line x1="39" y1="329.60" x2="35" y2="329.60"/>
<line x1="39" y1="335.10" x2="36.5" y2="335.10"/>
<line x1="39" y1="340.60" x2="36.5" y2="340.60"/>
<line x1="39" y1="346.10" x2="36.5" y2="346.10"/>
<line x1="39" y1="351.60" x2="36.5" y2="351.60"/>
<line x1="39" y1="357.10" x2="35" y2="357.10"/>
<line x1="39" y1="362.60" x2="36.5" y2="362.60"/>
<line x1="39" y1="368.10" x2="36.5" y2="368.10"/>
<line x1="39" y1="373.60" x2="36.5" y2="373.60"/>
<line x1="39" y1="379.10" x2="36.5" y2="379.10"/>
<line x1="39" y1="384.60" x2="35" y2="384.60"/>
<line x1="39" y1="390.10" x2="36.5" y2="390.10"/>
<line x1="39" y1="395.60" x2="36.5" y2="395.60"/>
<line x1="39" y1="401.10" x2="36.5" y2="401.10"/>
<line x1="39" y1="406.60" x2="36.5" y2="406.60"/>
<line x1="39" y1="412.10" x2="35" y2="412.10"/>
<line x1="39" y1="417.60" x2="36.5" y2="417.60"/>
<line x1="39" y1="423.10" x2="36.5" y2="423.10"/>
<line x1="39" y1="428.60" x2="36.5" y2="428.60"/>
<line x1="39" y1="434.10" x2="36.5" y2="434.10"/>
<line x1="39" y1="439.60" x2="35" y2="439.60"/>
<line x1="39" y1="445.10" x2="36.5" y2="445.10"/>
<line x1="39" y1="450.60" x2="36.5" y2="450.60"/>
<line x1="39" y1="456.10" x2="36.5" y2="456.10"/>
<line x1="269.66" y1="260" x2="269.66" y2="257.5"/>
<line x1="255.15" y1="260" x2="255.15" y2="257.5"/>
<line x1="241.62" y1="260" x2="241.62" y2="256"/>
<line x1="228.95" y1="260" x2="228.95" y2="257.5"/>
<line x1="217.08" y1="260" x2="217.08" y2="257.5"/>
<line x1="205.92" y1="260" x2="205.92" y2="257.5"/>
<line x1="195.43" y1="260" x2="195.43" y2="257.5"/>
<line x1="185.53" y1="260" x2="185.53" y2="257.5"/>
<line x1="176.18" y1="260" x2="176.18" y2="257.5"/>
<line x1="167.34" y1="260" x2="167.34" y2="257.5"/>
<line x1="158.96" y1="260" x2="158.96" y2="257.5"/>
<line x1="151.01" y1="260" x2="151.01" y2="257.5"/>
<line x1="143.46" y1="260" x2="143.46" y2="256"/>
<line x1="136.28" y1="260" x2="136.28" y2="257.5"/>
<line x1="129.44" y1="260" x2="129.44" y2="257.5"/>
<line x1="122.92" y1="260" x2="122.92" y2="257.5"/>
<line x1="116.69" y1="260" x2="116.69" y2="257.5"/>
<line x1="110.74" y1="260" x2="110.74" y2="257.5"/>
<line x1="105.05" y1="260" x2="105.05" y2="257.5"/>
<line x1="99.61" y1="260" x2="99.61" y2="257.5"/>
<line x1="94.39" y1="260" x2="94.39" y2="257.5"/>
<line x1="89.38" y1="260" x2="89.38" y2="257.5"/>
<line x1="84.57" y1="260" x2="84.57" y2="256"/>
<line x1="79.95" y1="260" x2="79.95" y2="257.5"/>
<line x1="75.51" y1="260" x2="75.51" y2="257.5"/>
<line x1="71.24" y1="260" x2="71.24" y2="257.5"/>
<line x1="67.12" y1="260" x2="67.12" y2="257.5"/>
<line x1="63.15" y1="260" x2="63.15" y2="257.5"/>
<line x1="59.33" y1="260" x2="59.33" y2="257.5"/>
<line x1="55.64" y1="260" x2="55.64" y2="257.5"/>
<line x1="52.08" y1="260" x2="52.08" y2="257.5"/>
<line x1="48.64" y1="260" x2="48.64" y2="257.5"/>
<line x1="45.31" y1="260" x2="45.31" y2="256"/>
<line x1="42.09" y1="260" x2="42.09" y2="257.5"/>
</g>
<path d="M271 260.3H39.3V464.3H271" fill="none" stroke="#111" stroke-width="1"/>
<text class="b" x="30" y="278.5" font-size="11.2" text-anchor="end">0.0</text>
<text class="b" x="30" y="306.0" font-size="11.2" text-anchor="end">0.5</text>
<text class="b" x="30" y="333.5" font-size="11.2" text-anchor="end">1.0</text>
<text class="b" x="30" y="361.0" font-size="11.2" text-anchor="end">1.5</text>
<text class="b" x="30" y="388.5" font-size="11.2" text-anchor="end">2.0</text>
<text class="b" x="30" y="416.0" font-size="11.2" text-anchor="end">2.5</text>
<text class="b" x="30" y="443.5" font-size="11.2" text-anchor="end">3.0</text>
<text class="b" x="39.0" y="482.8" font-size="11.2" text-anchor="middle">200</text>
<text class="b" x="86.5" y="482.8" font-size="11.2" text-anchor="middle">250</text>
<text class="b" x="134.0" y="482.8" font-size="11.2" text-anchor="middle">300</text>
<text class="b" x="181.5" y="482.8" font-size="11.2" text-anchor="middle">350</text>
<text class="b" x="229.0" y="482.8" font-size="11.2" text-anchor="middle">400</text>
<text class="b" x="108.8" y="493.5" font-size="11" textLength="94.5" lengthAdjust="spacing">Wavelength (nm)</text>
<text class="b" transform="translate(10,393) rotate(-90)" font-size="11.5" textLength="62" lengthAdjust="spacing">Depth (µm)</text>
<path d="M22 312.0 L30 312.0 L30 308.5 L37.5 313.0 L30 317.5 L30 314.0 L22 314.0 Z" fill="#6aa82a"/>
<path d="M22 372.6 L30 372.6 L30 369.1 L37.5 373.6 L30 378.1 L30 374.6 L22 374.6 Z" fill="#1a2ad8"/>
<path d="M22 447.0 L30 447.0 L30 443.5 L37.5 448.0 L30 452.5 L30 449.0 L22 449.0 Z" fill="#6a8af0"/>
<rect x="45.8" y="436.1" width="40.2" height="12.8" fill="#000"/>
<rect x="44.3" y="434.6" width="40.2" height="12.8" fill="#fff" stroke="#000" stroke-width="1"/>
<text class="b" x="46.4" y="444.1" font-size="9.8" stroke="#000" stroke-width="0.25" textLength="35.3" lengthAdjust="spacingAndGlyphs">T = 17 K</text>
<rect x="275" y="273.5" width="13.5" height="3.2" fill="#d9b35e"/>
<rect x="275" y="276.7" width="13.5" height="1.8" fill="#c8c890"/>
<rect x="275" y="278.5" width="13.5" height="3.5" fill="#1b3a8c"/>
<rect x="275" y="282" width="13.5" height="57" fill="#78a02a"/>
<rect x="275" y="340.3" width="13.5" height="115.7" fill="#6a7ef0"/>
<text class="b" transform="translate(284.3,311) rotate(-90)" font-size="6.5" fill="#fff" text-anchor="middle" textLength="29.5" lengthAdjust="spacingAndGlyphs">n-AlGaN</text>
<text class="b" transform="translate(284.3,355) rotate(-90)" font-size="6.5" fill="#fff" text-anchor="middle" textLength="12.5" lengthAdjust="spacingAndGlyphs">AlN</text>
<text class="b" transform="translate(284.2,413) rotate(-90)" font-size="6.5" fill="#fff" text-anchor="middle" textLength="59" lengthAdjust="spacingAndGlyphs">DGA-AlN template</text>
<linearGradient id="gcc" x1="0" y1="1" x2="0" y2="0"><stop offset="0.0" stop-color="#0010d0"/><stop offset="0.05" stop-color="#071af1"/><stop offset="0.1" stop-color="#033cf3"/><stop offset="0.15" stop-color="#0069f0"/><stop offset="0.2" stop-color="#00a1f0"/><stop offset="0.25" stop-color="#00e0f0"/><stop offset="0.3" stop-color="#00e0c4"/><stop offset="0.35" stop-color="#00e091"/><stop offset="0.4" stop-color="#06e066"/><stop offset="0.45" stop-color="#10e040"/><stop offset="0.5" stop-color="#1aea2c"/><stop offset="0.55" stop-color="#32f020"/><stop offset="0.6" stop-color="#60f020"/><stop offset="0.65" stop-color="#8ef020"/><stop offset="0.7" stop-color="#bef01a"/><stop offset="0.75" stop-color="#f0f010"/><stop offset="0.8" stop-color="#f5b410"/><stop offset="0.85" stop-color="#f67c10"/><stop offset="0.9" stop-color="#f14a10"/><stop offset="0.95" stop-color="#ec3015"/><stop offset="1.0" stop-color="#e81c1c"/></linearGradient>
<rect x="296" y="262" width="13.5" height="203" fill="url(#gcc)"/>
<line x1="309.5" y1="262.0" x2="312" y2="262.0" stroke="#111" stroke-width="1"/>
<line x1="309.5" y1="287.375" x2="312" y2="287.375" stroke="#111" stroke-width="1"/>
<line x1="309.5" y1="312.75" x2="312" y2="312.75" stroke="#111" stroke-width="1"/>
<line x1="309.5" y1="338.125" x2="312" y2="338.125" stroke="#111" stroke-width="1"/>
<line x1="309.5" y1="363.5" x2="312" y2="363.5" stroke="#111" stroke-width="1"/>
<line x1="309.5" y1="388.875" x2="312" y2="388.875" stroke="#111" stroke-width="1"/>
<line x1="309.5" y1="414.25" x2="312" y2="414.25" stroke="#111" stroke-width="1"/>
<line x1="309.5" y1="439.625" x2="312" y2="439.625" stroke="#111" stroke-width="1"/>
<line x1="309.5" y1="465.0" x2="312" y2="465.0" stroke="#111" stroke-width="1"/>
<text class="b" transform="translate(326.4,425.6) rotate(-90)" font-size="10.7" textLength="117" lengthAdjust="spacingAndGlyphs">CL Intensity (arb. units)</text>
<text x="352.2" y="252.2" font-size="15.5" fill="#222" stroke="#222" stroke-width="0.3">(<tspan font-size="15" dy="0.4">d</tspan><tspan dy="-0.4">)</tspan></text>
<clipPath id="cd"><rect x="370" y="260" width="139" height="203.5"/></clipPath>
<g clip-path="url(#cd)" fill="none" stroke-linejoin="round">
<polyline stroke="#88ba44" stroke-width="1.0" points="370.0,332.0 370.4,334.7 370.7,330.4 371.1,335.0 371.5,334.1 371.9,338.5 372.2,337.2 372.6,333.3 373.0,339.8 373.3,333.6 373.7,338.2 374.1,340.4 374.5,335.0 374.8,337.0 375.2,331.8 375.6,327.8 376.0,318.7 376.3,319.0 376.7,309.4 377.1,301.2 377.4,298.5 377.8,285.2 378.2,279.9 378.6,273.4 378.9,274.3 379.3,282.1 379.7,281.7 380.0,296.9 380.4,299.0 380.8,306.1 381.2,315.0 381.5,319.3 381.9,322.9 382.3,324.5 382.6,330.0 383.0,334.0 383.4,338.2 383.8,336.9 384.1,334.2 384.5,335.8 384.9,334.9 385.3,336.0 385.6,340.1 386.0,337.4 386.4,335.8 386.7,339.5 387.1,336.2 387.5,338.8 387.9,339.5 388.2,338.4 388.6,337.7 389.0,338.9 389.3,340.3 389.7,338.1 390.1,342.1 390.5,338.0 390.8,335.8 391.2,339.1 391.6,336.6 391.9,336.9 392.3,340.0 392.7,339.0 393.1,334.1 393.4,335.5 393.8,334.2 394.2,339.1 394.6,332.0 394.9,335.6 395.3,337.9 395.7,331.4 396.0,334.7 396.4,331.8 396.8,332.2 397.2,335.4 397.5,332.2 397.9,333.1 398.3,336.0 398.6,330.1 399.0,337.4 399.4,334.9 399.8,331.3 400.1,331.4 400.5,333.8 400.9,332.7 401.2,330.8 401.6,333.0 402.0,333.8 402.4,331.9 402.7,331.0 403.1,331.5 403.5,331.8 403.9,329.0 404.2,331.2 404.6,329.3 405.0,331.2 405.3,330.7 405.7,331.2 406.1,334.0 406.5,333.1 406.8,327.5 407.2,329.8 407.6,330.2 407.9,329.1 408.3,327.5 408.7,331.8 409.1,330.0 409.4,328.3 409.8,328.2 410.2,326.9 410.5,327.7 410.9,329.2 411.3,328.4 411.7,327.1 412.0,326.0 412.4,324.9 412.8,325.8 413.2,324.9 413.5,324.3 413.9,323.8 414.3,325.2 414.6,322.5 415.0,323.6 415.4,320.7 415.8,321.1 416.1,324.7 416.5,320.9 416.9,322.0 417.2,320.5 417.6,320.9 418.0,321.8 418.4,319.1 418.7,318.4 419.1,317.1 419.5,321.9 419.8,318.5 420.2,318.4 420.6,318.5 421.0,317.8 421.3,316.7 421.7,314.3 422.1,317.1 422.5,316.1 422.8,315.6 423.2,317.2 423.6,315.5 423.9,313.8 424.3,316.5 424.7,315.6 425.1,315.3 425.4,312.8 425.8,310.9 426.2,312.9 426.5,312.5 426.9,310.6 427.3,311.6 427.7,313.0 428.0,310.7 428.4,310.1 428.8,310.3 429.1,309.9 429.5,311.0 429.9,309.8 430.3,310.1 430.6,312.4 431.0,311.7 431.4,308.0 431.8,309.9 432.1,306.7 432.5,309.3 432.9,307.3 433.2,310.5 433.6,309.6 434.0,310.0 434.4,306.9 434.7,309.3 435.1,309.0 435.5,308.7 435.8,307.6 436.2,311.8 436.6,306.7 437.0,307.6 437.3,310.2 437.7,309.0 438.1,308.7 438.4,309.4 438.8,312.2 439.2,313.6 439.6,312.6 439.9,311.5 440.3,310.2 440.7,312.0 441.1,313.5 441.4,312.1 441.8,314.9 442.2,314.3 442.5,315.2 442.9,317.0 443.3,316.4 443.7,316.9 444.0,318.4 444.4,318.6 444.8,320.4 445.1,319.0 445.5,318.2 445.9,319.3 446.3,316.8 446.6,315.7 447.0,310.1 447.4,306.0 447.7,299.5 448.1,295.3 448.5,290.9 448.9,285.6 449.2,280.0 449.6,277.3 450.0,272.6 450.4,277.1 450.7,278.3 451.1,281.1 451.5,284.9 451.8,291.6 452.2,292.2 452.6,297.2 453.0,298.4 453.3,302.7 453.7,303.8 454.1,304.7 454.4,306.6 454.8,309.0 455.2,310.5 455.6,314.8 455.9,314.0 456.3,312.8 456.7,313.9 457.0,315.2 457.4,316.6 457.8,319.1 458.2,315.7 458.5,317.6 458.9,321.5 459.3,321.5 459.7,322.5 460.0,322.6 460.4,324.8 460.8,325.8 461.1,325.3 461.5,325.8 461.9,328.5 462.3,327.8 462.6,327.8 463.0,327.0 463.4,328.5 463.7,326.2 464.1,327.0 464.5,329.2 464.9,326.9 465.2,330.5 465.6,329.2 466.0,328.1 466.3,329.6 466.7,332.0 467.1,330.6 467.5,332.2 467.8,329.9 468.2,328.6 468.6,331.7 469.0,331.5 469.3,334.8 469.7,334.2 470.1,333.4 470.4,332.0 470.8,337.1 471.2,333.8 471.6,330.3 471.9,330.3 472.3,331.6 472.7,334.2 473.0,333.6 473.4,337.0 473.8,337.3 474.2,338.3 474.5,329.2 474.9,335.2 475.3,333.8 475.6,332.4 476.0,334.1 476.4,334.5 476.8,334.9 477.1,338.3 477.5,335.3 477.9,335.2 478.3,342.2 478.6,335.6 479.0,336.9 479.4,335.6 479.7,335.1 480.1,337.1 480.5,338.7 480.9,335.4 481.2,335.9 481.6,334.8 482.0,333.2 482.3,342.0 482.7,337.3 483.1,339.1 483.5,336.9 483.8,338.1 484.2,336.9 484.6,337.1 484.9,337.5 485.3,342.3 485.7,341.1 486.1,340.5 486.4,340.6 486.8,338.1 487.2,338.2 487.6,338.5 487.9,337.6 488.3,341.5 488.7,335.8 489.0,336.2 489.4,338.7 489.8,342.0 490.2,339.3 490.5,341.4 490.9,339.5 491.3,341.9 491.6,337.5 492.0,341.6 492.4,341.4 492.8,338.6 493.1,337.3 493.5,339.7 493.9,336.5 494.2,337.1 494.6,340.8 495.0,339.2 495.4,341.4 495.7,341.2 496.1,338.4 496.5,340.0 496.9,337.7 497.2,339.9 497.6,340.0 498.0,343.6 498.3,339.2 498.7,343.0 499.1,339.8 499.5,341.3 499.8,340.7 500.2,343.1 500.6,341.1 500.9,336.3 501.3,336.5 501.7,339.9 502.1,341.9 502.4,340.6 502.8,341.6 503.2,343.0 503.5,340.9 503.9,338.7 504.3,341.6 504.7,342.4 505.0,340.0 505.4,341.9 505.8,338.3 506.2,341.1 506.5,341.1 506.9,337.3 507.3,338.0 507.6,344.1 508.0,341.9 508.4,341.3 508.8,344.3 509.1,342.7"/>
<polyline stroke="#2424c4" stroke-width="1.15" points="370.0,403.4 370.4,407.4 370.7,409.2 371.1,413.7 371.5,407.2 371.9,411.6 372.2,407.6 372.6,411.8 373.0,410.5 373.3,410.9 373.7,409.9 374.1,410.6 374.5,411.5 374.8,412.0 375.2,407.9 375.6,411.1 376.0,409.6 376.3,408.6 376.7,409.9 377.1,403.8 377.4,403.5 377.8,405.9 378.2,402.4 378.6,400.5 378.9,399.4 379.3,401.2 379.7,400.7 380.0,405.0 380.4,402.7 380.8,401.2 381.2,408.1 381.5,408.9 381.9,406.0 382.3,402.3 382.6,405.8 383.0,410.9 383.4,406.2 383.8,408.1 384.1,409.6 384.5,405.5 384.9,407.5 385.3,406.0 385.6,406.4 386.0,405.5 386.4,403.7 386.7,407.2 387.1,406.1 387.5,410.0 387.9,403.1 388.2,406.5 388.6,402.2 389.0,405.0 389.3,402.6 389.7,401.3 390.1,395.5 390.5,401.1 390.8,400.6 391.2,400.4 391.6,399.4 391.9,398.7 392.3,393.1 392.7,394.1 393.1,394.5 393.4,392.4 393.8,391.1 394.2,393.9 394.6,393.6 394.9,387.5 395.3,386.2 395.7,390.0 396.0,387.5 396.4,387.7 396.8,389.0 397.2,386.5 397.5,386.6 397.9,388.6 398.3,382.4 398.6,385.6 399.0,381.0 399.4,387.3 399.8,379.8 400.1,383.9 400.5,376.8 400.9,380.7 401.2,380.1 401.6,379.7 402.0,377.9 402.4,374.1 402.7,375.8 403.1,374.3 403.5,374.3 403.9,373.9 404.2,370.0 404.6,370.6 405.0,367.9 405.3,369.2 405.7,367.4 406.1,366.6 406.5,366.0 406.8,364.7 407.2,363.2 407.6,364.0 407.9,363.8 408.3,362.9 408.7,362.5 409.1,361.7 409.4,361.5 409.8,359.5 410.2,360.9 410.5,359.5 410.9,357.4 411.3,357.6 411.7,358.0 412.0,358.5 412.4,357.1 412.8,355.3 413.2,355.1 413.5,355.4 413.9,355.2 414.3,354.4 414.6,353.8 415.0,354.0 415.4,353.3 415.8,353.4 416.1,353.2 416.5,350.4 416.9,350.2 417.2,350.4 417.6,350.3 418.0,349.8 418.4,351.2 418.7,348.3 419.1,348.3 419.5,348.3 419.8,347.9 420.2,347.9 420.6,348.1 421.0,347.9 421.3,344.9 421.7,345.5 422.1,345.3 422.5,346.2 422.8,345.2 423.2,343.0 423.6,345.3 423.9,344.1 424.3,344.2 424.7,343.6 425.1,343.1 425.4,343.4 425.8,341.0 426.2,342.3 426.5,342.0 426.9,341.1 427.3,341.0 427.7,339.7 428.0,339.5 428.4,340.4 428.8,339.5 429.1,339.5 429.5,339.6 429.9,340.0 430.3,339.4 430.6,340.8 431.0,339.1 431.4,340.6 431.8,339.5 432.1,341.1 432.5,340.1 432.9,340.7 433.2,342.2 433.6,341.2 434.0,342.1 434.4,343.1 434.7,342.6 435.1,342.7 435.5,343.4 435.8,343.4 436.2,343.2 436.6,344.0 437.0,343.9 437.3,344.0 437.7,347.3 438.1,347.3 438.4,345.9 438.8,349.0 439.2,348.5 439.6,350.3 439.9,349.5 440.3,350.0 440.7,350.9 441.1,351.2 441.4,353.3 441.8,353.3 442.2,355.1 442.5,355.5 442.9,354.3 443.3,356.0 443.7,356.8 444.0,356.8 444.4,358.6 444.8,359.4 445.1,358.8 445.5,359.3 445.9,361.1 446.3,360.9 446.6,362.4 447.0,362.7 447.4,364.0 447.7,365.2 448.1,366.4 448.5,365.2 448.9,368.2 449.2,369.0 449.6,369.0 450.0,369.1 450.4,370.4 450.7,371.1 451.1,372.5 451.5,373.3 451.8,373.7 452.2,374.9 452.6,376.2 453.0,376.6 453.3,377.7 453.7,378.9 454.1,379.1 454.4,379.7 454.8,380.8 455.2,379.5 455.6,380.3 455.9,380.5 456.3,382.3 456.7,382.5 457.0,384.3 457.4,383.8 457.8,384.1 458.2,385.1 458.5,384.7 458.9,387.5 459.3,386.8 459.7,386.3 460.0,387.8 460.4,388.6 460.8,390.1 461.1,388.8 461.5,391.1 461.9,391.1 462.3,391.3 462.6,394.6 463.0,392.4 463.4,384.7 463.7,393.7 464.1,391.8 464.5,392.1 464.9,394.5 465.2,394.5 465.6,391.0 466.0,392.4 466.3,391.5 466.7,392.1 467.1,391.4 467.5,397.2 467.8,392.8 468.2,393.7 468.6,392.5 469.0,395.2 469.3,395.5 469.7,396.4 470.1,395.1 470.4,393.6 470.8,391.2 471.2,400.6 471.6,396.3 471.9,398.2 472.3,395.8 472.7,398.3 473.0,401.4 473.4,403.6 473.8,400.9 474.2,403.0 474.5,401.0 474.9,402.5 475.3,401.1 475.6,400.0 476.0,400.3 476.4,400.0 476.8,405.9 477.1,399.5 477.5,396.9 477.9,401.6 478.3,399.0 478.6,401.0 479.0,398.9 479.4,402.9 479.7,401.7 480.1,399.9 480.5,398.1 480.9,400.3 481.2,396.7 481.6,399.6 482.0,399.3 482.3,399.9 482.7,404.7 483.1,400.4 483.5,401.1 483.8,404.8 484.2,402.2 484.6,401.1 484.9,400.0 485.3,399.4 485.7,401.5 486.1,403.5 486.4,402.2 486.8,404.5 487.2,398.4 487.6,402.9 487.9,400.6 488.3,404.5 488.7,396.1 489.0,401.2 489.4,400.9 489.8,398.2 490.2,403.1 490.5,399.2 490.9,398.4 491.3,400.9 491.6,398.4 492.0,396.1 492.4,397.8 492.8,396.6 493.1,399.5 493.5,396.4 493.9,399.7 494.2,395.5 494.6,394.6 495.0,399.2 495.4,393.7 495.7,396.3 496.1,390.6 496.5,394.0 496.9,396.1 497.2,394.8 497.6,396.2 498.0,395.5 498.3,399.9 498.7,396.8 499.1,394.9 499.5,395.5 499.8,396.0 500.2,397.2 500.6,394.6 500.9,393.7 501.3,394.2 501.7,394.1 502.1,395.7 502.4,394.2 502.8,386.4 503.2,393.4 503.5,389.8 503.9,388.6 504.3,387.7 504.7,389.3 505.0,391.3 505.4,390.3 505.8,389.7 506.2,393.8 506.5,396.0 506.9,395.0 507.3,389.4 507.6,391.1 508.0,386.0 508.4,390.8 508.8,389.9 509.1,393.6"/>
<polyline stroke="#6677e6" stroke-width="0.95" points="370.0,461.9 370.4,461.1 370.7,461.1 371.1,463.0 371.5,458.7 371.9,457.5 372.2,457.8 372.6,455.5 373.0,459.2 373.3,449.1 373.7,453.9 374.1,467.5 374.5,455.3 374.8,459.6 375.2,459.0 375.6,459.5 376.0,457.4 376.3,457.0 376.7,459.3 377.1,456.5 377.4,451.6 377.8,450.3 378.2,449.3 378.6,456.9 378.9,452.3 379.3,456.6 379.7,451.8 380.0,447.1 380.4,453.5 380.8,453.5 381.2,451.2 381.5,454.5 381.9,458.4 382.3,451.0 382.6,455.5 383.0,460.6 383.4,456.6 383.8,456.2 384.1,453.3 384.5,455.1 384.9,452.8 385.3,454.1 385.6,457.8 386.0,453.1 386.4,456.6 386.7,446.5 387.1,447.6 387.5,453.5 387.9,448.4 388.2,451.0 388.6,453.4 389.0,452.8 389.3,453.1 389.7,446.4 390.1,446.5 390.5,450.7 390.8,445.0 391.2,448.6 391.6,445.7 391.9,444.8 392.3,440.7 392.7,443.8 393.1,445.5 393.4,445.6 393.8,440.7 394.2,443.0 394.6,439.1 394.9,442.3 395.3,433.2 395.7,438.4 396.0,430.9 396.4,437.1 396.8,432.5 397.2,432.6 397.5,429.9 397.9,431.2 398.3,427.8 398.6,435.8 399.0,422.8 399.4,427.1 399.8,427.7 400.1,427.8 400.5,424.7 400.9,423.4 401.2,420.9 401.6,419.7 402.0,419.7 402.4,416.3 402.7,415.9 403.1,414.8 403.5,413.5 403.9,411.5 404.2,412.1 404.6,410.2 405.0,409.1 405.3,407.7 405.7,406.5 406.1,404.1 406.5,404.0 406.8,403.4 407.2,401.8 407.6,399.6 407.9,398.9 408.3,398.0 408.7,397.3 409.1,395.9 409.4,393.8 409.8,393.3 410.2,391.4 410.5,391.3 410.9,389.1 411.3,388.4 411.7,386.6 412.0,387.2 412.4,384.6 412.8,384.8 413.2,385.4 413.5,383.4 413.9,382.8 414.3,381.0 414.6,380.7 415.0,380.2 415.4,380.3 415.8,379.3 416.1,378.0 416.5,378.1 416.9,375.7 417.2,375.4 417.6,374.5 418.0,374.3 418.4,373.3 418.7,374.1 419.1,373.2 419.5,372.0 419.8,371.7 420.2,372.2 420.6,370.4 421.0,371.1 421.3,370.3 421.7,368.8 422.1,369.8 422.5,368.1 422.8,369.3 423.2,368.1 423.6,366.9 423.9,367.6 424.3,366.5 424.7,367.9 425.1,366.1 425.4,367.0 425.8,365.9 426.2,366.3 426.5,366.7 426.9,366.2 427.3,364.6 427.7,366.0 428.0,366.3 428.4,366.2 428.8,366.0 429.1,364.5 429.5,364.4 429.9,364.2 430.3,364.0 430.6,363.4 431.0,362.9 431.4,364.4 431.8,362.6 432.1,362.2 432.5,363.5 432.9,363.2 433.2,363.3 433.6,363.7 434.0,363.3 434.4,364.4 434.7,364.5 435.1,364.2 435.5,364.9 435.8,365.2 436.2,365.9 436.6,366.5 437.0,366.0 437.3,366.7 437.7,367.3 438.1,367.3 438.4,369.3 438.8,368.7 439.2,368.7 439.6,370.0 439.9,371.3 440.3,372.3 440.7,371.7 441.1,372.9 441.4,374.7 441.8,374.2 442.2,376.5 442.5,376.3 442.9,376.1 443.3,377.3 443.7,377.9 444.0,377.7 444.4,379.7 444.8,379.3 445.1,380.5 445.5,381.9 445.9,381.3 446.3,382.9 446.6,383.5 447.0,384.6 447.4,385.7 447.7,386.9 448.1,388.3 448.5,388.7 448.9,389.5 449.2,389.9 449.6,392.1 450.0,391.9 450.4,393.1 450.7,393.9 451.1,395.7 451.5,395.9 451.8,397.5 452.2,397.8 452.6,400.0 453.0,399.8 453.3,401.5 453.7,402.9 454.1,403.2 454.4,404.3 454.8,404.2 455.2,405.9 455.6,406.2 455.9,407.6 456.3,407.9 456.7,409.2 457.0,410.1 457.4,410.3 457.8,411.5 458.2,411.9 458.5,414.7 458.9,414.1 459.3,414.9 459.7,415.0 460.0,418.1 460.4,417.1 460.8,418.0 461.1,420.0 461.5,421.0 461.9,421.6 462.3,421.8 462.6,423.9 463.0,425.0 463.4,424.7 463.7,425.8 464.1,426.2 464.5,425.4 464.9,427.3 465.2,427.6 465.6,428.2 466.0,428.9 466.3,429.4 466.7,429.9 467.1,430.6 467.5,432.3 467.8,432.1 468.2,432.9 468.6,434.1 469.0,434.8 469.3,434.4 469.7,435.6 470.1,438.4 470.4,434.7 470.8,433.7 471.2,439.5 471.6,439.5 471.9,439.0 472.3,437.9 472.7,439.4 473.0,438.2 473.4,441.6 473.8,441.8 474.2,442.5 474.5,443.5 474.9,443.1 475.3,444.2 475.6,443.6 476.0,443.9 476.4,441.0 476.8,443.9 477.1,445.1 477.5,445.7 477.9,445.3 478.3,445.0 478.6,447.5 479.0,448.1 479.4,445.9 479.7,450.2 480.1,445.4 480.5,447.8 480.9,448.0 481.2,448.9 481.6,449.8 482.0,447.6 482.3,449.8 482.7,448.8 483.1,447.8 483.5,450.9 483.8,450.6 484.2,451.0 484.6,454.5 484.9,449.1 485.3,453.3 485.7,451.2 486.1,451.1 486.4,449.2 486.8,450.7 487.2,452.2 487.6,450.5 487.9,449.9 488.3,450.9 488.7,450.3 489.0,450.3 489.4,451.0 489.8,450.1 490.2,447.6 490.5,448.6 490.9,452.1 491.3,447.2 491.6,448.2 492.0,448.0 492.4,447.9 492.8,448.0 493.1,447.4 493.5,450.5 493.9,445.7 494.2,442.2 494.6,444.8 495.0,443.1 495.4,444.7 495.7,446.6 496.1,446.0 496.5,443.1 496.9,443.0 497.2,442.9 497.6,442.1 498.0,442.4 498.3,441.7 498.7,440.4 499.1,442.0 499.5,440.9 499.8,441.0 500.2,440.9 500.6,443.2 500.9,441.0 501.3,441.3 501.7,441.7 502.1,438.7 502.4,438.1 502.8,434.9 503.2,439.4 503.5,436.9 503.9,434.5 504.3,438.3 504.7,438.1 505.0,436.0 505.4,435.0 505.8,437.2 506.2,434.1 506.5,430.6 506.9,431.0 507.3,433.2 507.6,435.3 508.0,433.8 508.4,434.4 508.8,430.7 509.1,429.2"/>
</g>
<line x1="431.7" y1="292" x2="431.7" y2="305" stroke="#555" stroke-width="1" stroke-dasharray="3,2"/>
<line x1="429.5" y1="340" x2="429.5" y2="394" stroke="#555" stroke-width="1" stroke-dasharray="3.5,2.5"/>
<rect x="370.5" y="260.3" width="138.5" height="203.2" fill="none" stroke="#111" stroke-width="1.3"/>
<g stroke="#111" stroke-width="0.9">
<line x1="370.00" y1="463.5" x2="370.00" y2="460"/>
<line x1="370.00" y1="260.5" x2="370.00" y2="264"/>
<line x1="376.20" y1="463.5" x2="376.20" y2="461.5"/>
<line x1="376.20" y1="260.5" x2="376.20" y2="262.5"/>
<line x1="382.40" y1="463.5" x2="382.40" y2="461.5"/>
<line x1="382.40" y1="260.5" x2="382.40" y2="262.5"/>
<line x1="388.60" y1="463.5" x2="388.60" y2="461.5"/>
<line x1="388.60" y1="260.5" x2="388.60" y2="262.5"/>
<line x1="394.80" y1="463.5" x2="394.80" y2="461.5"/>
<line x1="394.80" y1="260.5" x2="394.80" y2="262.5"/>
<line x1="401.00" y1="463.5" x2="401.00" y2="460"/>
<line x1="401.00" y1="260.5" x2="401.00" y2="264"/>
<line x1="407.20" y1="463.5" x2="407.20" y2="461.5"/>
<line x1="407.20" y1="260.5" x2="407.20" y2="262.5"/>
<line x1="413.40" y1="463.5" x2="413.40" y2="461.5"/>
<line x1="413.40" y1="260.5" x2="413.40" y2="262.5"/>
<line x1="419.60" y1="463.5" x2="419.60" y2="461.5"/>
<line x1="419.60" y1="260.5" x2="419.60" y2="262.5"/>
<line x1="425.80" y1="463.5" x2="425.80" y2="461.5"/>
<line x1="425.80" y1="260.5" x2="425.80" y2="262.5"/>
<line x1="432.00" y1="463.5" x2="432.00" y2="460"/>
<line x1="432.00" y1="260.5" x2="432.00" y2="264"/>
<line x1="438.20" y1="463.5" x2="438.20" y2="461.5"/>
<line x1="438.20" y1="260.5" x2="438.20" y2="262.5"/>
<line x1="444.40" y1="463.5" x2="444.40" y2="461.5"/>
<line x1="444.40" y1="260.5" x2="444.40" y2="262.5"/>
<line x1="450.60" y1="463.5" x2="450.60" y2="461.5"/>
<line x1="450.60" y1="260.5" x2="450.60" y2="262.5"/>
<line x1="456.80" y1="463.5" x2="456.80" y2="461.5"/>
<line x1="456.80" y1="260.5" x2="456.80" y2="262.5"/>
<line x1="463.00" y1="463.5" x2="463.00" y2="460"/>
<line x1="463.00" y1="260.5" x2="463.00" y2="264"/>
<line x1="469.20" y1="463.5" x2="469.20" y2="461.5"/>
<line x1="469.20" y1="260.5" x2="469.20" y2="262.5"/>
<line x1="475.40" y1="463.5" x2="475.40" y2="461.5"/>
<line x1="475.40" y1="260.5" x2="475.40" y2="262.5"/>
<line x1="481.60" y1="463.5" x2="481.60" y2="461.5"/>
<line x1="481.60" y1="260.5" x2="481.60" y2="262.5"/>
<line x1="487.80" y1="463.5" x2="487.80" y2="461.5"/>
<line x1="487.80" y1="260.5" x2="487.80" y2="262.5"/>
<line x1="494.00" y1="463.5" x2="494.00" y2="460"/>
<line x1="494.00" y1="260.5" x2="494.00" y2="264"/>
<line x1="500.20" y1="463.5" x2="500.20" y2="461.5"/>
<line x1="500.20" y1="260.5" x2="500.20" y2="262.5"/>
<line x1="506.40" y1="463.5" x2="506.40" y2="461.5"/>
<line x1="506.40" y1="260.5" x2="506.40" y2="262.5"/>
<line x1="370.5" y1="272" x2="374" y2="272"/><line x1="509" y1="272" x2="505.5" y2="272"/>
<line x1="370.5" y1="333" x2="374" y2="333"/><line x1="509" y1="333" x2="505.5" y2="333"/>
<line x1="370.5" y1="395" x2="374" y2="395"/><line x1="509" y1="395" x2="505.5" y2="395"/>
<line x1="370.5" y1="456" x2="374" y2="456"/><line x1="509" y1="456" x2="505.5" y2="456"/>
<line x1="370.5" y1="314.5" x2="372.5" y2="314.5"/><line x1="509" y1="314.5" x2="507" y2="314.5"/>
<line x1="370.5" y1="303.7" x2="372.5" y2="303.7"/><line x1="509" y1="303.7" x2="507" y2="303.7"/>
<line x1="370.5" y1="296.0" x2="372.5" y2="296.0"/><line x1="509" y1="296.0" x2="507" y2="296.0"/>
<line x1="370.5" y1="290.0" x2="372.5" y2="290.0"/><line x1="509" y1="290.0" x2="507" y2="290.0"/>
<line x1="370.5" y1="285.1" x2="372.5" y2="285.1"/><line x1="509" y1="285.1" x2="507" y2="285.1"/>
<line x1="370.5" y1="281.0" x2="372.5" y2="281.0"/><line x1="509" y1="281.0" x2="507" y2="281.0"/>
<line x1="370.5" y1="277.5" x2="372.5" y2="277.5"/><line x1="509" y1="277.5" x2="507" y2="277.5"/>
<line x1="370.5" y1="274.3" x2="372.5" y2="274.3"/><line x1="509" y1="274.3" x2="507" y2="274.3"/>
<line x1="370.5" y1="376.5" x2="372.5" y2="376.5"/><line x1="509" y1="376.5" x2="507" y2="376.5"/>
<line x1="370.5" y1="365.7" x2="372.5" y2="365.7"/><line x1="509" y1="365.7" x2="507" y2="365.7"/>
<line x1="370.5" y1="358.0" x2="372.5" y2="358.0"/><line x1="509" y1="358.0" x2="507" y2="358.0"/>
<line x1="370.5" y1="352.0" x2="372.5" y2="352.0"/><line x1="509" y1="352.0" x2="507" y2="352.0"/>
<line x1="370.5" y1="347.1" x2="372.5" y2="347.1"/><line x1="509" y1="347.1" x2="507" y2="347.1"/>
<line x1="370.5" y1="343.0" x2="372.5" y2="343.0"/><line x1="509" y1="343.0" x2="507" y2="343.0"/>
<line x1="370.5" y1="339.5" x2="372.5" y2="339.5"/><line x1="509" y1="339.5" x2="507" y2="339.5"/>
<line x1="370.5" y1="336.3" x2="372.5" y2="336.3"/><line x1="509" y1="336.3" x2="507" y2="336.3"/>
<line x1="370.5" y1="437.5" x2="372.5" y2="437.5"/><line x1="509" y1="437.5" x2="507" y2="437.5"/>
<line x1="370.5" y1="426.7" x2="372.5" y2="426.7"/><line x1="509" y1="426.7" x2="507" y2="426.7"/>
<line x1="370.5" y1="419.0" x2="372.5" y2="419.0"/><line x1="509" y1="419.0" x2="507" y2="419.0"/>
<line x1="370.5" y1="413.0" x2="372.5" y2="413.0"/><line x1="509" y1="413.0" x2="507" y2="413.0"/>
<line x1="370.5" y1="408.1" x2="372.5" y2="408.1"/><line x1="509" y1="408.1" x2="507" y2="408.1"/>
<line x1="370.5" y1="404.0" x2="372.5" y2="404.0"/><line x1="509" y1="404.0" x2="507" y2="404.0"/>
<line x1="370.5" y1="400.5" x2="372.5" y2="400.5"/><line x1="509" y1="400.5" x2="507" y2="400.5"/>
<line x1="370.5" y1="397.3" x2="372.5" y2="397.3"/><line x1="509" y1="397.3" x2="507" y2="397.3"/>
</g>
<text class="b" x="370.0" y="478.8" font-size="9" text-anchor="middle">200</text>
<text class="b" x="401.0" y="478.8" font-size="9" text-anchor="middle">300</text>
<text class="b" x="432.0" y="478.8" font-size="9" text-anchor="middle">400</text>
<text class="b" x="463.0" y="478.8" font-size="9" text-anchor="middle">500</text>
<text class="b" x="494.0" y="478.8" font-size="9" text-anchor="middle">600</text>
<text class="b" x="397.4" y="495" font-size="10.4" textLength="83.3" lengthAdjust="spacing">Wavelength (nm)</text>
<text class="b" transform="translate(355.6,435.6) rotate(-90)" font-size="10.5" textLength="150" lengthAdjust="spacingAndGlyphs">Norm. CL Intensity (arb. units)</text>
<text x="382.3" y="283" font-size="7.5" fill="#111" stroke="#111" stroke-width="0.2" textLength="33" lengthAdjust="spacingAndGlyphs">AlGaN NBE</text>
<text x="382.3" y="292.4" font-size="7.5" fill="#111" stroke="#111" stroke-width="0.2" textLength="22" lengthAdjust="spacingAndGlyphs">228 nm</text>
<text x="409" y="305" font-size="7.5" fill="#111" stroke="#111" stroke-width="0.2" textLength="20" lengthAdjust="spacingAndGlyphs">402 nm</text>
<text x="456" y="289" font-size="7.5" fill="#111" stroke="#111" stroke-width="0.2" textLength="30" lengthAdjust="spacingAndGlyphs">2nd order</text>
<text x="431.5" y="338" font-size="7.5" fill="#111" stroke="#111" stroke-width="0.2" textLength="12.5" lengthAdjust="spacingAndGlyphs">ODX</text>
<rect x="468.5" y="267.5" width="31" height="10.5" fill="#000"/>
<rect x="466.5" y="265.5" width="31" height="10.5" fill="#fff" stroke="#000" stroke-width="0.9"/>
<text class="b" x="468" y="273.7" font-size="8.5" textLength="28.3" lengthAdjust="spacingAndGlyphs">T = 17 K</text>
<rect x="479.6" y="324.3" width="27.3" height="8" fill="#78a830"/>
<text class="b" x="493.25" y="330.7" font-size="8" fill="#fff" text-anchor="middle" textLength="25.3" lengthAdjust="spacingAndGlyphs">n-AlGaN</text>
<rect x="477" y="377" width="29" height="7.5" fill="#1f1fc8"/>
<text class="b" x="491.5" y="382.9" font-size="7.8" fill="#fff" text-anchor="middle" textLength="27" lengthAdjust="spacingAndGlyphs">interface</text>
<rect x="477.8" y="424.6" width="28.5" height="7" fill="#1e6aa8"/>
<text class="b" x="492.05" y="430.0" font-size="7.3" fill="#fff" text-anchor="middle" textLength="26.5" lengthAdjust="spacingAndGlyphs">template</text>
</svg></body></html>
